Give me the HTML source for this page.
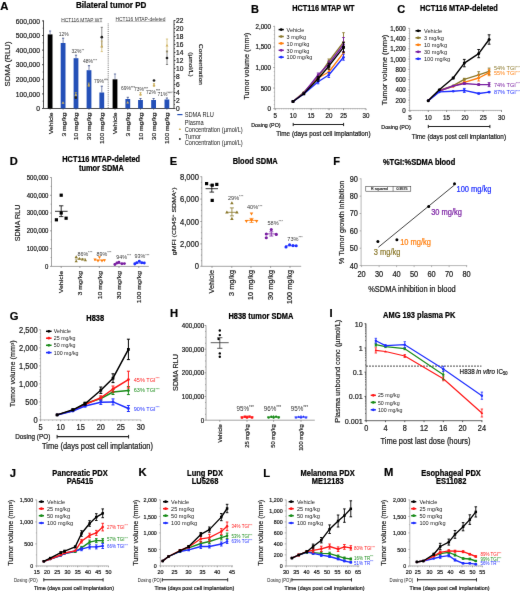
<!DOCTYPE html>
<html><head><meta charset="utf-8"><style>
html,body{margin:0;padding:0;background:#fff;width:520px;height:591px;overflow:hidden}
svg{display:block;will-change:transform}
text{font-family:"Liberation Sans", sans-serif;stroke:currentColor;stroke-width:0.2px;paint-order:stroke}
</style></head><body>
<svg width="520" height="591" viewBox="0 0 520 591">
<defs><filter id="bl" x="0" y="0" width="100%" height="100%" color-interpolation-filters="sRGB"><feConvolveMatrix order="3" kernelMatrix="0.00276 0.04704 0.00276 0.04704 0.80077 0.04704 0.00276 0.04704 0.00276" edgeMode="duplicate"/></filter></defs>
<g filter="url(#bl)">
<rect width="520" height="591" fill="#fff"/>
<text x="0.20" y="9.99" font-size="11.3" font-weight="bold" fill="#000" color="#000">A</text>
<text x="111.20" y="8.02" font-size="8.1" text-anchor="middle" font-weight="bold" fill="#000" color="#000" transform="matrix(1 0 0 1.1200 0 -0.612)">Bilateral tumor PD</text>
<line x1="43.50" y1="20.40" x2="43.50" y2="108.50" stroke="#222" stroke-width="0.8" />
<line x1="42.00" y1="108.50" x2="43.50" y2="108.50" stroke="#222" stroke-width="0.8" />
<text x="40.00" y="110.91" font-size="6.7" text-anchor="end" fill="#1a1a1a" color="#1a1a1a" transform="matrix(1 0 0 1.1200 0 -13.020)">0</text>
<line x1="42.00" y1="93.90" x2="43.50" y2="93.90" stroke="#222" stroke-width="0.8" />
<text x="40.00" y="96.31" font-size="6.7" text-anchor="end" fill="#1a1a1a" color="#1a1a1a" transform="matrix(1 0 0 1.1200 0 -11.268)">100,000</text>
<line x1="42.00" y1="79.30" x2="43.50" y2="79.30" stroke="#222" stroke-width="0.8" />
<text x="40.00" y="81.71" font-size="6.7" text-anchor="end" fill="#1a1a1a" color="#1a1a1a" transform="matrix(1 0 0 1.1200 0 -9.516)">200,000</text>
<line x1="42.00" y1="64.70" x2="43.50" y2="64.70" stroke="#222" stroke-width="0.8" />
<text x="40.00" y="67.11" font-size="6.7" text-anchor="end" fill="#1a1a1a" color="#1a1a1a" transform="matrix(1 0 0 1.1200 0 -7.764)">300,000</text>
<line x1="42.00" y1="50.10" x2="43.50" y2="50.10" stroke="#222" stroke-width="0.8" />
<text x="40.00" y="52.51" font-size="6.7" text-anchor="end" fill="#1a1a1a" color="#1a1a1a" transform="matrix(1 0 0 1.1200 0 -6.012)">400,000</text>
<line x1="42.00" y1="35.50" x2="43.50" y2="35.50" stroke="#222" stroke-width="0.8" />
<text x="40.00" y="37.91" font-size="6.7" text-anchor="end" fill="#1a1a1a" color="#1a1a1a" transform="matrix(1 0 0 1.1200 0 -4.260)">500,000</text>
<line x1="42.00" y1="20.90" x2="43.50" y2="20.90" stroke="#222" stroke-width="0.8" />
<text x="40.00" y="23.31" font-size="6.7" text-anchor="end" fill="#1a1a1a" color="#1a1a1a" transform="matrix(1 0 0 1.1200 0 -2.508)">600,000</text>
<line x1="42.60" y1="101.20" x2="43.50" y2="101.20" stroke="#222" stroke-width="0.6400000000000001" />
<line x1="42.60" y1="86.60" x2="43.50" y2="86.60" stroke="#222" stroke-width="0.6400000000000001" />
<line x1="42.60" y1="72.00" x2="43.50" y2="72.00" stroke="#222" stroke-width="0.6400000000000001" />
<line x1="42.60" y1="57.40" x2="43.50" y2="57.40" stroke="#222" stroke-width="0.6400000000000001" />
<line x1="42.60" y1="42.80" x2="43.50" y2="42.80" stroke="#222" stroke-width="0.6400000000000001" />
<line x1="42.60" y1="28.20" x2="43.50" y2="28.20" stroke="#222" stroke-width="0.6400000000000001" />
<text x="10.01" y="64.00" font-size="7.8" text-anchor="middle" fill="#1a1a1a" color="#1a1a1a" transform="matrix(0.8929 0 0 1 0.771 0) rotate(-90 10.01 64.00)">SDMA (RLU)</text>
<line x1="43.50" y1="108.50" x2="174.00" y2="108.50" stroke="#222" stroke-width="0.8" />
<line x1="174.00" y1="20.20" x2="174.00" y2="108.50" stroke="#222" stroke-width="0.8" />
<line x1="174.00" y1="108.50" x2="175.50" y2="108.50" stroke="#222" stroke-width="0.8" />
<text x="176.10" y="110.88" font-size="6.6" fill="#1a1a1a" color="#1a1a1a" transform="matrix(1 0 0 1.1200 0 -13.020)">0</text>
<line x1="174.00" y1="100.50" x2="175.50" y2="100.50" stroke="#222" stroke-width="0.8" />
<text x="176.10" y="102.88" font-size="6.6" fill="#1a1a1a" color="#1a1a1a" transform="matrix(1 0 0 1.1200 0 -12.060)">2</text>
<line x1="174.00" y1="92.50" x2="175.50" y2="92.50" stroke="#222" stroke-width="0.8" />
<text x="176.10" y="94.88" font-size="6.6" fill="#1a1a1a" color="#1a1a1a" transform="matrix(1 0 0 1.1200 0 -11.100)">4</text>
<line x1="174.00" y1="84.50" x2="175.50" y2="84.50" stroke="#222" stroke-width="0.8" />
<text x="176.10" y="86.88" font-size="6.6" fill="#1a1a1a" color="#1a1a1a" transform="matrix(1 0 0 1.1200 0 -10.140)">6</text>
<line x1="174.00" y1="76.50" x2="175.50" y2="76.50" stroke="#222" stroke-width="0.8" />
<text x="176.10" y="78.88" font-size="6.6" fill="#1a1a1a" color="#1a1a1a" transform="matrix(1 0 0 1.1200 0 -9.180)">8</text>
<line x1="174.00" y1="68.50" x2="175.50" y2="68.50" stroke="#222" stroke-width="0.8" />
<text x="176.10" y="70.88" font-size="6.6" fill="#1a1a1a" color="#1a1a1a" transform="matrix(1 0 0 1.1200 0 -8.220)">10</text>
<line x1="174.00" y1="60.50" x2="175.50" y2="60.50" stroke="#222" stroke-width="0.8" />
<text x="176.10" y="62.88" font-size="6.6" fill="#1a1a1a" color="#1a1a1a" transform="matrix(1 0 0 1.1200 0 -7.260)">12</text>
<line x1="174.00" y1="52.50" x2="175.50" y2="52.50" stroke="#222" stroke-width="0.8" />
<text x="176.10" y="54.88" font-size="6.6" fill="#1a1a1a" color="#1a1a1a" transform="matrix(1 0 0 1.1200 0 -6.300)">14</text>
<line x1="174.00" y1="44.50" x2="175.50" y2="44.50" stroke="#222" stroke-width="0.8" />
<text x="176.10" y="46.88" font-size="6.6" fill="#1a1a1a" color="#1a1a1a" transform="matrix(1 0 0 1.1200 0 -5.340)">16</text>
<line x1="174.00" y1="36.50" x2="175.50" y2="36.50" stroke="#222" stroke-width="0.8" />
<text x="176.10" y="38.88" font-size="6.6" fill="#1a1a1a" color="#1a1a1a" transform="matrix(1 0 0 1.1200 0 -4.380)">18</text>
<line x1="174.00" y1="28.50" x2="175.50" y2="28.50" stroke="#222" stroke-width="0.8" />
<text x="176.10" y="30.88" font-size="6.6" fill="#1a1a1a" color="#1a1a1a" transform="matrix(1 0 0 1.1200 0 -3.420)">20</text>
<line x1="174.00" y1="20.50" x2="175.50" y2="20.50" stroke="#222" stroke-width="0.8" />
<text x="176.10" y="22.88" font-size="6.6" fill="#1a1a1a" color="#1a1a1a" transform="matrix(1 0 0 1.1200 0 -2.460)">22</text>
<line x1="174.00" y1="104.50" x2="174.90" y2="104.50" stroke="#222" stroke-width="0.6400000000000001" />
<line x1="174.00" y1="96.50" x2="174.90" y2="96.50" stroke="#222" stroke-width="0.6400000000000001" />
<line x1="174.00" y1="88.50" x2="174.90" y2="88.50" stroke="#222" stroke-width="0.6400000000000001" />
<line x1="174.00" y1="80.50" x2="174.90" y2="80.50" stroke="#222" stroke-width="0.6400000000000001" />
<line x1="174.00" y1="72.50" x2="174.90" y2="72.50" stroke="#222" stroke-width="0.6400000000000001" />
<line x1="174.00" y1="64.50" x2="174.90" y2="64.50" stroke="#222" stroke-width="0.6400000000000001" />
<line x1="174.00" y1="56.50" x2="174.90" y2="56.50" stroke="#222" stroke-width="0.6400000000000001" />
<line x1="174.00" y1="48.50" x2="174.90" y2="48.50" stroke="#222" stroke-width="0.6400000000000001" />
<line x1="174.00" y1="40.50" x2="174.90" y2="40.50" stroke="#222" stroke-width="0.6400000000000001" />
<line x1="174.00" y1="32.50" x2="174.90" y2="32.50" stroke="#222" stroke-width="0.6400000000000001" />
<line x1="174.00" y1="24.50" x2="174.90" y2="24.50" stroke="#222" stroke-width="0.6400000000000001" />
<text x="198.62" y="64.50" font-size="6.6" text-anchor="middle" fill="#1a1a1a" color="#1a1a1a" transform="matrix(0.8929 0 0 1 21.536 0) rotate(90 198.62 64.50)">Concentration</text>
<text x="188.62" y="64.50" font-size="6.6" text-anchor="middle" fill="#1a1a1a" color="#1a1a1a" transform="matrix(0.8929 0 0 1 20.464 0) rotate(90 188.62 64.50)">(µmol/L)</text>
<line x1="108.20" y1="23.50" x2="108.20" y2="108.50" stroke="#333" stroke-width="0.7" stroke-dasharray="0.9,1.0"/>
<text x="81.80" y="21.56" font-size="4.9" text-anchor="middle" fill="#333" color="#333" transform="matrix(1 0 0 1.1200 0 -2.376)" style="stroke:none">HCT116 MTAP WT</text>
<line x1="61.40" y1="21.80" x2="102.20" y2="21.80" stroke="#555" stroke-width="0.35" />
<text x="140.50" y="21.26" font-size="4.9" text-anchor="middle" fill="#333" color="#333" transform="matrix(1 0 0 1.1200 0 -2.340)" style="stroke:none">HCT116 MTAP-deleted</text>
<line x1="115.50" y1="21.50" x2="165.50" y2="21.50" stroke="#555" stroke-width="0.35" />
<rect x="47.70" y="34.40" width="4.80" height="74.10" fill="#000" />
<line x1="50.10" y1="108.50" x2="50.10" y2="109.70" stroke="#333" stroke-width="0.6" />
<line x1="50.10" y1="31.00" x2="50.10" y2="34.40" stroke="#6070a0" stroke-width="0.7" />
<line x1="49.00" y1="31.00" x2="51.20" y2="31.00" stroke="#6070a0" stroke-width="0.9" />
<rect x="60.70" y="43.00" width="4.80" height="65.50" fill="#2450b8" />
<line x1="63.10" y1="108.50" x2="63.10" y2="109.70" stroke="#333" stroke-width="0.6" />
<line x1="63.10" y1="38.20" x2="63.10" y2="43.00" stroke="#4a5a90" stroke-width="0.7" />
<line x1="62.00" y1="38.20" x2="64.20" y2="38.20" stroke="#4a5a90" stroke-width="0.9" />
<rect x="73.60" y="58.20" width="4.80" height="50.30" fill="#2450b8" />
<line x1="76.00" y1="108.50" x2="76.00" y2="109.70" stroke="#333" stroke-width="0.6" />
<line x1="76.00" y1="55.20" x2="76.00" y2="58.20" stroke="#4a5a90" stroke-width="0.7" />
<line x1="74.90" y1="55.20" x2="77.10" y2="55.20" stroke="#4a5a90" stroke-width="0.9" />
<rect x="86.60" y="70.20" width="4.80" height="38.30" fill="#2450b8" />
<line x1="89.00" y1="108.50" x2="89.00" y2="109.70" stroke="#333" stroke-width="0.6" />
<line x1="89.00" y1="65.70" x2="89.00" y2="70.20" stroke="#4a5a90" stroke-width="0.7" />
<line x1="87.90" y1="65.70" x2="90.10" y2="65.70" stroke="#4a5a90" stroke-width="0.9" />
<rect x="99.40" y="92.50" width="4.80" height="16.00" fill="#2450b8" />
<line x1="101.80" y1="108.50" x2="101.80" y2="109.70" stroke="#333" stroke-width="0.6" />
<line x1="101.80" y1="86.20" x2="101.80" y2="92.50" stroke="#4a5a90" stroke-width="0.7" />
<line x1="100.70" y1="86.20" x2="102.90" y2="86.20" stroke="#4a5a90" stroke-width="0.9" />
<rect x="112.60" y="79.30" width="4.80" height="29.20" fill="#000" />
<line x1="115.00" y1="108.50" x2="115.00" y2="109.70" stroke="#333" stroke-width="0.6" />
<line x1="115.00" y1="74.00" x2="115.00" y2="79.30" stroke="#6070a0" stroke-width="0.7" />
<line x1="113.90" y1="74.00" x2="116.10" y2="74.00" stroke="#6070a0" stroke-width="0.9" />
<rect x="125.40" y="99.00" width="4.80" height="9.50" fill="#2450b8" />
<line x1="127.80" y1="108.50" x2="127.80" y2="109.70" stroke="#333" stroke-width="0.6" />
<line x1="127.80" y1="97.30" x2="127.80" y2="99.00" stroke="#4a5a90" stroke-width="0.7" />
<line x1="126.70" y1="97.30" x2="128.90" y2="97.30" stroke="#4a5a90" stroke-width="0.9" />
<rect x="138.10" y="100.00" width="4.80" height="8.50" fill="#2450b8" />
<line x1="140.50" y1="108.50" x2="140.50" y2="109.70" stroke="#333" stroke-width="0.6" />
<line x1="140.50" y1="98.50" x2="140.50" y2="100.00" stroke="#4a5a90" stroke-width="0.7" />
<line x1="139.40" y1="98.50" x2="141.60" y2="98.50" stroke="#4a5a90" stroke-width="0.9" />
<rect x="151.20" y="100.00" width="4.80" height="8.50" fill="#2450b8" />
<line x1="153.60" y1="108.50" x2="153.60" y2="109.70" stroke="#333" stroke-width="0.6" />
<line x1="153.60" y1="98.50" x2="153.60" y2="100.00" stroke="#4a5a90" stroke-width="0.7" />
<line x1="152.50" y1="98.50" x2="154.70" y2="98.50" stroke="#4a5a90" stroke-width="0.9" />
<rect x="164.50" y="99.50" width="4.80" height="9.00" fill="#2450b8" />
<line x1="166.90" y1="108.50" x2="166.90" y2="109.70" stroke="#333" stroke-width="0.6" />
<line x1="166.90" y1="98.00" x2="166.90" y2="99.50" stroke="#4a5a90" stroke-width="0.7" />
<line x1="165.80" y1="98.00" x2="168.00" y2="98.00" stroke="#4a5a90" stroke-width="0.9" />
<text x="52.85" y="112.40" font-size="6.8" text-anchor="end" fill="#1a1a1a" color="#1a1a1a" transform="matrix(0.8929 0 0 1 5.400 0) rotate(-90 52.85 112.40)">Vehicle</text>
<text x="65.85" y="112.40" font-size="6.8" text-anchor="end" fill="#1a1a1a" color="#1a1a1a" transform="matrix(0.8929 0 0 1 6.793 0) rotate(-90 65.85 112.40)">3 mg/kg</text>
<text x="78.75" y="112.40" font-size="6.8" text-anchor="end" fill="#1a1a1a" color="#1a1a1a" transform="matrix(0.8929 0 0 1 8.175 0) rotate(-90 78.75 112.40)">10 mg/kg</text>
<text x="91.75" y="112.40" font-size="6.8" text-anchor="end" fill="#1a1a1a" color="#1a1a1a" transform="matrix(0.8929 0 0 1 9.568 0) rotate(-90 91.75 112.40)">30 mg/kg</text>
<text x="104.55" y="112.40" font-size="6.8" text-anchor="end" fill="#1a1a1a" color="#1a1a1a" transform="matrix(0.8929 0 0 1 10.939 0) rotate(-90 104.55 112.40)">100 mg/kg</text>
<text x="117.75" y="112.40" font-size="6.8" text-anchor="end" fill="#1a1a1a" color="#1a1a1a" transform="matrix(0.8929 0 0 1 12.354 0) rotate(-90 117.75 112.40)">Vehicle</text>
<text x="130.55" y="112.40" font-size="6.8" text-anchor="end" fill="#1a1a1a" color="#1a1a1a" transform="matrix(0.8929 0 0 1 13.725 0) rotate(-90 130.55 112.40)">3 mg/kg</text>
<text x="143.25" y="112.40" font-size="6.8" text-anchor="end" fill="#1a1a1a" color="#1a1a1a" transform="matrix(0.8929 0 0 1 15.086 0) rotate(-90 143.25 112.40)">10 mg/kg</text>
<text x="156.35" y="112.40" font-size="6.8" text-anchor="end" fill="#1a1a1a" color="#1a1a1a" transform="matrix(0.8929 0 0 1 16.489 0) rotate(-90 156.35 112.40)">30 mg/kg</text>
<text x="169.65" y="112.40" font-size="6.8" text-anchor="end" fill="#1a1a1a" color="#1a1a1a" transform="matrix(0.8929 0 0 1 17.914 0) rotate(-90 169.65 112.40)">100 mg/kg</text>
<text x="58.80" y="36.20" font-size="5.0" fill="#3a3a3a" color="#3a3a3a" transform="matrix(1 0 0 1.1200 0 -4.128)" style="stroke:none">12%</text>
<text x="71.50" y="52.80" font-size="5.0" fill="#3a3a3a" color="#3a3a3a" transform="matrix(1 0 0 1.1200 0 -6.120)" style="stroke:none">32%</text>
<text x="81.41" y="51.40" font-size="3.6" fill="#3a3a3a" color="#3a3a3a" transform="matrix(1 0 0 1.1200 0 -6.012)" style="stroke:none">**</text>
<text x="83.00" y="62.80" font-size="5.0" fill="#3a3a3a" color="#3a3a3a" transform="matrix(1 0 0 1.1200 0 -7.320)" style="stroke:none">48%</text>
<text x="92.91" y="61.40" font-size="3.6" fill="#3a3a3a" color="#3a3a3a" transform="matrix(1 0 0 1.1200 0 -7.212)" style="stroke:none">***</text>
<text x="94.00" y="82.80" font-size="5.0" fill="#3a3a3a" color="#3a3a3a" transform="matrix(1 0 0 1.1200 0 -9.720)" style="stroke:none">79%</text>
<text x="103.91" y="81.40" font-size="3.6" fill="#3a3a3a" color="#3a3a3a" transform="matrix(1 0 0 1.1200 0 -9.612)" style="stroke:none">***</text>
<line x1="104.50" y1="79.00" x2="107.50" y2="79.00" stroke="#555" stroke-width="0.4" />
<text x="121.00" y="90.00" font-size="5.0" fill="#3a3a3a" color="#3a3a3a" transform="matrix(1 0 0 1.1200 0 -10.584)" style="stroke:none">69%</text>
<text x="130.91" y="88.60" font-size="3.6" fill="#3a3a3a" color="#3a3a3a" transform="matrix(1 0 0 1.1200 0 -10.476)" style="stroke:none">***</text>
<text x="134.00" y="91.00" font-size="5.0" fill="#3a3a3a" color="#3a3a3a" transform="matrix(1 0 0 1.1200 0 -10.704)" style="stroke:none">73%</text>
<text x="143.91" y="89.60" font-size="3.6" fill="#3a3a3a" color="#3a3a3a" transform="matrix(1 0 0 1.1200 0 -10.596)" style="stroke:none">***</text>
<text x="146.00" y="93.40" font-size="5.0" fill="#3a3a3a" color="#3a3a3a" transform="matrix(1 0 0 1.1200 0 -10.992)" style="stroke:none">72%</text>
<text x="155.91" y="92.00" font-size="3.6" fill="#3a3a3a" color="#3a3a3a" transform="matrix(1 0 0 1.1200 0 -10.884)" style="stroke:none">***</text>
<text x="157.50" y="95.80" font-size="5.0" fill="#3a3a3a" color="#3a3a3a" transform="matrix(1 0 0 1.1200 0 -11.280)" style="stroke:none">71%</text>
<text x="167.41" y="94.40" font-size="3.6" fill="#3a3a3a" color="#3a3a3a" transform="matrix(1 0 0 1.1200 0 -11.172)" style="stroke:none">***</text>
<line x1="130.50" y1="87.00" x2="133.50" y2="87.00" stroke="#666" stroke-width="0.4" />
<line x1="143.50" y1="88.00" x2="147.50" y2="88.00" stroke="#666" stroke-width="0.4" />
<line x1="156.00" y1="90.00" x2="160.00" y2="90.00" stroke="#666" stroke-width="0.4" />
<line x1="166.50" y1="92.00" x2="174.00" y2="92.00" stroke="#666" stroke-width="0.4" />
<line x1="101.80" y1="27.30" x2="101.80" y2="47.00" stroke="#444" stroke-width="0.6" />
<line x1="100.70" y1="27.30" x2="102.90" y2="27.30" stroke="#444" stroke-width="0.6" />
<line x1="100.70" y1="47.00" x2="102.90" y2="47.00" stroke="#444" stroke-width="0.6" />
<circle cx="101.80" cy="37.20" r="1.35" fill="#222" />
<line x1="101.80" y1="41.00" x2="101.80" y2="51.60" stroke="#c8a848" stroke-width="0.6" />
<line x1="100.70" y1="41.00" x2="102.90" y2="41.00" stroke="#c8a848" stroke-width="0.6" />
<line x1="100.70" y1="51.60" x2="102.90" y2="51.60" stroke="#c8a848" stroke-width="0.6" />
<polygon points="101.80,44.87 100.37,47.34 103.23,47.34" fill="#cdb060"/>
<line x1="167.00" y1="39.00" x2="167.00" y2="52.00" stroke="#c8a848" stroke-width="0.6" />
<line x1="165.90" y1="39.00" x2="168.10" y2="39.00" stroke="#c8a848" stroke-width="0.6" />
<line x1="165.90" y1="52.00" x2="168.10" y2="52.00" stroke="#c8a848" stroke-width="0.6" />
<polygon points="167.00,44.07 165.57,46.54 168.43,46.54" fill="#cdb060"/>
<line x1="167.00" y1="51.00" x2="167.00" y2="64.50" stroke="#444" stroke-width="0.6" />
<line x1="165.90" y1="51.00" x2="168.10" y2="51.00" stroke="#444" stroke-width="0.6" />
<line x1="165.90" y1="64.50" x2="168.10" y2="64.50" stroke="#444" stroke-width="0.6" />
<circle cx="167.00" cy="58.00" r="1.35" fill="#222" />
<circle cx="154.00" cy="80.50" r="1.35" fill="#222" />
<line x1="154.00" y1="83.50" x2="154.00" y2="86.50" stroke="#c8a848" stroke-width="0.6" />
<line x1="152.90" y1="83.50" x2="155.10" y2="83.50" stroke="#c8a848" stroke-width="0.6" />
<line x1="152.90" y1="86.50" x2="155.10" y2="86.50" stroke="#c8a848" stroke-width="0.6" />
<polygon points="154.00,83.57 152.57,86.04 155.43,86.04" fill="#cdb060"/>
<line x1="140.50" y1="92.50" x2="140.50" y2="95.50" stroke="#c8a848" stroke-width="0.6" />
<line x1="139.40" y1="92.50" x2="141.60" y2="92.50" stroke="#c8a848" stroke-width="0.6" />
<line x1="139.40" y1="95.50" x2="141.60" y2="95.50" stroke="#c8a848" stroke-width="0.6" />
<polygon points="140.50,92.57 139.07,95.04 141.93,95.04" fill="#cdb060"/>
<polygon points="127.70,101.07 126.27,103.54 129.13,103.54" fill="#cdb060"/>
<polygon points="63.00,101.37 61.57,103.84 64.43,103.84" fill="#cdb060"/>
<line x1="75.80" y1="92.50" x2="75.80" y2="97.50" stroke="#c8a848" stroke-width="0.6" />
<line x1="74.70" y1="92.50" x2="76.90" y2="92.50" stroke="#c8a848" stroke-width="0.6" />
<line x1="74.70" y1="97.50" x2="76.90" y2="97.50" stroke="#c8a848" stroke-width="0.6" />
<polygon points="75.80,93.37 74.37,95.84 77.23,95.84" fill="#cdb060"/>
<circle cx="75.80" cy="97.70" r="1.35" fill="#222" />
<line x1="88.80" y1="83.00" x2="88.80" y2="86.50" stroke="#c8a848" stroke-width="0.6" />
<line x1="87.70" y1="83.00" x2="89.90" y2="83.00" stroke="#c8a848" stroke-width="0.6" />
<line x1="87.70" y1="86.50" x2="89.90" y2="86.50" stroke="#c8a848" stroke-width="0.6" />
<polygon points="88.80,83.37 87.37,85.84 90.23,85.84" fill="#cdb060"/>
<line x1="177.30" y1="114.60" x2="182.50" y2="114.60" stroke="#2450b8" stroke-width="1.2" />
<text x="184.70" y="116.65" font-size="5.7" fill="#222" color="#222" transform="matrix(1 0 0 1.1200 0 -13.752)" style="stroke:none">SDMA RLU</text>
<polygon points="179.90,127.79 178.69,129.88 181.11,129.88" fill="#cdb060"/>
<text x="184.70" y="124.65" font-size="5.7" fill="#222" color="#222" transform="matrix(1 0 0 1.1200 0 -14.712)" style="stroke:none">Plasma</text>
<text x="184.70" y="131.45" font-size="5.7" fill="#222" color="#222" transform="matrix(1 0 0 1.1200 0 -15.528)" style="stroke:none">Concentration (µmol/L)</text>
<circle cx="179.90" cy="139.00" r="1.0" fill="#333" />
<text x="184.70" y="138.45" font-size="5.7" fill="#222" color="#222" transform="matrix(1 0 0 1.1200 0 -16.368)" style="stroke:none">Tumor</text>
<text x="184.70" y="145.25" font-size="5.7" fill="#222" color="#222" transform="matrix(1 0 0 1.1200 0 -17.184)" style="stroke:none">Concentration (µmol/L)</text>
<text x="251.00" y="12.68" font-size="11.0" font-weight="bold" fill="#000" color="#000">B</text>
<text x="323.40" y="10.23" font-size="7.3" text-anchor="middle" font-weight="bold" fill="#000" color="#000" transform="matrix(1 0 0 1.1200 0 -0.912)">HCT116 MTAP WT</text>
<line x1="274.60" y1="25.80" x2="274.60" y2="108.60" stroke="#888" stroke-width="0.6" />
<line x1="273.10" y1="108.60" x2="274.60" y2="108.60" stroke="#888" stroke-width="0.6" />
<text x="271.00" y="110.83" font-size="6.2" text-anchor="end" fill="#1a1a1a" color="#1a1a1a" transform="matrix(1 0 0 1.1200 0 -13.032)">0</text>
<line x1="273.10" y1="88.05" x2="274.60" y2="88.05" stroke="#888" stroke-width="0.6" />
<text x="271.00" y="90.28" font-size="6.2" text-anchor="end" fill="#1a1a1a" color="#1a1a1a" transform="matrix(1 0 0 1.1200 0 -10.566)">500</text>
<line x1="273.10" y1="67.50" x2="274.60" y2="67.50" stroke="#888" stroke-width="0.6" />
<text x="271.00" y="69.73" font-size="6.2" text-anchor="end" fill="#1a1a1a" color="#1a1a1a" transform="matrix(1 0 0 1.1200 0 -8.100)">1,000</text>
<line x1="273.10" y1="46.95" x2="274.60" y2="46.95" stroke="#888" stroke-width="0.6" />
<text x="271.00" y="49.18" font-size="6.2" text-anchor="end" fill="#1a1a1a" color="#1a1a1a" transform="matrix(1 0 0 1.1200 0 -5.634)">1,500</text>
<line x1="273.10" y1="26.40" x2="274.60" y2="26.40" stroke="#888" stroke-width="0.6" />
<text x="271.00" y="28.63" font-size="6.2" text-anchor="end" fill="#1a1a1a" color="#1a1a1a" transform="matrix(1 0 0 1.1200 0 -3.168)">2,000</text>
<line x1="273.70" y1="104.49" x2="274.60" y2="104.49" stroke="#888" stroke-width="0.48" />
<line x1="273.70" y1="100.38" x2="274.60" y2="100.38" stroke="#888" stroke-width="0.48" />
<line x1="273.70" y1="96.27" x2="274.60" y2="96.27" stroke="#888" stroke-width="0.48" />
<line x1="273.70" y1="92.16" x2="274.60" y2="92.16" stroke="#888" stroke-width="0.48" />
<line x1="273.70" y1="88.05" x2="274.60" y2="88.05" stroke="#888" stroke-width="0.48" />
<line x1="273.70" y1="83.94" x2="274.60" y2="83.94" stroke="#888" stroke-width="0.48" />
<line x1="273.70" y1="79.83" x2="274.60" y2="79.83" stroke="#888" stroke-width="0.48" />
<line x1="273.70" y1="75.72" x2="274.60" y2="75.72" stroke="#888" stroke-width="0.48" />
<line x1="273.70" y1="71.61" x2="274.60" y2="71.61" stroke="#888" stroke-width="0.48" />
<line x1="273.70" y1="67.50" x2="274.60" y2="67.50" stroke="#888" stroke-width="0.48" />
<line x1="273.70" y1="63.39" x2="274.60" y2="63.39" stroke="#888" stroke-width="0.48" />
<line x1="273.70" y1="59.28" x2="274.60" y2="59.28" stroke="#888" stroke-width="0.48" />
<line x1="273.70" y1="55.17" x2="274.60" y2="55.17" stroke="#888" stroke-width="0.48" />
<line x1="273.70" y1="51.06" x2="274.60" y2="51.06" stroke="#888" stroke-width="0.48" />
<line x1="273.70" y1="46.95" x2="274.60" y2="46.95" stroke="#888" stroke-width="0.48" />
<line x1="273.70" y1="42.84" x2="274.60" y2="42.84" stroke="#888" stroke-width="0.48" />
<line x1="273.70" y1="38.73" x2="274.60" y2="38.73" stroke="#888" stroke-width="0.48" />
<line x1="273.70" y1="34.62" x2="274.60" y2="34.62" stroke="#888" stroke-width="0.48" />
<line x1="273.70" y1="30.51" x2="274.60" y2="30.51" stroke="#888" stroke-width="0.48" />
<line x1="274.60" y1="108.60" x2="366.00" y2="108.60" stroke="#888" stroke-width="0.6" />
<line x1="275.20" y1="108.60" x2="275.20" y2="110.20" stroke="#444" stroke-width="0.6" />
<text x="275.20" y="117.63" font-size="6.2" text-anchor="middle" fill="#1a1a1a" color="#1a1a1a" transform="matrix(1 0 0 1.1200 0 -13.848)">5</text>
<line x1="293.20" y1="108.60" x2="293.20" y2="110.20" stroke="#444" stroke-width="0.6" />
<text x="293.20" y="117.63" font-size="6.2" text-anchor="middle" fill="#1a1a1a" color="#1a1a1a" transform="matrix(1 0 0 1.1200 0 -13.848)">10</text>
<line x1="311.10" y1="108.60" x2="311.10" y2="110.20" stroke="#444" stroke-width="0.6" />
<text x="311.10" y="117.63" font-size="6.2" text-anchor="middle" fill="#1a1a1a" color="#1a1a1a" transform="matrix(1 0 0 1.1200 0 -13.848)">15</text>
<line x1="329.00" y1="108.60" x2="329.00" y2="110.20" stroke="#444" stroke-width="0.6" />
<text x="329.00" y="117.63" font-size="6.2" text-anchor="middle" fill="#1a1a1a" color="#1a1a1a" transform="matrix(1 0 0 1.1200 0 -13.848)">20</text>
<line x1="343.60" y1="108.60" x2="343.60" y2="110.20" stroke="#444" stroke-width="0.6" />
<text x="343.60" y="117.63" font-size="6.2" text-anchor="middle" fill="#1a1a1a" color="#1a1a1a" transform="matrix(1 0 0 1.1200 0 -13.848)">25</text>
<line x1="366.00" y1="108.60" x2="366.00" y2="110.20" stroke="#444" stroke-width="0.6" />
<text x="366.00" y="117.63" font-size="6.2" text-anchor="middle" fill="#1a1a1a" color="#1a1a1a" transform="matrix(1 0 0 1.1200 0 -13.848)">30</text>
<line x1="274.60" y1="108.60" x2="274.60" y2="109.40" stroke="#888" stroke-width="0.4" />
<line x1="276.90" y1="108.60" x2="276.90" y2="109.40" stroke="#888" stroke-width="0.4" />
<line x1="279.20" y1="108.60" x2="279.20" y2="109.40" stroke="#888" stroke-width="0.4" />
<line x1="281.50" y1="108.60" x2="281.50" y2="109.40" stroke="#888" stroke-width="0.4" />
<line x1="283.80" y1="108.60" x2="283.80" y2="109.40" stroke="#888" stroke-width="0.4" />
<line x1="286.10" y1="108.60" x2="286.10" y2="109.40" stroke="#888" stroke-width="0.4" />
<line x1="288.40" y1="108.60" x2="288.40" y2="109.40" stroke="#888" stroke-width="0.4" />
<line x1="290.70" y1="108.60" x2="290.70" y2="109.40" stroke="#888" stroke-width="0.4" />
<line x1="293.00" y1="108.60" x2="293.00" y2="109.40" stroke="#888" stroke-width="0.4" />
<line x1="295.30" y1="108.60" x2="295.30" y2="109.40" stroke="#888" stroke-width="0.4" />
<line x1="297.60" y1="108.60" x2="297.60" y2="109.40" stroke="#888" stroke-width="0.4" />
<line x1="299.90" y1="108.60" x2="299.90" y2="109.40" stroke="#888" stroke-width="0.4" />
<line x1="302.20" y1="108.60" x2="302.20" y2="109.40" stroke="#888" stroke-width="0.4" />
<line x1="304.50" y1="108.60" x2="304.50" y2="109.40" stroke="#888" stroke-width="0.4" />
<line x1="306.80" y1="108.60" x2="306.80" y2="109.40" stroke="#888" stroke-width="0.4" />
<line x1="309.10" y1="108.60" x2="309.10" y2="109.40" stroke="#888" stroke-width="0.4" />
<line x1="311.40" y1="108.60" x2="311.40" y2="109.40" stroke="#888" stroke-width="0.4" />
<line x1="313.70" y1="108.60" x2="313.70" y2="109.40" stroke="#888" stroke-width="0.4" />
<line x1="316.00" y1="108.60" x2="316.00" y2="109.40" stroke="#888" stroke-width="0.4" />
<line x1="318.30" y1="108.60" x2="318.30" y2="109.40" stroke="#888" stroke-width="0.4" />
<line x1="320.60" y1="108.60" x2="320.60" y2="109.40" stroke="#888" stroke-width="0.4" />
<line x1="322.90" y1="108.60" x2="322.90" y2="109.40" stroke="#888" stroke-width="0.4" />
<line x1="325.20" y1="108.60" x2="325.20" y2="109.40" stroke="#888" stroke-width="0.4" />
<line x1="327.50" y1="108.60" x2="327.50" y2="109.40" stroke="#888" stroke-width="0.4" />
<line x1="329.80" y1="108.60" x2="329.80" y2="109.40" stroke="#888" stroke-width="0.4" />
<line x1="332.10" y1="108.60" x2="332.10" y2="109.40" stroke="#888" stroke-width="0.4" />
<line x1="334.40" y1="108.60" x2="334.40" y2="109.40" stroke="#888" stroke-width="0.4" />
<line x1="336.70" y1="108.60" x2="336.70" y2="109.40" stroke="#888" stroke-width="0.4" />
<line x1="339.00" y1="108.60" x2="339.00" y2="109.40" stroke="#888" stroke-width="0.4" />
<line x1="341.30" y1="108.60" x2="341.30" y2="109.40" stroke="#888" stroke-width="0.4" />
<line x1="343.60" y1="108.60" x2="343.60" y2="109.40" stroke="#888" stroke-width="0.4" />
<line x1="345.90" y1="108.60" x2="345.90" y2="109.40" stroke="#888" stroke-width="0.4" />
<line x1="348.20" y1="108.60" x2="348.20" y2="109.40" stroke="#888" stroke-width="0.4" />
<line x1="350.50" y1="108.60" x2="350.50" y2="109.40" stroke="#888" stroke-width="0.4" />
<line x1="352.80" y1="108.60" x2="352.80" y2="109.40" stroke="#888" stroke-width="0.4" />
<line x1="355.10" y1="108.60" x2="355.10" y2="109.40" stroke="#888" stroke-width="0.4" />
<line x1="357.40" y1="108.60" x2="357.40" y2="109.40" stroke="#888" stroke-width="0.4" />
<line x1="359.70" y1="108.60" x2="359.70" y2="109.40" stroke="#888" stroke-width="0.4" />
<line x1="362.00" y1="108.60" x2="362.00" y2="109.40" stroke="#888" stroke-width="0.4" />
<line x1="364.30" y1="108.60" x2="364.30" y2="109.40" stroke="#888" stroke-width="0.4" />
<text x="249.59" y="66.20" font-size="7.2" text-anchor="middle" fill="#1a1a1a" color="#1a1a1a" transform="matrix(0.8929 0 0 1 26.464 0) rotate(-90 249.59 66.20)">Tumor volume (mm³)</text>
<text x="251.20" y="126.53" font-size="5.35" fill="#1a1a1a" color="#1a1a1a" transform="matrix(1 0 0 1.1200 0 -14.952)">Dosing (PO)</text>
<line x1="293.20" y1="124.50" x2="343.60" y2="124.50" stroke="#222" stroke-width="1.2" />
<line x1="293.20" y1="122.90" x2="293.20" y2="126.10" stroke="#222" stroke-width="1.0" />
<line x1="343.60" y1="122.90" x2="343.60" y2="126.10" stroke="#222" stroke-width="1.0" />
<text x="323.40" y="136.09" font-size="6.35" text-anchor="middle" fill="#1a1a1a" color="#1a1a1a" transform="matrix(1 0 0 1.1200 0 -16.056)">Time (days post cell implantation)</text>
<line x1="278.60" y1="29.60" x2="283.80" y2="29.60" stroke="#000000" stroke-width="1.5" />
<circle cx="281.20" cy="29.60" r="1.35" fill="#000000" />
<text x="286.60" y="31.58" font-size="5.5" fill="#1a1a1a" color="#1a1a1a" transform="matrix(1 0 0 1.1200 0 -3.552)" style="stroke:none">Vehicle</text>
<line x1="278.60" y1="36.50" x2="283.80" y2="36.50" stroke="#8c7a2e" stroke-width="1.5" />
<circle cx="281.20" cy="36.50" r="1.35" fill="#8c7a2e" />
<text x="286.60" y="38.48" font-size="5.5" fill="#1a1a1a" color="#1a1a1a" transform="matrix(1 0 0 1.1200 0 -4.380)" style="stroke:none">3 mg/kg</text>
<line x1="278.60" y1="43.40" x2="283.80" y2="43.40" stroke="#ff7f0e" stroke-width="1.5" />
<circle cx="281.20" cy="43.40" r="1.35" fill="#ff7f0e" />
<text x="286.60" y="45.38" font-size="5.5" fill="#1a1a1a" color="#1a1a1a" transform="matrix(1 0 0 1.1200 0 -5.208)" style="stroke:none">10 mg/kg</text>
<line x1="278.60" y1="50.30" x2="283.80" y2="50.30" stroke="#7a1fa2" stroke-width="1.5" />
<circle cx="281.20" cy="50.30" r="1.35" fill="#7a1fa2" />
<text x="286.60" y="52.28" font-size="5.5" fill="#1a1a1a" color="#1a1a1a" transform="matrix(1 0 0 1.1200 0 -6.036)" style="stroke:none">30 mg/kg</text>
<line x1="278.60" y1="57.20" x2="283.80" y2="57.20" stroke="#1f2fff" stroke-width="1.5" />
<circle cx="281.20" cy="57.20" r="1.35" fill="#1f2fff" />
<text x="286.60" y="59.18" font-size="5.5" fill="#1a1a1a" color="#1a1a1a" transform="matrix(1 0 0 1.1200 0 -6.864)" style="stroke:none">100 mg/kg</text>
<polyline points="293.00,101.50 303.80,92.30 318.10,77.20 328.80,61.50 343.50,42.20" fill="none" stroke="#8c7a2e" stroke-width="1.35" stroke-linejoin="round" />
<circle cx="293.00" cy="101.50" r="1.3" fill="#8c7a2e" />
<circle cx="303.80" cy="92.30" r="1.3" fill="#8c7a2e" />
<circle cx="318.10" cy="77.20" r="1.3" fill="#8c7a2e" />
<line x1="328.80" y1="59.00" x2="328.80" y2="64.00" stroke="#8c7a2e" stroke-width="0.9" />
<line x1="327.50" y1="59.00" x2="330.10" y2="59.00" stroke="#8c7a2e" stroke-width="0.9" />
<line x1="327.50" y1="64.00" x2="330.10" y2="64.00" stroke="#8c7a2e" stroke-width="0.9" />
<circle cx="328.80" cy="61.50" r="1.3" fill="#8c7a2e" />
<line x1="343.50" y1="32.70" x2="343.50" y2="51.70" stroke="#8c7a2e" stroke-width="0.9" />
<line x1="342.20" y1="32.70" x2="344.80" y2="32.70" stroke="#8c7a2e" stroke-width="0.9" />
<line x1="342.20" y1="51.70" x2="344.80" y2="51.70" stroke="#8c7a2e" stroke-width="0.9" />
<circle cx="343.50" cy="42.20" r="1.3" fill="#8c7a2e" />
<polyline points="293.00,101.50 303.80,93.40 318.10,78.00 328.80,72.00 343.50,52.80" fill="none" stroke="#ff7f0e" stroke-width="1.35" stroke-linejoin="round" />
<circle cx="293.00" cy="101.50" r="1.3" fill="#ff7f0e" />
<circle cx="303.80" cy="93.40" r="1.3" fill="#ff7f0e" />
<line x1="318.10" y1="76.00" x2="318.10" y2="80.00" stroke="#ff7f0e" stroke-width="0.9" />
<line x1="316.80" y1="76.00" x2="319.40" y2="76.00" stroke="#ff7f0e" stroke-width="0.9" />
<line x1="316.80" y1="80.00" x2="319.40" y2="80.00" stroke="#ff7f0e" stroke-width="0.9" />
<circle cx="318.10" cy="78.00" r="1.3" fill="#ff7f0e" />
<line x1="328.80" y1="69.00" x2="328.80" y2="75.00" stroke="#ff7f0e" stroke-width="0.9" />
<line x1="327.50" y1="69.00" x2="330.10" y2="69.00" stroke="#ff7f0e" stroke-width="0.9" />
<line x1="327.50" y1="75.00" x2="330.10" y2="75.00" stroke="#ff7f0e" stroke-width="0.9" />
<circle cx="328.80" cy="72.00" r="1.3" fill="#ff7f0e" />
<line x1="343.50" y1="47.80" x2="343.50" y2="57.80" stroke="#ff7f0e" stroke-width="0.9" />
<line x1="342.20" y1="47.80" x2="344.80" y2="47.80" stroke="#ff7f0e" stroke-width="0.9" />
<line x1="342.20" y1="57.80" x2="344.80" y2="57.80" stroke="#ff7f0e" stroke-width="0.9" />
<circle cx="343.50" cy="52.80" r="1.3" fill="#ff7f0e" />
<polyline points="293.00,101.50 303.80,93.00 318.10,75.00 328.80,64.00 343.50,44.50" fill="none" stroke="#7a1fa2" stroke-width="1.35" stroke-linejoin="round" />
<circle cx="293.00" cy="101.50" r="1.3" fill="#7a1fa2" />
<circle cx="303.80" cy="93.00" r="1.3" fill="#7a1fa2" />
<line x1="318.10" y1="73.00" x2="318.10" y2="77.00" stroke="#7a1fa2" stroke-width="0.9" />
<line x1="316.80" y1="73.00" x2="319.40" y2="73.00" stroke="#7a1fa2" stroke-width="0.9" />
<line x1="316.80" y1="77.00" x2="319.40" y2="77.00" stroke="#7a1fa2" stroke-width="0.9" />
<circle cx="318.10" cy="75.00" r="1.3" fill="#7a1fa2" />
<line x1="328.80" y1="61.00" x2="328.80" y2="67.00" stroke="#7a1fa2" stroke-width="0.9" />
<line x1="327.50" y1="61.00" x2="330.10" y2="61.00" stroke="#7a1fa2" stroke-width="0.9" />
<line x1="327.50" y1="67.00" x2="330.10" y2="67.00" stroke="#7a1fa2" stroke-width="0.9" />
<circle cx="328.80" cy="64.00" r="1.3" fill="#7a1fa2" />
<line x1="343.50" y1="37.50" x2="343.50" y2="51.50" stroke="#7a1fa2" stroke-width="0.9" />
<line x1="342.20" y1="37.50" x2="344.80" y2="37.50" stroke="#7a1fa2" stroke-width="0.9" />
<line x1="342.20" y1="51.50" x2="344.80" y2="51.50" stroke="#7a1fa2" stroke-width="0.9" />
<circle cx="343.50" cy="44.50" r="1.3" fill="#7a1fa2" />
<polyline points="293.00,101.50 303.80,94.00 318.10,81.80 328.80,75.00 343.50,57.20" fill="none" stroke="#1f2fff" stroke-width="1.35" stroke-linejoin="round" />
<circle cx="293.00" cy="101.50" r="1.3" fill="#1f2fff" />
<circle cx="303.80" cy="94.00" r="1.3" fill="#1f2fff" />
<line x1="318.10" y1="79.80" x2="318.10" y2="83.80" stroke="#1f2fff" stroke-width="0.9" />
<line x1="316.80" y1="79.80" x2="319.40" y2="79.80" stroke="#1f2fff" stroke-width="0.9" />
<line x1="316.80" y1="83.80" x2="319.40" y2="83.80" stroke="#1f2fff" stroke-width="0.9" />
<circle cx="318.10" cy="81.80" r="1.3" fill="#1f2fff" />
<line x1="328.80" y1="72.50" x2="328.80" y2="77.50" stroke="#1f2fff" stroke-width="0.9" />
<line x1="327.50" y1="72.50" x2="330.10" y2="72.50" stroke="#1f2fff" stroke-width="0.9" />
<line x1="327.50" y1="77.50" x2="330.10" y2="77.50" stroke="#1f2fff" stroke-width="0.9" />
<circle cx="328.80" cy="75.00" r="1.3" fill="#1f2fff" />
<line x1="343.50" y1="54.20" x2="343.50" y2="60.20" stroke="#1f2fff" stroke-width="0.9" />
<line x1="342.20" y1="54.20" x2="344.80" y2="54.20" stroke="#1f2fff" stroke-width="0.9" />
<line x1="342.20" y1="60.20" x2="344.80" y2="60.20" stroke="#1f2fff" stroke-width="0.9" />
<circle cx="343.50" cy="57.20" r="1.3" fill="#1f2fff" />
<polyline points="293.00,101.50 303.80,93.80 318.10,78.80 328.80,66.20 343.50,47.30" fill="none" stroke="#000000" stroke-width="1.35" stroke-linejoin="round" />
<rect x="291.55" y="100.05" width="2.90" height="2.90" fill="#000000" />
<rect x="302.35" y="92.35" width="2.90" height="2.90" fill="#000000" />
<line x1="318.10" y1="76.30" x2="318.10" y2="81.30" stroke="#000000" stroke-width="0.9" />
<line x1="316.80" y1="76.30" x2="319.40" y2="76.30" stroke="#000000" stroke-width="0.9" />
<line x1="316.80" y1="81.30" x2="319.40" y2="81.30" stroke="#000000" stroke-width="0.9" />
<rect x="316.65" y="77.35" width="2.90" height="2.90" fill="#000000" />
<line x1="328.80" y1="63.20" x2="328.80" y2="69.20" stroke="#000000" stroke-width="0.9" />
<line x1="327.50" y1="63.20" x2="330.10" y2="63.20" stroke="#000000" stroke-width="0.9" />
<line x1="327.50" y1="69.20" x2="330.10" y2="69.20" stroke="#000000" stroke-width="0.9" />
<rect x="327.35" y="64.75" width="2.90" height="2.90" fill="#000000" />
<line x1="343.50" y1="42.30" x2="343.50" y2="52.30" stroke="#000000" stroke-width="0.9" />
<line x1="342.20" y1="42.30" x2="344.80" y2="42.30" stroke="#000000" stroke-width="0.9" />
<line x1="342.20" y1="52.30" x2="344.80" y2="52.30" stroke="#000000" stroke-width="0.9" />
<rect x="342.05" y="45.85" width="2.90" height="2.90" fill="#000000" />
<text x="397.20" y="13.08" font-size="11.0" font-weight="bold" fill="#000" color="#000">C</text>
<text x="458.90" y="10.76" font-size="7.4" text-anchor="middle" font-weight="bold" fill="#000" color="#000" transform="matrix(1 0 0 1.1200 0 -0.972)">HCT116 MTAP-deleted</text>
<line x1="409.60" y1="28.10" x2="409.60" y2="110.40" stroke="#888" stroke-width="0.6" />
<line x1="408.10" y1="110.40" x2="409.60" y2="110.40" stroke="#888" stroke-width="0.6" />
<text x="405.80" y="112.63" font-size="6.2" text-anchor="end" fill="#1a1a1a" color="#1a1a1a" transform="matrix(1 0 0 1.1200 0 -13.248)">0</text>
<line x1="408.10" y1="100.14" x2="409.60" y2="100.14" stroke="#888" stroke-width="0.6" />
<text x="405.80" y="102.37" font-size="6.2" text-anchor="end" fill="#1a1a1a" color="#1a1a1a" transform="matrix(1 0 0 1.1200 0 -12.017)">200</text>
<line x1="408.10" y1="89.88" x2="409.60" y2="89.88" stroke="#888" stroke-width="0.6" />
<text x="405.80" y="92.11" font-size="6.2" text-anchor="end" fill="#1a1a1a" color="#1a1a1a" transform="matrix(1 0 0 1.1200 0 -10.786)">400</text>
<line x1="408.10" y1="79.62" x2="409.60" y2="79.62" stroke="#888" stroke-width="0.6" />
<text x="405.80" y="81.85" font-size="6.2" text-anchor="end" fill="#1a1a1a" color="#1a1a1a" transform="matrix(1 0 0 1.1200 0 -9.554)">600</text>
<line x1="408.10" y1="69.36" x2="409.60" y2="69.36" stroke="#888" stroke-width="0.6" />
<text x="405.80" y="71.59" font-size="6.2" text-anchor="end" fill="#1a1a1a" color="#1a1a1a" transform="matrix(1 0 0 1.1200 0 -8.323)">800</text>
<line x1="408.10" y1="59.10" x2="409.60" y2="59.10" stroke="#888" stroke-width="0.6" />
<text x="405.80" y="61.33" font-size="6.2" text-anchor="end" fill="#1a1a1a" color="#1a1a1a" transform="matrix(1 0 0 1.1200 0 -7.092)">1,000</text>
<line x1="408.10" y1="48.84" x2="409.60" y2="48.84" stroke="#888" stroke-width="0.6" />
<text x="405.80" y="51.07" font-size="6.2" text-anchor="end" fill="#1a1a1a" color="#1a1a1a" transform="matrix(1 0 0 1.1200 0 -5.861)">1,200</text>
<line x1="408.10" y1="38.58" x2="409.60" y2="38.58" stroke="#888" stroke-width="0.6" />
<text x="405.80" y="40.81" font-size="6.2" text-anchor="end" fill="#1a1a1a" color="#1a1a1a" transform="matrix(1 0 0 1.1200 0 -4.630)">1,400</text>
<line x1="408.10" y1="28.32" x2="409.60" y2="28.32" stroke="#888" stroke-width="0.6" />
<text x="405.80" y="30.55" font-size="6.2" text-anchor="end" fill="#1a1a1a" color="#1a1a1a" transform="matrix(1 0 0 1.1200 0 -3.398)">1,600</text>
<line x1="408.70" y1="107.84" x2="409.60" y2="107.84" stroke="#888" stroke-width="0.48" />
<line x1="408.70" y1="105.27" x2="409.60" y2="105.27" stroke="#888" stroke-width="0.48" />
<line x1="408.70" y1="102.71" x2="409.60" y2="102.71" stroke="#888" stroke-width="0.48" />
<line x1="408.70" y1="100.14" x2="409.60" y2="100.14" stroke="#888" stroke-width="0.48" />
<line x1="408.70" y1="97.58" x2="409.60" y2="97.58" stroke="#888" stroke-width="0.48" />
<line x1="408.70" y1="95.01" x2="409.60" y2="95.01" stroke="#888" stroke-width="0.48" />
<line x1="408.70" y1="92.45" x2="409.60" y2="92.45" stroke="#888" stroke-width="0.48" />
<line x1="408.70" y1="89.88" x2="409.60" y2="89.88" stroke="#888" stroke-width="0.48" />
<line x1="408.70" y1="87.31" x2="409.60" y2="87.31" stroke="#888" stroke-width="0.48" />
<line x1="408.70" y1="84.75" x2="409.60" y2="84.75" stroke="#888" stroke-width="0.48" />
<line x1="408.70" y1="82.19" x2="409.60" y2="82.19" stroke="#888" stroke-width="0.48" />
<line x1="408.70" y1="79.62" x2="409.60" y2="79.62" stroke="#888" stroke-width="0.48" />
<line x1="408.70" y1="77.06" x2="409.60" y2="77.06" stroke="#888" stroke-width="0.48" />
<line x1="408.70" y1="74.49" x2="409.60" y2="74.49" stroke="#888" stroke-width="0.48" />
<line x1="408.70" y1="71.93" x2="409.60" y2="71.93" stroke="#888" stroke-width="0.48" />
<line x1="408.70" y1="69.36" x2="409.60" y2="69.36" stroke="#888" stroke-width="0.48" />
<line x1="408.70" y1="66.80" x2="409.60" y2="66.80" stroke="#888" stroke-width="0.48" />
<line x1="408.70" y1="64.23" x2="409.60" y2="64.23" stroke="#888" stroke-width="0.48" />
<line x1="408.70" y1="61.67" x2="409.60" y2="61.67" stroke="#888" stroke-width="0.48" />
<line x1="408.70" y1="59.10" x2="409.60" y2="59.10" stroke="#888" stroke-width="0.48" />
<line x1="408.70" y1="56.54" x2="409.60" y2="56.54" stroke="#888" stroke-width="0.48" />
<line x1="408.70" y1="53.97" x2="409.60" y2="53.97" stroke="#888" stroke-width="0.48" />
<line x1="408.70" y1="51.41" x2="409.60" y2="51.41" stroke="#888" stroke-width="0.48" />
<line x1="408.70" y1="48.84" x2="409.60" y2="48.84" stroke="#888" stroke-width="0.48" />
<line x1="408.70" y1="46.28" x2="409.60" y2="46.28" stroke="#888" stroke-width="0.48" />
<line x1="408.70" y1="43.71" x2="409.60" y2="43.71" stroke="#888" stroke-width="0.48" />
<line x1="408.70" y1="41.15" x2="409.60" y2="41.15" stroke="#888" stroke-width="0.48" />
<line x1="408.70" y1="38.58" x2="409.60" y2="38.58" stroke="#888" stroke-width="0.48" />
<line x1="408.70" y1="36.02" x2="409.60" y2="36.02" stroke="#888" stroke-width="0.48" />
<line x1="408.70" y1="33.45" x2="409.60" y2="33.45" stroke="#888" stroke-width="0.48" />
<line x1="408.70" y1="30.89" x2="409.60" y2="30.89" stroke="#888" stroke-width="0.48" />
<line x1="409.60" y1="110.40" x2="502.00" y2="110.40" stroke="#888" stroke-width="0.6" />
<line x1="410.00" y1="110.40" x2="410.00" y2="112.00" stroke="#444" stroke-width="0.6" />
<text x="410.00" y="119.37" font-size="6.3" text-anchor="middle" fill="#1a1a1a" color="#1a1a1a" transform="matrix(1 0 0 1.1200 0 -14.052)">5</text>
<line x1="428.30" y1="110.40" x2="428.30" y2="112.00" stroke="#444" stroke-width="0.6" />
<text x="428.30" y="119.37" font-size="6.3" text-anchor="middle" fill="#1a1a1a" color="#1a1a1a" transform="matrix(1 0 0 1.1200 0 -14.052)">10</text>
<line x1="446.60" y1="110.40" x2="446.60" y2="112.00" stroke="#444" stroke-width="0.6" />
<text x="446.60" y="119.37" font-size="6.3" text-anchor="middle" fill="#1a1a1a" color="#1a1a1a" transform="matrix(1 0 0 1.1200 0 -14.052)">15</text>
<line x1="464.90" y1="110.40" x2="464.90" y2="112.00" stroke="#444" stroke-width="0.6" />
<text x="464.90" y="119.37" font-size="6.3" text-anchor="middle" fill="#1a1a1a" color="#1a1a1a" transform="matrix(1 0 0 1.1200 0 -14.052)">20</text>
<line x1="483.20" y1="110.40" x2="483.20" y2="112.00" stroke="#444" stroke-width="0.6" />
<text x="483.20" y="119.37" font-size="6.3" text-anchor="middle" fill="#1a1a1a" color="#1a1a1a" transform="matrix(1 0 0 1.1200 0 -14.052)">25</text>
<line x1="501.50" y1="110.40" x2="501.50" y2="112.00" stroke="#444" stroke-width="0.6" />
<text x="501.50" y="119.37" font-size="6.3" text-anchor="middle" fill="#1a1a1a" color="#1a1a1a" transform="matrix(1 0 0 1.1200 0 -14.052)">30</text>
<line x1="409.60" y1="110.40" x2="409.60" y2="111.20" stroke="#888" stroke-width="0.4" />
<line x1="411.43" y1="110.40" x2="411.43" y2="111.20" stroke="#888" stroke-width="0.4" />
<line x1="413.26" y1="110.40" x2="413.26" y2="111.20" stroke="#888" stroke-width="0.4" />
<line x1="415.09" y1="110.40" x2="415.09" y2="111.20" stroke="#888" stroke-width="0.4" />
<line x1="416.92" y1="110.40" x2="416.92" y2="111.20" stroke="#888" stroke-width="0.4" />
<line x1="418.75" y1="110.40" x2="418.75" y2="111.20" stroke="#888" stroke-width="0.4" />
<line x1="420.58" y1="110.40" x2="420.58" y2="111.20" stroke="#888" stroke-width="0.4" />
<line x1="422.41" y1="110.40" x2="422.41" y2="111.20" stroke="#888" stroke-width="0.4" />
<line x1="424.24" y1="110.40" x2="424.24" y2="111.20" stroke="#888" stroke-width="0.4" />
<line x1="426.07" y1="110.40" x2="426.07" y2="111.20" stroke="#888" stroke-width="0.4" />
<line x1="427.90" y1="110.40" x2="427.90" y2="111.20" stroke="#888" stroke-width="0.4" />
<line x1="429.73" y1="110.40" x2="429.73" y2="111.20" stroke="#888" stroke-width="0.4" />
<line x1="431.56" y1="110.40" x2="431.56" y2="111.20" stroke="#888" stroke-width="0.4" />
<line x1="433.39" y1="110.40" x2="433.39" y2="111.20" stroke="#888" stroke-width="0.4" />
<line x1="435.22" y1="110.40" x2="435.22" y2="111.20" stroke="#888" stroke-width="0.4" />
<line x1="437.05" y1="110.40" x2="437.05" y2="111.20" stroke="#888" stroke-width="0.4" />
<line x1="438.88" y1="110.40" x2="438.88" y2="111.20" stroke="#888" stroke-width="0.4" />
<line x1="440.71" y1="110.40" x2="440.71" y2="111.20" stroke="#888" stroke-width="0.4" />
<line x1="442.54" y1="110.40" x2="442.54" y2="111.20" stroke="#888" stroke-width="0.4" />
<line x1="444.37" y1="110.40" x2="444.37" y2="111.20" stroke="#888" stroke-width="0.4" />
<line x1="446.20" y1="110.40" x2="446.20" y2="111.20" stroke="#888" stroke-width="0.4" />
<line x1="448.03" y1="110.40" x2="448.03" y2="111.20" stroke="#888" stroke-width="0.4" />
<line x1="449.86" y1="110.40" x2="449.86" y2="111.20" stroke="#888" stroke-width="0.4" />
<line x1="451.69" y1="110.40" x2="451.69" y2="111.20" stroke="#888" stroke-width="0.4" />
<line x1="453.52" y1="110.40" x2="453.52" y2="111.20" stroke="#888" stroke-width="0.4" />
<line x1="455.35" y1="110.40" x2="455.35" y2="111.20" stroke="#888" stroke-width="0.4" />
<line x1="457.18" y1="110.40" x2="457.18" y2="111.20" stroke="#888" stroke-width="0.4" />
<line x1="459.01" y1="110.40" x2="459.01" y2="111.20" stroke="#888" stroke-width="0.4" />
<line x1="460.84" y1="110.40" x2="460.84" y2="111.20" stroke="#888" stroke-width="0.4" />
<line x1="462.67" y1="110.40" x2="462.67" y2="111.20" stroke="#888" stroke-width="0.4" />
<line x1="464.50" y1="110.40" x2="464.50" y2="111.20" stroke="#888" stroke-width="0.4" />
<line x1="466.33" y1="110.40" x2="466.33" y2="111.20" stroke="#888" stroke-width="0.4" />
<line x1="468.16" y1="110.40" x2="468.16" y2="111.20" stroke="#888" stroke-width="0.4" />
<line x1="469.99" y1="110.40" x2="469.99" y2="111.20" stroke="#888" stroke-width="0.4" />
<line x1="471.82" y1="110.40" x2="471.82" y2="111.20" stroke="#888" stroke-width="0.4" />
<line x1="473.65" y1="110.40" x2="473.65" y2="111.20" stroke="#888" stroke-width="0.4" />
<line x1="475.48" y1="110.40" x2="475.48" y2="111.20" stroke="#888" stroke-width="0.4" />
<line x1="477.31" y1="110.40" x2="477.31" y2="111.20" stroke="#888" stroke-width="0.4" />
<line x1="479.14" y1="110.40" x2="479.14" y2="111.20" stroke="#888" stroke-width="0.4" />
<line x1="480.97" y1="110.40" x2="480.97" y2="111.20" stroke="#888" stroke-width="0.4" />
<line x1="482.80" y1="110.40" x2="482.80" y2="111.20" stroke="#888" stroke-width="0.4" />
<line x1="484.63" y1="110.40" x2="484.63" y2="111.20" stroke="#888" stroke-width="0.4" />
<line x1="486.46" y1="110.40" x2="486.46" y2="111.20" stroke="#888" stroke-width="0.4" />
<line x1="488.29" y1="110.40" x2="488.29" y2="111.20" stroke="#888" stroke-width="0.4" />
<line x1="490.12" y1="110.40" x2="490.12" y2="111.20" stroke="#888" stroke-width="0.4" />
<line x1="491.95" y1="110.40" x2="491.95" y2="111.20" stroke="#888" stroke-width="0.4" />
<line x1="493.78" y1="110.40" x2="493.78" y2="111.20" stroke="#888" stroke-width="0.4" />
<line x1="495.61" y1="110.40" x2="495.61" y2="111.20" stroke="#888" stroke-width="0.4" />
<line x1="497.44" y1="110.40" x2="497.44" y2="111.20" stroke="#888" stroke-width="0.4" />
<line x1="499.27" y1="110.40" x2="499.27" y2="111.20" stroke="#888" stroke-width="0.4" />
<line x1="501.10" y1="110.40" x2="501.10" y2="111.20" stroke="#888" stroke-width="0.4" />
<text x="387.14" y="70.00" font-size="7.6" text-anchor="middle" fill="#1a1a1a" color="#1a1a1a" transform="matrix(0.8929 0 0 1 41.186 0) rotate(-90 387.14 70.00)">Tumor volume (mm³)</text>
<text x="381.30" y="128.43" font-size="5.35" fill="#1a1a1a" color="#1a1a1a" transform="matrix(1 0 0 1.1200 0 -15.180)">Dosing (PO)</text>
<line x1="428.30" y1="126.50" x2="489.90" y2="126.50" stroke="#222" stroke-width="1.2" />
<line x1="428.30" y1="124.90" x2="428.30" y2="128.10" stroke="#222" stroke-width="1.0" />
<line x1="489.90" y1="124.90" x2="489.90" y2="128.10" stroke="#222" stroke-width="1.0" />
<text x="458.90" y="138.29" font-size="6.35" text-anchor="middle" fill="#1a1a1a" color="#1a1a1a" transform="matrix(1 0 0 1.1200 0 -16.320)">Time (days post cell implantation)</text>
<line x1="415.50" y1="30.80" x2="420.90" y2="30.80" stroke="#000000" stroke-width="1.5" />
<circle cx="418.20" cy="30.80" r="1.4" fill="#000000" />
<text x="424.00" y="32.82" font-size="5.6" fill="#1a1a1a" color="#1a1a1a" transform="matrix(1 0 0 1.1200 0 -3.696)" style="stroke:none">Vehicle</text>
<line x1="415.50" y1="37.80" x2="420.90" y2="37.80" stroke="#8c7a2e" stroke-width="1.5" />
<circle cx="418.20" cy="37.80" r="1.4" fill="#8c7a2e" />
<text x="424.00" y="39.82" font-size="5.6" fill="#1a1a1a" color="#1a1a1a" transform="matrix(1 0 0 1.1200 0 -4.536)" style="stroke:none">3 mg/kg</text>
<line x1="415.50" y1="44.80" x2="420.90" y2="44.80" stroke="#ff7f0e" stroke-width="1.5" />
<circle cx="418.20" cy="44.80" r="1.4" fill="#ff7f0e" />
<text x="424.00" y="46.82" font-size="5.6" fill="#1a1a1a" color="#1a1a1a" transform="matrix(1 0 0 1.1200 0 -5.376)" style="stroke:none">10 mg/kg</text>
<line x1="415.50" y1="51.80" x2="420.90" y2="51.80" stroke="#7a1fa2" stroke-width="1.5" />
<circle cx="418.20" cy="51.80" r="1.4" fill="#7a1fa2" />
<text x="424.00" y="53.82" font-size="5.6" fill="#1a1a1a" color="#1a1a1a" transform="matrix(1 0 0 1.1200 0 -6.216)" style="stroke:none">30 mg/kg</text>
<line x1="415.50" y1="58.80" x2="420.90" y2="58.80" stroke="#1f2fff" stroke-width="1.5" />
<circle cx="418.20" cy="58.80" r="1.4" fill="#1f2fff" />
<text x="424.00" y="60.82" font-size="5.6" fill="#1a1a1a" color="#1a1a1a" transform="matrix(1 0 0 1.1200 0 -7.056)" style="stroke:none">100 mg/kg</text>
<polyline points="428.20,100.80 439.30,90.40 453.20,85.70 464.30,79.30 478.70,74.90 489.10,71.30" fill="none" stroke="#8c7a2e" stroke-width="1.4" stroke-linejoin="round" />
<circle cx="428.20" cy="100.80" r="1.3" fill="#8c7a2e" />
<circle cx="439.30" cy="90.40" r="1.3" fill="#8c7a2e" />
<circle cx="453.20" cy="85.70" r="1.3" fill="#8c7a2e" />
<line x1="464.30" y1="78.30" x2="464.30" y2="80.30" stroke="#8c7a2e" stroke-width="0.9" />
<line x1="462.90" y1="78.30" x2="465.70" y2="78.30" stroke="#8c7a2e" stroke-width="0.9" />
<line x1="462.90" y1="80.30" x2="465.70" y2="80.30" stroke="#8c7a2e" stroke-width="0.9" />
<circle cx="464.30" cy="79.30" r="1.3" fill="#8c7a2e" />
<line x1="478.70" y1="71.70" x2="478.70" y2="78.10" stroke="#8c7a2e" stroke-width="0.9" />
<line x1="477.30" y1="71.70" x2="480.10" y2="71.70" stroke="#8c7a2e" stroke-width="0.9" />
<line x1="477.30" y1="78.10" x2="480.10" y2="78.10" stroke="#8c7a2e" stroke-width="0.9" />
<circle cx="478.70" cy="74.90" r="1.3" fill="#8c7a2e" />
<line x1="489.10" y1="68.10" x2="489.10" y2="74.50" stroke="#8c7a2e" stroke-width="0.9" />
<line x1="487.70" y1="68.10" x2="490.50" y2="68.10" stroke="#8c7a2e" stroke-width="0.9" />
<line x1="487.70" y1="74.50" x2="490.50" y2="74.50" stroke="#8c7a2e" stroke-width="0.9" />
<circle cx="489.10" cy="71.30" r="1.3" fill="#8c7a2e" />
<polyline points="428.20,100.80 439.30,90.80 453.20,86.40 464.30,82.40 478.70,78.00 489.10,72.70" fill="none" stroke="#ff7f0e" stroke-width="1.4" stroke-linejoin="round" />
<circle cx="428.20" cy="100.80" r="1.3" fill="#ff7f0e" />
<circle cx="439.30" cy="90.80" r="1.3" fill="#ff7f0e" />
<circle cx="453.20" cy="86.40" r="1.3" fill="#ff7f0e" />
<line x1="464.30" y1="81.40" x2="464.30" y2="83.40" stroke="#ff7f0e" stroke-width="0.9" />
<line x1="462.90" y1="81.40" x2="465.70" y2="81.40" stroke="#ff7f0e" stroke-width="0.9" />
<line x1="462.90" y1="83.40" x2="465.70" y2="83.40" stroke="#ff7f0e" stroke-width="0.9" />
<circle cx="464.30" cy="82.40" r="1.3" fill="#ff7f0e" />
<line x1="478.70" y1="75.00" x2="478.70" y2="81.00" stroke="#ff7f0e" stroke-width="0.9" />
<line x1="477.30" y1="75.00" x2="480.10" y2="75.00" stroke="#ff7f0e" stroke-width="0.9" />
<line x1="477.30" y1="81.00" x2="480.10" y2="81.00" stroke="#ff7f0e" stroke-width="0.9" />
<circle cx="478.70" cy="78.00" r="1.3" fill="#ff7f0e" />
<line x1="489.10" y1="69.70" x2="489.10" y2="75.70" stroke="#ff7f0e" stroke-width="0.9" />
<line x1="487.70" y1="69.70" x2="490.50" y2="69.70" stroke="#ff7f0e" stroke-width="0.9" />
<line x1="487.70" y1="75.70" x2="490.50" y2="75.70" stroke="#ff7f0e" stroke-width="0.9" />
<circle cx="489.10" cy="72.70" r="1.3" fill="#ff7f0e" />
<polyline points="428.20,100.80 439.30,91.00 453.20,86.00 464.30,83.50 478.70,84.60 489.10,84.60" fill="none" stroke="#7a1fa2" stroke-width="1.4" stroke-linejoin="round" />
<circle cx="428.20" cy="100.80" r="1.3" fill="#7a1fa2" />
<circle cx="439.30" cy="91.00" r="1.3" fill="#7a1fa2" />
<circle cx="453.20" cy="86.00" r="1.3" fill="#7a1fa2" />
<line x1="464.30" y1="82.50" x2="464.30" y2="84.50" stroke="#7a1fa2" stroke-width="0.9" />
<line x1="462.90" y1="82.50" x2="465.70" y2="82.50" stroke="#7a1fa2" stroke-width="0.9" />
<line x1="462.90" y1="84.50" x2="465.70" y2="84.50" stroke="#7a1fa2" stroke-width="0.9" />
<circle cx="464.30" cy="83.50" r="1.3" fill="#7a1fa2" />
<line x1="478.70" y1="83.80" x2="478.70" y2="85.40" stroke="#7a1fa2" stroke-width="0.9" />
<line x1="477.30" y1="83.80" x2="480.10" y2="83.80" stroke="#7a1fa2" stroke-width="0.9" />
<line x1="477.30" y1="85.40" x2="480.10" y2="85.40" stroke="#7a1fa2" stroke-width="0.9" />
<circle cx="478.70" cy="84.60" r="1.3" fill="#7a1fa2" />
<line x1="489.10" y1="82.60" x2="489.10" y2="86.60" stroke="#7a1fa2" stroke-width="0.9" />
<line x1="487.70" y1="82.60" x2="490.50" y2="82.60" stroke="#7a1fa2" stroke-width="0.9" />
<line x1="487.70" y1="86.60" x2="490.50" y2="86.60" stroke="#7a1fa2" stroke-width="0.9" />
<circle cx="489.10" cy="84.60" r="1.3" fill="#7a1fa2" />
<polyline points="428.20,100.80 439.30,91.90 453.20,91.20 464.30,90.40 478.70,93.50 489.10,92.10" fill="none" stroke="#1f2fff" stroke-width="1.4" stroke-linejoin="round" />
<circle cx="428.20" cy="100.80" r="1.3" fill="#1f2fff" />
<circle cx="439.30" cy="91.90" r="1.3" fill="#1f2fff" />
<circle cx="453.20" cy="91.20" r="1.3" fill="#1f2fff" />
<line x1="464.30" y1="88.40" x2="464.30" y2="92.40" stroke="#1f2fff" stroke-width="0.9" />
<line x1="462.90" y1="88.40" x2="465.70" y2="88.40" stroke="#1f2fff" stroke-width="0.9" />
<line x1="462.90" y1="92.40" x2="465.70" y2="92.40" stroke="#1f2fff" stroke-width="0.9" />
<circle cx="464.30" cy="90.40" r="1.3" fill="#1f2fff" />
<line x1="478.70" y1="93.00" x2="478.70" y2="94.00" stroke="#1f2fff" stroke-width="0.9" />
<line x1="477.30" y1="93.00" x2="480.10" y2="93.00" stroke="#1f2fff" stroke-width="0.9" />
<line x1="477.30" y1="94.00" x2="480.10" y2="94.00" stroke="#1f2fff" stroke-width="0.9" />
<circle cx="478.70" cy="93.50" r="1.3" fill="#1f2fff" />
<line x1="489.10" y1="91.60" x2="489.10" y2="92.60" stroke="#1f2fff" stroke-width="0.9" />
<line x1="487.70" y1="91.60" x2="490.50" y2="91.60" stroke="#1f2fff" stroke-width="0.9" />
<line x1="487.70" y1="92.60" x2="490.50" y2="92.60" stroke="#1f2fff" stroke-width="0.9" />
<circle cx="489.10" cy="92.10" r="1.3" fill="#1f2fff" />
<polyline points="428.20,100.80 439.30,89.70 453.20,78.00 464.30,63.10 478.70,53.60 489.10,39.50" fill="none" stroke="#000000" stroke-width="1.4" stroke-linejoin="round" />
<circle cx="428.20" cy="100.80" r="1.5" fill="#000000" />
<circle cx="439.30" cy="89.70" r="1.5" fill="#000000" />
<line x1="453.20" y1="77.20" x2="453.20" y2="78.80" stroke="#000000" stroke-width="0.9" />
<line x1="451.80" y1="77.20" x2="454.60" y2="77.20" stroke="#000000" stroke-width="0.9" />
<line x1="451.80" y1="78.80" x2="454.60" y2="78.80" stroke="#000000" stroke-width="0.9" />
<circle cx="453.20" cy="78.00" r="1.5" fill="#000000" />
<line x1="464.30" y1="59.40" x2="464.30" y2="66.80" stroke="#000000" stroke-width="0.9" />
<line x1="462.90" y1="59.40" x2="465.70" y2="59.40" stroke="#000000" stroke-width="0.9" />
<line x1="462.90" y1="66.80" x2="465.70" y2="66.80" stroke="#000000" stroke-width="0.9" />
<circle cx="464.30" cy="63.10" r="1.5" fill="#000000" />
<line x1="478.70" y1="49.50" x2="478.70" y2="57.70" stroke="#000000" stroke-width="0.9" />
<line x1="477.30" y1="49.50" x2="480.10" y2="49.50" stroke="#000000" stroke-width="0.9" />
<line x1="477.30" y1="57.70" x2="480.10" y2="57.70" stroke="#000000" stroke-width="0.9" />
<circle cx="478.70" cy="53.60" r="1.5" fill="#000000" />
<line x1="489.10" y1="34.80" x2="489.10" y2="44.20" stroke="#000000" stroke-width="0.9" />
<line x1="487.70" y1="34.80" x2="490.50" y2="34.80" stroke="#000000" stroke-width="0.9" />
<line x1="487.70" y1="44.20" x2="490.50" y2="44.20" stroke="#000000" stroke-width="0.9" />
<circle cx="489.10" cy="39.50" r="1.5" fill="#000000" />
<text x="493.90" y="70.22" font-size="5.6" fill="#8c7a2e" color="#8c7a2e" transform="matrix(1 0 0 1.1200 0 -8.184)" style="stroke:none">54% TGI</text>
<text x="515.79" y="68.65" font-size="3.472" fill="#8c7a2e" color="#8c7a2e" transform="matrix(1 0 0 1.1200 0 -8.088)" style="stroke:none">***</text>
<text x="493.90" y="75.12" font-size="5.6" fill="#ff7f0e" color="#ff7f0e" transform="matrix(1 0 0 1.1200 0 -8.772)" style="stroke:none">55% TGI</text>
<text x="515.79" y="73.55" font-size="3.472" fill="#ff7f0e" color="#ff7f0e" transform="matrix(1 0 0 1.1200 0 -8.676)" style="stroke:none">***</text>
<text x="493.90" y="86.42" font-size="5.6" fill="#7a1fa2" color="#7a1fa2" transform="matrix(1 0 0 1.1200 0 -10.128)" style="stroke:none">74% TGI</text>
<text x="515.79" y="84.85" font-size="3.472" fill="#7a1fa2" color="#7a1fa2" transform="matrix(1 0 0 1.1200 0 -10.032)" style="stroke:none">***</text>
<text x="493.90" y="94.02" font-size="5.6" fill="#1f2fff" color="#1f2fff" transform="matrix(1 0 0 1.1200 0 -11.040)" style="stroke:none">87% TGI</text>
<text x="515.79" y="92.45" font-size="3.472" fill="#1f2fff" color="#1f2fff" transform="matrix(1 0 0 1.1200 0 -10.944)" style="stroke:none">***</text>
<text x="9.80" y="164.75" font-size="11.1" font-weight="bold" fill="#000" color="#000">D</text>
<text x="101.20" y="161.26" font-size="7.4" text-anchor="middle" font-weight="bold" fill="#000" color="#000" transform="matrix(1 0 0 1.1200 0 -19.032)">HCT116 MTAP-deleted</text>
<text x="101.40" y="170.56" font-size="7.4" text-anchor="middle" font-weight="bold" fill="#000" color="#000" transform="matrix(1 0 0 1.1200 0 -20.148)">tumor SDMA</text>
<line x1="51.50" y1="177.40" x2="51.50" y2="266.40" stroke="#666" stroke-width="0.6" />
<line x1="50.00" y1="266.40" x2="51.50" y2="266.40" stroke="#666" stroke-width="0.6" />
<text x="48.40" y="268.56" font-size="6.0" text-anchor="end" fill="#1a1a1a" color="#1a1a1a" transform="matrix(1 0 0 1.1200 0 -31.968)">0</text>
<line x1="50.00" y1="248.62" x2="51.50" y2="248.62" stroke="#666" stroke-width="0.6" />
<text x="48.40" y="250.78" font-size="6.0" text-anchor="end" fill="#1a1a1a" color="#1a1a1a" transform="matrix(1 0 0 1.1200 0 -29.834)">100,000</text>
<line x1="50.00" y1="230.84" x2="51.50" y2="230.84" stroke="#666" stroke-width="0.6" />
<text x="48.40" y="233.00" font-size="6.0" text-anchor="end" fill="#1a1a1a" color="#1a1a1a" transform="matrix(1 0 0 1.1200 0 -27.701)">200,000</text>
<line x1="50.00" y1="213.06" x2="51.50" y2="213.06" stroke="#666" stroke-width="0.6" />
<text x="48.40" y="215.22" font-size="6.0" text-anchor="end" fill="#1a1a1a" color="#1a1a1a" transform="matrix(1 0 0 1.1200 0 -25.567)">300,000</text>
<line x1="50.00" y1="195.28" x2="51.50" y2="195.28" stroke="#666" stroke-width="0.6" />
<text x="48.40" y="197.44" font-size="6.0" text-anchor="end" fill="#1a1a1a" color="#1a1a1a" transform="matrix(1 0 0 1.1200 0 -23.434)">400,000</text>
<line x1="50.00" y1="177.50" x2="51.50" y2="177.50" stroke="#666" stroke-width="0.6" />
<text x="48.40" y="179.66" font-size="6.0" text-anchor="end" fill="#1a1a1a" color="#1a1a1a" transform="matrix(1 0 0 1.1200 0 -21.300)">500,000</text>
<line x1="50.60" y1="257.51" x2="51.50" y2="257.51" stroke="#666" stroke-width="0.48" />
<line x1="50.60" y1="239.73" x2="51.50" y2="239.73" stroke="#666" stroke-width="0.48" />
<line x1="50.60" y1="221.95" x2="51.50" y2="221.95" stroke="#666" stroke-width="0.48" />
<line x1="50.60" y1="204.17" x2="51.50" y2="204.17" stroke="#666" stroke-width="0.48" />
<line x1="50.60" y1="186.39" x2="51.50" y2="186.39" stroke="#666" stroke-width="0.48" />
<text x="19.89" y="223.00" font-size="7.2" text-anchor="middle" fill="#1a1a1a" color="#1a1a1a" transform="matrix(0.8929 0 0 1 1.854 0) rotate(-90 19.89 223.00)">SDMA RLU</text>
<line x1="51.50" y1="266.40" x2="148.80" y2="266.40" stroke="#666" stroke-width="0.6" />
<line x1="61.20" y1="266.40" x2="61.20" y2="268.00" stroke="#666" stroke-width="0.6" />
<text x="63.68" y="271.00" font-size="6.9" text-anchor="end" fill="#1a1a1a" color="#1a1a1a" transform="matrix(0.8929 0 0 1 6.557 0) rotate(-90 63.68 271.00)">Vehicle</text>
<line x1="79.90" y1="266.40" x2="79.90" y2="268.00" stroke="#666" stroke-width="0.6" />
<text x="82.38" y="271.00" font-size="6.9" text-anchor="end" fill="#1a1a1a" color="#1a1a1a" transform="matrix(0.8929 0 0 1 8.561 0) rotate(-90 82.38 271.00)">3 mg/kg</text>
<line x1="99.30" y1="266.40" x2="99.30" y2="268.00" stroke="#666" stroke-width="0.6" />
<text x="101.78" y="271.00" font-size="6.9" text-anchor="end" fill="#1a1a1a" color="#1a1a1a" transform="matrix(0.8929 0 0 1 10.639 0) rotate(-90 101.78 271.00)">10 mg/kg</text>
<line x1="119.00" y1="266.40" x2="119.00" y2="268.00" stroke="#666" stroke-width="0.6" />
<text x="121.48" y="271.00" font-size="6.9" text-anchor="end" fill="#1a1a1a" color="#1a1a1a" transform="matrix(0.8929 0 0 1 12.750 0) rotate(-90 121.48 271.00)">30 mg/kg</text>
<line x1="138.80" y1="266.40" x2="138.80" y2="268.00" stroke="#666" stroke-width="0.6" />
<text x="141.28" y="271.00" font-size="6.9" text-anchor="end" fill="#1a1a1a" color="#1a1a1a" transform="matrix(0.8929 0 0 1 14.871 0) rotate(-90 141.28 271.00)">100 mg/kg</text>
<rect x="59.60" y="193.60" width="3.20" height="3.20" fill="#000" />
<rect x="54.80" y="218.20" width="3.20" height="3.20" fill="#000" />
<rect x="64.50" y="216.60" width="3.20" height="3.20" fill="#000" />
<rect x="59.60" y="211.40" width="3.20" height="3.20" fill="#000" />
<line x1="55.00" y1="211.30" x2="67.60" y2="211.30" stroke="#000" stroke-width="0.8" />
<line x1="61.20" y1="205.80" x2="61.20" y2="216.60" stroke="#000" stroke-width="0.8" />
<line x1="59.00" y1="205.80" x2="63.40" y2="205.80" stroke="#000" stroke-width="0.8" />
<line x1="59.00" y1="216.60" x2="63.40" y2="216.60" stroke="#000" stroke-width="0.8" />
<line x1="74.90" y1="259.00" x2="85.90" y2="259.00" stroke="#8c7a2e" stroke-width="0.8" />
<polygon points="76.20,255.21 74.61,257.96 77.80,257.96" fill="#8c7a2e"/>
<polygon points="76.20,259.60 74.61,262.36 77.80,262.36" fill="#8c7a2e"/>
<polygon points="79.40,257.00 77.81,259.76 81.00,259.76" fill="#8c7a2e"/>
<polygon points="82.40,257.80 80.81,260.56 84.00,260.56" fill="#8c7a2e"/>
<polygon points="85.40,258.60 83.81,261.36 87.00,261.36" fill="#8c7a2e"/>
<line x1="94.00" y1="260.00" x2="105.00" y2="260.00" stroke="#ff7f0e" stroke-width="0.8" />
<polygon points="95.00,261.20 93.41,258.44 96.59,258.44" fill="#ff7f0e"/>
<polygon points="98.00,262.40 96.41,259.64 99.59,259.64" fill="#ff7f0e"/>
<polygon points="99.50,259.10 97.91,256.34 101.09,256.34" fill="#ff7f0e"/>
<polygon points="102.00,262.60 100.41,259.84 103.59,259.84" fill="#ff7f0e"/>
<polygon points="104.50,261.90 102.91,259.14 106.09,259.14" fill="#ff7f0e"/>
<line x1="113.90" y1="263.60" x2="124.90" y2="263.60" stroke="#7a1fa2" stroke-width="0.8" />
<circle cx="114.90" cy="264.50" r="1.45" fill="#7a1fa2" />
<circle cx="116.90" cy="263.00" r="1.45" fill="#7a1fa2" />
<circle cx="118.90" cy="262.30" r="1.45" fill="#7a1fa2" />
<circle cx="121.90" cy="263.80" r="1.45" fill="#7a1fa2" />
<circle cx="124.40" cy="263.60" r="1.45" fill="#7a1fa2" />
<line x1="133.80" y1="263.00" x2="144.80" y2="263.00" stroke="#1f2fff" stroke-width="0.8" />
<circle cx="134.80" cy="264.00" r="1.45" fill="#1f2fff" />
<circle cx="136.80" cy="262.80" r="1.45" fill="#1f2fff" />
<circle cx="139.30" cy="261.30" r="1.45" fill="#1f2fff" />
<circle cx="141.80" cy="262.80" r="1.45" fill="#1f2fff" />
<circle cx="144.30" cy="263.00" r="1.45" fill="#1f2fff" />
<text x="77.40" y="255.34" font-size="5.4" fill="#3a3a3a" color="#3a3a3a" transform="matrix(1 0 0 1.1200 0 -30.408)" style="stroke:none">86%</text>
<text x="88.11" y="253.80" font-size="3.6" fill="#3a3a3a" color="#3a3a3a" transform="matrix(1 0 0 1.1200 0 -30.300)" style="stroke:none">***</text>
<text x="96.50" y="255.34" font-size="5.4" fill="#3a3a3a" color="#3a3a3a" transform="matrix(1 0 0 1.1200 0 -30.408)" style="stroke:none">89%</text>
<text x="107.21" y="253.80" font-size="3.6" fill="#3a3a3a" color="#3a3a3a" transform="matrix(1 0 0 1.1200 0 -30.300)" style="stroke:none">***</text>
<text x="116.20" y="258.74" font-size="5.4" fill="#3a3a3a" color="#3a3a3a" transform="matrix(1 0 0 1.1200 0 -30.816)" style="stroke:none">94%</text>
<text x="126.91" y="257.20" font-size="3.6" fill="#3a3a3a" color="#3a3a3a" transform="matrix(1 0 0 1.1200 0 -30.708)" style="stroke:none">***</text>
<text x="134.60" y="258.14" font-size="5.4" fill="#3a3a3a" color="#3a3a3a" transform="matrix(1 0 0 1.1200 0 -30.744)" style="stroke:none">93%</text>
<text x="145.31" y="256.60" font-size="3.6" fill="#3a3a3a" color="#3a3a3a" transform="matrix(1 0 0 1.1200 0 -30.636)" style="stroke:none">***</text>
<text x="169.80" y="164.75" font-size="11.1" font-weight="bold" fill="#000" color="#000">E</text>
<text x="255.20" y="163.78" font-size="7.45" text-anchor="middle" font-weight="bold" fill="#000" color="#000" transform="matrix(1 0 0 1.1200 0 -19.332)">Blood SDMA</text>
<line x1="201.80" y1="176.50" x2="201.80" y2="266.30" stroke="#666" stroke-width="0.6" />
<line x1="200.30" y1="266.30" x2="201.80" y2="266.30" stroke="#666" stroke-width="0.6" />
<text x="199.00" y="269.04" font-size="7.6" text-anchor="end" fill="#1a1a1a" color="#1a1a1a" transform="matrix(1 0 0 1.1200 0 -31.956)">0</text>
<line x1="200.30" y1="243.90" x2="201.80" y2="243.90" stroke="#666" stroke-width="0.6" />
<text x="199.00" y="246.64" font-size="7.6" text-anchor="end" fill="#1a1a1a" color="#1a1a1a" transform="matrix(1 0 0 1.1200 0 -29.268)">2,000</text>
<line x1="200.30" y1="221.50" x2="201.80" y2="221.50" stroke="#666" stroke-width="0.6" />
<text x="199.00" y="224.24" font-size="7.6" text-anchor="end" fill="#1a1a1a" color="#1a1a1a" transform="matrix(1 0 0 1.1200 0 -26.580)">4,000</text>
<line x1="200.30" y1="199.10" x2="201.80" y2="199.10" stroke="#666" stroke-width="0.6" />
<text x="199.00" y="201.84" font-size="7.6" text-anchor="end" fill="#1a1a1a" color="#1a1a1a" transform="matrix(1 0 0 1.1200 0 -23.892)">6,000</text>
<line x1="200.30" y1="176.70" x2="201.80" y2="176.70" stroke="#666" stroke-width="0.6" />
<text x="199.00" y="179.44" font-size="7.6" text-anchor="end" fill="#1a1a1a" color="#1a1a1a" transform="matrix(1 0 0 1.1200 0 -21.204)">8,000</text>
<line x1="200.90" y1="260.70" x2="201.80" y2="260.70" stroke="#666" stroke-width="0.48" />
<line x1="200.90" y1="255.10" x2="201.80" y2="255.10" stroke="#666" stroke-width="0.48" />
<line x1="200.90" y1="249.50" x2="201.80" y2="249.50" stroke="#666" stroke-width="0.48" />
<line x1="200.90" y1="238.30" x2="201.80" y2="238.30" stroke="#666" stroke-width="0.48" />
<line x1="200.90" y1="232.70" x2="201.80" y2="232.70" stroke="#666" stroke-width="0.48" />
<line x1="200.90" y1="227.10" x2="201.80" y2="227.10" stroke="#666" stroke-width="0.48" />
<line x1="200.90" y1="215.90" x2="201.80" y2="215.90" stroke="#666" stroke-width="0.48" />
<line x1="200.90" y1="210.30" x2="201.80" y2="210.30" stroke="#666" stroke-width="0.48" />
<line x1="200.90" y1="204.70" x2="201.80" y2="204.70" stroke="#666" stroke-width="0.48" />
<line x1="200.90" y1="193.50" x2="201.80" y2="193.50" stroke="#666" stroke-width="0.48" />
<line x1="200.90" y1="187.90" x2="201.80" y2="187.90" stroke="#666" stroke-width="0.48" />
<line x1="200.90" y1="182.30" x2="201.80" y2="182.30" stroke="#666" stroke-width="0.48" />
<text x="176.12" y="221.3" font-size="7.0" text-anchor="middle" fill="#1a1a1a" color="#1a1a1a" transform="matrix(0.8929 0 0 1 18.600 0) rotate(-90 176.12 221.3)">gMFI (CD45<tspan font-size="4.6" dy="-2.6">+</tspan><tspan dy="2.6"> SDMA</tspan><tspan font-size="4.6" dy="-2.6">+</tspan><tspan dy="2.6">)</tspan></text>
<line x1="201.80" y1="266.30" x2="301.20" y2="266.30" stroke="#666" stroke-width="0.6" />
<line x1="212.00" y1="266.30" x2="212.00" y2="267.90" stroke="#666" stroke-width="0.6" />
<text x="214.63" y="270.00" font-size="7.3" text-anchor="end" fill="#1a1a1a" color="#1a1a1a" transform="matrix(0.8929 0 0 1 22.714 0) rotate(-90 214.63 270.00)">Vehicle</text>
<line x1="231.80" y1="266.30" x2="231.80" y2="267.90" stroke="#666" stroke-width="0.6" />
<text x="234.43" y="270.00" font-size="7.3" text-anchor="end" fill="#1a1a1a" color="#1a1a1a" transform="matrix(0.8929 0 0 1 24.836 0) rotate(-90 234.43 270.00)">3 mg/kg</text>
<line x1="251.00" y1="266.30" x2="251.00" y2="267.90" stroke="#666" stroke-width="0.6" />
<text x="253.63" y="270.00" font-size="7.3" text-anchor="end" fill="#1a1a1a" color="#1a1a1a" transform="matrix(0.8929 0 0 1 26.893 0) rotate(-90 253.63 270.00)">10 mg/kg</text>
<line x1="270.60" y1="266.30" x2="270.60" y2="267.90" stroke="#666" stroke-width="0.6" />
<text x="273.23" y="270.00" font-size="7.3" text-anchor="end" fill="#1a1a1a" color="#1a1a1a" transform="matrix(0.8929 0 0 1 28.993 0) rotate(-90 273.23 270.00)">30 mg/kg</text>
<line x1="290.00" y1="266.30" x2="290.00" y2="267.90" stroke="#666" stroke-width="0.6" />
<text x="292.63" y="270.00" font-size="7.3" text-anchor="end" fill="#1a1a1a" color="#1a1a1a" transform="matrix(0.8929 0 0 1 31.071 0) rotate(-90 292.63 270.00)">100 mg/kg</text>
<rect x="205.00" y="182.00" width="3.20" height="3.20" fill="#000" />
<rect x="210.60" y="183.60" width="3.20" height="3.20" fill="#000" />
<rect x="215.20" y="182.80" width="3.20" height="3.20" fill="#000" />
<rect x="210.60" y="198.80" width="3.20" height="3.20" fill="#000" />
<line x1="205.60" y1="188.70" x2="218.00" y2="188.70" stroke="#000" stroke-width="0.8" />
<line x1="211.80" y1="185.10" x2="211.80" y2="192.10" stroke="#000" stroke-width="0.8" />
<line x1="209.50" y1="185.10" x2="214.10" y2="185.10" stroke="#000" stroke-width="0.8" />
<line x1="209.50" y1="192.10" x2="214.10" y2="192.10" stroke="#000" stroke-width="0.8" />
<polygon points="231.90,201.24 230.14,204.28 233.66,204.28" fill="#8c7a2e"/>
<polygon points="226.90,210.54 225.14,213.58 228.66,213.58" fill="#8c7a2e"/>
<polygon points="236.90,210.54 235.14,213.58 238.66,213.58" fill="#8c7a2e"/>
<polygon points="231.90,216.84 230.14,219.88 233.66,219.88" fill="#8c7a2e"/>
<line x1="226.00" y1="212.30" x2="237.80" y2="212.30" stroke="#8c7a2e" stroke-width="0.8" />
<line x1="231.90" y1="207.90" x2="231.90" y2="215.90" stroke="#8c7a2e" stroke-width="0.8" />
<line x1="229.90" y1="207.90" x2="233.90" y2="207.90" stroke="#8c7a2e" stroke-width="0.8" />
<line x1="229.90" y1="215.90" x2="233.90" y2="215.90" stroke="#8c7a2e" stroke-width="0.8" />
<polygon points="251.50,215.56 249.74,212.52 253.26,212.52" fill="#ff7f0e"/>
<polygon points="246.40,223.06 244.64,220.02 248.16,220.02" fill="#ff7f0e"/>
<polygon points="256.60,223.06 254.84,220.02 258.36,220.02" fill="#ff7f0e"/>
<polygon points="251.50,221.96 249.74,218.92 253.26,218.92" fill="#ff7f0e"/>
<line x1="245.60" y1="220.40" x2="257.40" y2="220.40" stroke="#ff7f0e" stroke-width="0.8" />
<line x1="251.50" y1="218.40" x2="251.50" y2="222.40" stroke="#ff7f0e" stroke-width="0.8" />
<line x1="249.50" y1="218.40" x2="253.50" y2="218.40" stroke="#ff7f0e" stroke-width="0.8" />
<line x1="249.50" y1="222.40" x2="253.50" y2="222.40" stroke="#ff7f0e" stroke-width="0.8" />
<circle cx="271.30" cy="229.60" r="1.55" fill="#7a1fa2" />
<circle cx="266.30" cy="237.70" r="1.55" fill="#7a1fa2" />
<circle cx="276.30" cy="234.40" r="1.55" fill="#7a1fa2" />
<circle cx="266.30" cy="234.00" r="1.55" fill="#7a1fa2" />
<line x1="265.40" y1="233.90" x2="277.20" y2="233.90" stroke="#7a1fa2" stroke-width="0.8" />
<line x1="271.30" y1="231.80" x2="271.30" y2="236.00" stroke="#7a1fa2" stroke-width="0.8" />
<line x1="269.30" y1="231.80" x2="273.30" y2="231.80" stroke="#7a1fa2" stroke-width="0.8" />
<line x1="269.30" y1="236.00" x2="273.30" y2="236.00" stroke="#7a1fa2" stroke-width="0.8" />
<circle cx="286.00" cy="247.00" r="1.55" fill="#1f2fff" />
<circle cx="289.60" cy="244.80" r="1.55" fill="#1f2fff" />
<circle cx="293.00" cy="245.60" r="1.55" fill="#1f2fff" />
<circle cx="296.20" cy="245.80" r="1.55" fill="#1f2fff" />
<line x1="285.20" y1="245.80" x2="297.00" y2="245.80" stroke="#1f2fff" stroke-width="0.8" />
<text x="228.00" y="199.62" font-size="5.6" fill="#3a3a3a" color="#3a3a3a" transform="matrix(1 0 0 1.1200 0 -23.712)" style="stroke:none">29%</text>
<text x="239.11" y="198.00" font-size="3.6" fill="#3a3a3a" color="#3a3a3a" transform="matrix(1 0 0 1.1200 0 -23.604)" style="stroke:none">***</text>
<text x="247.00" y="209.22" font-size="5.6" fill="#3a3a3a" color="#3a3a3a" transform="matrix(1 0 0 1.1200 0 -24.864)" style="stroke:none">40%</text>
<text x="258.11" y="207.60" font-size="3.6" fill="#3a3a3a" color="#3a3a3a" transform="matrix(1 0 0 1.1200 0 -24.756)" style="stroke:none">***</text>
<text x="267.50" y="224.52" font-size="5.6" fill="#3a3a3a" color="#3a3a3a" transform="matrix(1 0 0 1.1200 0 -26.700)" style="stroke:none">58%</text>
<text x="278.61" y="222.90" font-size="3.6" fill="#3a3a3a" color="#3a3a3a" transform="matrix(1 0 0 1.1200 0 -26.592)" style="stroke:none">***</text>
<text x="287.30" y="240.42" font-size="5.6" fill="#3a3a3a" color="#3a3a3a" transform="matrix(1 0 0 1.1200 0 -28.608)" style="stroke:none">73%</text>
<text x="298.41" y="238.80" font-size="3.6" fill="#3a3a3a" color="#3a3a3a" transform="matrix(1 0 0 1.1200 0 -28.500)" style="stroke:none">***</text>
<text x="333.20" y="164.75" font-size="11.1" font-weight="bold" fill="#000" color="#000">F</text>
<text x="419.10" y="164.29" font-size="7.47" text-anchor="middle" font-weight="bold" fill="#000" color="#000" transform="matrix(1 0 0 1.1200 0 -19.392)">%TGI:%SDMA blood</text>
<line x1="361.10" y1="178.40" x2="361.10" y2="265.60" stroke="#888" stroke-width="0.6" />
<line x1="359.60" y1="265.60" x2="361.10" y2="265.60" stroke="#888" stroke-width="0.6" />
<text x="358.00" y="268.26" font-size="7.4" text-anchor="end" fill="#1a1a1a" color="#1a1a1a" transform="matrix(1 0 0 1.1200 0 -31.872)">40</text>
<line x1="359.60" y1="248.24" x2="361.10" y2="248.24" stroke="#888" stroke-width="0.6" />
<text x="358.00" y="250.90" font-size="7.4" text-anchor="end" fill="#1a1a1a" color="#1a1a1a" transform="matrix(1 0 0 1.1200 0 -29.789)">50</text>
<line x1="359.60" y1="230.88" x2="361.10" y2="230.88" stroke="#888" stroke-width="0.6" />
<text x="358.00" y="233.54" font-size="7.4" text-anchor="end" fill="#1a1a1a" color="#1a1a1a" transform="matrix(1 0 0 1.1200 0 -27.706)">60</text>
<line x1="359.60" y1="213.52" x2="361.10" y2="213.52" stroke="#888" stroke-width="0.6" />
<text x="358.00" y="216.18" font-size="7.4" text-anchor="end" fill="#1a1a1a" color="#1a1a1a" transform="matrix(1 0 0 1.1200 0 -25.622)">70</text>
<line x1="359.60" y1="196.16" x2="361.10" y2="196.16" stroke="#888" stroke-width="0.6" />
<text x="358.00" y="198.82" font-size="7.4" text-anchor="end" fill="#1a1a1a" color="#1a1a1a" transform="matrix(1 0 0 1.1200 0 -23.539)">80</text>
<line x1="359.60" y1="178.80" x2="361.10" y2="178.80" stroke="#888" stroke-width="0.6" />
<text x="358.00" y="181.46" font-size="7.4" text-anchor="end" fill="#1a1a1a" color="#1a1a1a" transform="matrix(1 0 0 1.1200 0 -21.456)">90</text>
<text x="344.72" y="222.40" font-size="7.28" text-anchor="middle" fill="#1a1a1a" color="#1a1a1a" transform="matrix(0.8929 0 0 1 36.654 0) rotate(-90 344.72 222.40)">% Tumor growth inhibition</text>
<line x1="361.10" y1="265.60" x2="467.20" y2="265.60" stroke="#888" stroke-width="0.6" />
<line x1="361.60" y1="265.60" x2="361.60" y2="267.10" stroke="#888" stroke-width="0.6" />
<text x="361.60" y="277.16" font-size="7.4" text-anchor="middle" fill="#1a1a1a" color="#1a1a1a" transform="matrix(1 0 0 1.1200 0 -32.940)">20</text>
<line x1="379.10" y1="265.60" x2="379.10" y2="267.10" stroke="#888" stroke-width="0.6" />
<text x="379.10" y="277.16" font-size="7.4" text-anchor="middle" fill="#1a1a1a" color="#1a1a1a" transform="matrix(1 0 0 1.1200 0 -32.940)">30</text>
<line x1="396.60" y1="265.60" x2="396.60" y2="267.10" stroke="#888" stroke-width="0.6" />
<text x="396.60" y="277.16" font-size="7.4" text-anchor="middle" fill="#1a1a1a" color="#1a1a1a" transform="matrix(1 0 0 1.1200 0 -32.940)">40</text>
<line x1="414.10" y1="265.60" x2="414.10" y2="267.10" stroke="#888" stroke-width="0.6" />
<text x="414.10" y="277.16" font-size="7.4" text-anchor="middle" fill="#1a1a1a" color="#1a1a1a" transform="matrix(1 0 0 1.1200 0 -32.940)">50</text>
<line x1="431.60" y1="265.60" x2="431.60" y2="267.10" stroke="#888" stroke-width="0.6" />
<text x="431.60" y="277.16" font-size="7.4" text-anchor="middle" fill="#1a1a1a" color="#1a1a1a" transform="matrix(1 0 0 1.1200 0 -32.940)">60</text>
<line x1="449.10" y1="265.60" x2="449.10" y2="267.10" stroke="#888" stroke-width="0.6" />
<text x="449.10" y="277.16" font-size="7.4" text-anchor="middle" fill="#1a1a1a" color="#1a1a1a" transform="matrix(1 0 0 1.1200 0 -32.940)">70</text>
<line x1="466.60" y1="265.60" x2="466.60" y2="267.10" stroke="#888" stroke-width="0.6" />
<text x="466.60" y="277.16" font-size="7.4" text-anchor="middle" fill="#1a1a1a" color="#1a1a1a" transform="matrix(1 0 0 1.1200 0 -32.940)">80</text>
<text x="412.00" y="291.89" font-size="7.47" text-anchor="middle" fill="#1a1a1a" color="#1a1a1a" transform="matrix(1 0 0 1.1200 0 -34.704)">%SDMA inhibition in blood</text>
<rect x="365.80" y="186.30" width="45.00" height="4.90" fill="#fff" stroke="#222" stroke-width="0.5"/>
<line x1="393.10" y1="186.30" x2="393.10" y2="191.20" stroke="#222" stroke-width="0.5" />
<text x="379.40" y="190.10" font-size="3.6" text-anchor="middle" fill="#333" color="#333" transform="matrix(1 0 0 1.1200 0 -22.656)">R squared</text>
<text x="402.00" y="190.10" font-size="3.6" text-anchor="middle" fill="#333" color="#333" transform="matrix(1 0 0 1.1200 0 -22.656)">0.9575</text>
<line x1="378.40" y1="247.20" x2="454.50" y2="185.00" stroke="#111" stroke-width="0.8" />
<circle cx="377.90" cy="241.50" r="1.5" fill="#000" />
<circle cx="396.90" cy="239.70" r="1.5" fill="#000" />
<circle cx="428.70" cy="206.40" r="1.5" fill="#000" />
<circle cx="454.50" cy="183.80" r="1.5" fill="#000" />
<text x="373.80" y="254.90" font-size="7.5" fill="#8c7a2e" color="#8c7a2e" transform="matrix(1 0 0 1.1200 0 -30.264)">3 mg/kg</text>
<text x="400.20" y="244.70" font-size="7.5" fill="#ff7f0e" color="#ff7f0e" transform="matrix(1 0 0 1.1200 0 -29.040)">10 mg/kg</text>
<text x="431.20" y="214.40" font-size="7.5" fill="#7a1fa2" color="#7a1fa2" transform="matrix(1 0 0 1.1200 0 -25.404)">30 mg/kg</text>
<text x="456.50" y="192.10" font-size="7.5" fill="#1f2fff" color="#1f2fff" transform="matrix(1 0 0 1.1200 0 -22.728)">100 mg/kg</text>
<text x="9.80" y="320.12" font-size="11.2" font-weight="bold" fill="#000" color="#000">G</text>
<text x="95.20" y="320.58" font-size="7.45" text-anchor="middle" font-weight="bold" fill="#000" color="#000" transform="matrix(1 0 0 1.1200 0 -38.148)">H838</text>
<line x1="40.60" y1="329.60" x2="40.60" y2="419.90" stroke="#888" stroke-width="0.6" />
<line x1="39.10" y1="419.90" x2="40.60" y2="419.90" stroke="#888" stroke-width="0.6" />
<text x="37.80" y="422.60" font-size="7.5" text-anchor="end" fill="#1a1a1a" color="#1a1a1a" transform="matrix(1 0 0 1.1200 0 -50.388)">0</text>
<line x1="39.10" y1="401.88" x2="40.60" y2="401.88" stroke="#888" stroke-width="0.6" />
<text x="37.80" y="404.58" font-size="7.5" text-anchor="end" fill="#1a1a1a" color="#1a1a1a" transform="matrix(1 0 0 1.1200 0 -48.226)">500</text>
<line x1="39.10" y1="383.86" x2="40.60" y2="383.86" stroke="#888" stroke-width="0.6" />
<text x="37.80" y="386.56" font-size="7.5" text-anchor="end" fill="#1a1a1a" color="#1a1a1a" transform="matrix(1 0 0 1.1200 0 -46.063)">1,000</text>
<line x1="39.10" y1="365.84" x2="40.60" y2="365.84" stroke="#888" stroke-width="0.6" />
<text x="37.80" y="368.54" font-size="7.5" text-anchor="end" fill="#1a1a1a" color="#1a1a1a" transform="matrix(1 0 0 1.1200 0 -43.901)">1,500</text>
<line x1="39.10" y1="347.82" x2="40.60" y2="347.82" stroke="#888" stroke-width="0.6" />
<text x="37.80" y="350.52" font-size="7.5" text-anchor="end" fill="#1a1a1a" color="#1a1a1a" transform="matrix(1 0 0 1.1200 0 -41.738)">2,000</text>
<line x1="39.10" y1="329.80" x2="40.60" y2="329.80" stroke="#888" stroke-width="0.6" />
<text x="37.80" y="332.50" font-size="7.5" text-anchor="end" fill="#1a1a1a" color="#1a1a1a" transform="matrix(1 0 0 1.1200 0 -39.576)">2,500</text>
<line x1="39.70" y1="416.30" x2="40.60" y2="416.30" stroke="#888" stroke-width="0.48" />
<line x1="39.70" y1="412.69" x2="40.60" y2="412.69" stroke="#888" stroke-width="0.48" />
<line x1="39.70" y1="409.09" x2="40.60" y2="409.09" stroke="#888" stroke-width="0.48" />
<line x1="39.70" y1="405.48" x2="40.60" y2="405.48" stroke="#888" stroke-width="0.48" />
<line x1="39.70" y1="398.28" x2="40.60" y2="398.28" stroke="#888" stroke-width="0.48" />
<line x1="39.70" y1="394.67" x2="40.60" y2="394.67" stroke="#888" stroke-width="0.48" />
<line x1="39.70" y1="391.07" x2="40.60" y2="391.07" stroke="#888" stroke-width="0.48" />
<line x1="39.70" y1="387.46" x2="40.60" y2="387.46" stroke="#888" stroke-width="0.48" />
<line x1="39.70" y1="380.26" x2="40.60" y2="380.26" stroke="#888" stroke-width="0.48" />
<line x1="39.70" y1="376.65" x2="40.60" y2="376.65" stroke="#888" stroke-width="0.48" />
<line x1="39.70" y1="373.05" x2="40.60" y2="373.05" stroke="#888" stroke-width="0.48" />
<line x1="39.70" y1="369.44" x2="40.60" y2="369.44" stroke="#888" stroke-width="0.48" />
<line x1="39.70" y1="362.24" x2="40.60" y2="362.24" stroke="#888" stroke-width="0.48" />
<line x1="39.70" y1="358.63" x2="40.60" y2="358.63" stroke="#888" stroke-width="0.48" />
<line x1="39.70" y1="355.03" x2="40.60" y2="355.03" stroke="#888" stroke-width="0.48" />
<line x1="39.70" y1="351.42" x2="40.60" y2="351.42" stroke="#888" stroke-width="0.48" />
<line x1="39.70" y1="344.22" x2="40.60" y2="344.22" stroke="#888" stroke-width="0.48" />
<line x1="39.70" y1="340.61" x2="40.60" y2="340.61" stroke="#888" stroke-width="0.48" />
<line x1="39.70" y1="337.01" x2="40.60" y2="337.01" stroke="#888" stroke-width="0.48" />
<line x1="39.70" y1="333.40" x2="40.60" y2="333.40" stroke="#888" stroke-width="0.48" />
<line x1="40.60" y1="419.90" x2="140.80" y2="419.90" stroke="#888" stroke-width="0.6" />
<line x1="40.60" y1="419.90" x2="40.60" y2="421.40" stroke="#888" stroke-width="0.6" />
<text x="40.60" y="429.26" font-size="7.4" text-anchor="middle" fill="#1a1a1a" color="#1a1a1a" transform="matrix(1 0 0 1.1200 0 -51.192)">5</text>
<line x1="60.65" y1="419.90" x2="60.65" y2="421.40" stroke="#888" stroke-width="0.6" />
<text x="60.65" y="429.26" font-size="7.4" text-anchor="middle" fill="#1a1a1a" color="#1a1a1a" transform="matrix(1 0 0 1.1200 0 -51.192)">10</text>
<line x1="80.70" y1="419.90" x2="80.70" y2="421.40" stroke="#888" stroke-width="0.6" />
<text x="80.70" y="429.26" font-size="7.4" text-anchor="middle" fill="#1a1a1a" color="#1a1a1a" transform="matrix(1 0 0 1.1200 0 -51.192)">15</text>
<line x1="100.75" y1="419.90" x2="100.75" y2="421.40" stroke="#888" stroke-width="0.6" />
<text x="100.75" y="429.26" font-size="7.4" text-anchor="middle" fill="#1a1a1a" color="#1a1a1a" transform="matrix(1 0 0 1.1200 0 -51.192)">20</text>
<line x1="120.80" y1="419.90" x2="120.80" y2="421.40" stroke="#888" stroke-width="0.6" />
<text x="120.80" y="429.26" font-size="7.4" text-anchor="middle" fill="#1a1a1a" color="#1a1a1a" transform="matrix(1 0 0 1.1200 0 -51.192)">25</text>
<line x1="140.85" y1="419.90" x2="140.85" y2="421.40" stroke="#888" stroke-width="0.6" />
<text x="140.85" y="429.26" font-size="7.4" text-anchor="middle" fill="#1a1a1a" color="#1a1a1a" transform="matrix(1 0 0 1.1200 0 -51.192)">30</text>
<line x1="40.60" y1="419.90" x2="40.60" y2="420.80" stroke="#888" stroke-width="0.48" />
<line x1="44.61" y1="419.90" x2="44.61" y2="420.80" stroke="#888" stroke-width="0.48" />
<line x1="48.62" y1="419.90" x2="48.62" y2="420.80" stroke="#888" stroke-width="0.48" />
<line x1="52.63" y1="419.90" x2="52.63" y2="420.80" stroke="#888" stroke-width="0.48" />
<line x1="56.64" y1="419.90" x2="56.64" y2="420.80" stroke="#888" stroke-width="0.48" />
<line x1="60.65" y1="419.90" x2="60.65" y2="420.80" stroke="#888" stroke-width="0.48" />
<line x1="64.66" y1="419.90" x2="64.66" y2="420.80" stroke="#888" stroke-width="0.48" />
<line x1="68.67" y1="419.90" x2="68.67" y2="420.80" stroke="#888" stroke-width="0.48" />
<line x1="72.68" y1="419.90" x2="72.68" y2="420.80" stroke="#888" stroke-width="0.48" />
<line x1="76.69" y1="419.90" x2="76.69" y2="420.80" stroke="#888" stroke-width="0.48" />
<line x1="80.70" y1="419.90" x2="80.70" y2="420.80" stroke="#888" stroke-width="0.48" />
<line x1="84.71" y1="419.90" x2="84.71" y2="420.80" stroke="#888" stroke-width="0.48" />
<line x1="88.72" y1="419.90" x2="88.72" y2="420.80" stroke="#888" stroke-width="0.48" />
<line x1="92.73" y1="419.90" x2="92.73" y2="420.80" stroke="#888" stroke-width="0.48" />
<line x1="96.74" y1="419.90" x2="96.74" y2="420.80" stroke="#888" stroke-width="0.48" />
<line x1="100.75" y1="419.90" x2="100.75" y2="420.80" stroke="#888" stroke-width="0.48" />
<line x1="104.76" y1="419.90" x2="104.76" y2="420.80" stroke="#888" stroke-width="0.48" />
<line x1="108.77" y1="419.90" x2="108.77" y2="420.80" stroke="#888" stroke-width="0.48" />
<line x1="112.78" y1="419.90" x2="112.78" y2="420.80" stroke="#888" stroke-width="0.48" />
<line x1="116.79" y1="419.90" x2="116.79" y2="420.80" stroke="#888" stroke-width="0.48" />
<line x1="120.80" y1="419.90" x2="120.80" y2="420.80" stroke="#888" stroke-width="0.48" />
<line x1="124.81" y1="419.90" x2="124.81" y2="420.80" stroke="#888" stroke-width="0.48" />
<line x1="128.82" y1="419.90" x2="128.82" y2="420.80" stroke="#888" stroke-width="0.48" />
<line x1="132.83" y1="419.90" x2="132.83" y2="420.80" stroke="#888" stroke-width="0.48" />
<line x1="136.84" y1="419.90" x2="136.84" y2="420.80" stroke="#888" stroke-width="0.48" />
<line x1="140.85" y1="419.90" x2="140.85" y2="420.80" stroke="#888" stroke-width="0.48" />
<text x="14.79" y="373.70" font-size="7.2" text-anchor="middle" fill="#1a1a1a" color="#1a1a1a" transform="matrix(0.8929 0 0 1 1.307 0) rotate(-90 14.79 373.70)">Tumor volume (mm³)</text>
<text x="15.20" y="439.00" font-size="6.4" fill="#1a1a1a" color="#1a1a1a" transform="matrix(1 0 0 1.1200 0 -52.404)">Dosing (PO)</text>
<line x1="57.10" y1="436.70" x2="128.60" y2="436.70" stroke="#222" stroke-width="1.2" />
<line x1="57.10" y1="434.90" x2="57.10" y2="438.50" stroke="#222" stroke-width="1.0" />
<line x1="128.60" y1="434.90" x2="128.60" y2="438.50" stroke="#222" stroke-width="1.0" />
<text x="97.50" y="448.79" font-size="7.47" text-anchor="middle" fill="#1a1a1a" color="#1a1a1a" transform="matrix(1 0 0 1.1200 0 -53.532)">Time (days post cell implantation)</text>
<line x1="46.00" y1="331.30" x2="51.60" y2="331.30" stroke="#000000" stroke-width="1.5" />
<circle cx="48.80" cy="331.30" r="1.35" fill="#000000" />
<text x="53.80" y="333.21" font-size="5.3" fill="#1a1a1a" color="#1a1a1a" transform="matrix(1 0 0 1.1200 0 -39.756)" style="stroke:none">Vehicle</text>
<line x1="46.00" y1="338.20" x2="51.60" y2="338.20" stroke="#ff1a1a" stroke-width="1.5" />
<circle cx="48.80" cy="338.20" r="1.35" fill="#ff1a1a" />
<text x="53.80" y="340.11" font-size="5.3" fill="#1a1a1a" color="#1a1a1a" transform="matrix(1 0 0 1.1200 0 -40.584)" style="stroke:none">25 mg/kg</text>
<line x1="46.00" y1="345.30" x2="51.60" y2="345.30" stroke="#1a8c1a" stroke-width="1.5" />
<circle cx="48.80" cy="345.30" r="1.35" fill="#1a8c1a" />
<text x="53.80" y="347.21" font-size="5.3" fill="#1a1a1a" color="#1a1a1a" transform="matrix(1 0 0 1.1200 0 -41.436)" style="stroke:none">50 mg/kg</text>
<line x1="46.00" y1="352.60" x2="51.60" y2="352.60" stroke="#1f2fff" stroke-width="1.5" />
<circle cx="48.80" cy="352.60" r="1.35" fill="#1f2fff" />
<text x="53.80" y="354.51" font-size="5.3" fill="#1a1a1a" color="#1a1a1a" transform="matrix(1 0 0 1.1200 0 -42.312)" style="stroke:none">100 mg/kg</text>
<polyline points="57.10,414.90 72.90,410.50 85.10,403.50 100.80,398.60 113.00,392.00 128.40,390.60" fill="none" stroke="#1a8c1a" stroke-width="1.5" stroke-linejoin="round" />
<circle cx="57.10" cy="414.90" r="1.4" fill="#1a8c1a" />
<circle cx="72.90" cy="410.50" r="1.4" fill="#1a8c1a" />
<line x1="85.10" y1="402.50" x2="85.10" y2="404.50" stroke="#1a8c1a" stroke-width="1.0" />
<line x1="83.60" y1="402.50" x2="86.60" y2="402.50" stroke="#1a8c1a" stroke-width="1.0" />
<line x1="83.60" y1="404.50" x2="86.60" y2="404.50" stroke="#1a8c1a" stroke-width="1.0" />
<circle cx="85.10" cy="403.50" r="1.4" fill="#1a8c1a" />
<line x1="100.80" y1="397.10" x2="100.80" y2="400.10" stroke="#1a8c1a" stroke-width="1.0" />
<line x1="99.30" y1="397.10" x2="102.30" y2="397.10" stroke="#1a8c1a" stroke-width="1.0" />
<line x1="99.30" y1="400.10" x2="102.30" y2="400.10" stroke="#1a8c1a" stroke-width="1.0" />
<circle cx="100.80" cy="398.60" r="1.4" fill="#1a8c1a" />
<line x1="113.00" y1="389.50" x2="113.00" y2="394.50" stroke="#1a8c1a" stroke-width="1.0" />
<line x1="111.50" y1="389.50" x2="114.50" y2="389.50" stroke="#1a8c1a" stroke-width="1.0" />
<line x1="111.50" y1="394.50" x2="114.50" y2="394.50" stroke="#1a8c1a" stroke-width="1.0" />
<circle cx="113.00" cy="392.00" r="1.4" fill="#1a8c1a" />
<line x1="128.40" y1="386.60" x2="128.40" y2="394.60" stroke="#1a8c1a" stroke-width="1.0" />
<line x1="126.90" y1="386.60" x2="129.90" y2="386.60" stroke="#1a8c1a" stroke-width="1.0" />
<line x1="126.90" y1="394.60" x2="129.90" y2="394.60" stroke="#1a8c1a" stroke-width="1.0" />
<circle cx="128.40" cy="390.60" r="1.4" fill="#1a8c1a" />
<polyline points="57.10,414.90 72.90,410.50 85.10,404.50 100.80,397.80 113.00,389.00 128.40,379.60" fill="none" stroke="#ff1a1a" stroke-width="1.5" stroke-linejoin="round" />
<circle cx="57.10" cy="414.90" r="1.4" fill="#ff1a1a" />
<circle cx="72.90" cy="410.50" r="1.4" fill="#ff1a1a" />
<line x1="85.10" y1="403.50" x2="85.10" y2="405.50" stroke="#ff1a1a" stroke-width="1.0" />
<line x1="83.60" y1="403.50" x2="86.60" y2="403.50" stroke="#ff1a1a" stroke-width="1.0" />
<line x1="83.60" y1="405.50" x2="86.60" y2="405.50" stroke="#ff1a1a" stroke-width="1.0" />
<circle cx="85.10" cy="404.50" r="1.4" fill="#ff1a1a" />
<line x1="100.80" y1="395.80" x2="100.80" y2="399.80" stroke="#ff1a1a" stroke-width="1.0" />
<line x1="99.30" y1="395.80" x2="102.30" y2="395.80" stroke="#ff1a1a" stroke-width="1.0" />
<line x1="99.30" y1="399.80" x2="102.30" y2="399.80" stroke="#ff1a1a" stroke-width="1.0" />
<circle cx="100.80" cy="397.80" r="1.4" fill="#ff1a1a" />
<line x1="113.00" y1="386.00" x2="113.00" y2="392.00" stroke="#ff1a1a" stroke-width="1.0" />
<line x1="111.50" y1="386.00" x2="114.50" y2="386.00" stroke="#ff1a1a" stroke-width="1.0" />
<line x1="111.50" y1="392.00" x2="114.50" y2="392.00" stroke="#ff1a1a" stroke-width="1.0" />
<circle cx="113.00" cy="389.00" r="1.4" fill="#ff1a1a" />
<line x1="128.40" y1="371.20" x2="128.40" y2="388.00" stroke="#ff1a1a" stroke-width="1.0" />
<line x1="126.90" y1="371.20" x2="129.90" y2="371.20" stroke="#ff1a1a" stroke-width="1.0" />
<line x1="126.90" y1="388.00" x2="129.90" y2="388.00" stroke="#ff1a1a" stroke-width="1.0" />
<circle cx="128.40" cy="379.60" r="1.4" fill="#ff1a1a" />
<polyline points="57.10,414.90 72.90,411.00 85.10,406.00 100.80,402.20 113.00,401.90 128.40,408.50" fill="none" stroke="#1f2fff" stroke-width="1.5" stroke-linejoin="round" />
<circle cx="57.10" cy="414.90" r="1.4" fill="#1f2fff" />
<circle cx="72.90" cy="411.00" r="1.4" fill="#1f2fff" />
<line x1="85.10" y1="405.00" x2="85.10" y2="407.00" stroke="#1f2fff" stroke-width="1.0" />
<line x1="83.60" y1="405.00" x2="86.60" y2="405.00" stroke="#1f2fff" stroke-width="1.0" />
<line x1="83.60" y1="407.00" x2="86.60" y2="407.00" stroke="#1f2fff" stroke-width="1.0" />
<circle cx="85.10" cy="406.00" r="1.4" fill="#1f2fff" />
<line x1="100.80" y1="400.00" x2="100.80" y2="404.40" stroke="#1f2fff" stroke-width="1.0" />
<line x1="99.30" y1="400.00" x2="102.30" y2="400.00" stroke="#1f2fff" stroke-width="1.0" />
<line x1="99.30" y1="404.40" x2="102.30" y2="404.40" stroke="#1f2fff" stroke-width="1.0" />
<circle cx="100.80" cy="402.20" r="1.4" fill="#1f2fff" />
<line x1="113.00" y1="398.90" x2="113.00" y2="404.90" stroke="#1f2fff" stroke-width="1.0" />
<line x1="111.50" y1="398.90" x2="114.50" y2="398.90" stroke="#1f2fff" stroke-width="1.0" />
<line x1="111.50" y1="404.90" x2="114.50" y2="404.90" stroke="#1f2fff" stroke-width="1.0" />
<circle cx="113.00" cy="401.90" r="1.4" fill="#1f2fff" />
<line x1="128.40" y1="405.50" x2="128.40" y2="411.50" stroke="#1f2fff" stroke-width="1.0" />
<line x1="126.90" y1="405.50" x2="129.90" y2="405.50" stroke="#1f2fff" stroke-width="1.0" />
<line x1="126.90" y1="411.50" x2="129.90" y2="411.50" stroke="#1f2fff" stroke-width="1.0" />
<circle cx="128.40" cy="408.50" r="1.4" fill="#1f2fff" />
<polyline points="57.10,414.90 72.90,409.80 85.10,403.70 100.80,390.20 113.00,378.20 128.40,349.40" fill="none" stroke="#000000" stroke-width="1.5" stroke-linejoin="round" />
<rect x="55.70" y="413.50" width="2.80" height="2.80" fill="#000000" />
<line x1="72.90" y1="408.80" x2="72.90" y2="410.80" stroke="#000000" stroke-width="1.0" />
<line x1="71.40" y1="408.80" x2="74.40" y2="408.80" stroke="#000000" stroke-width="1.0" />
<line x1="71.40" y1="410.80" x2="74.40" y2="410.80" stroke="#000000" stroke-width="1.0" />
<rect x="71.50" y="408.40" width="2.80" height="2.80" fill="#000000" />
<line x1="85.10" y1="402.20" x2="85.10" y2="405.20" stroke="#000000" stroke-width="1.0" />
<line x1="83.60" y1="402.20" x2="86.60" y2="402.20" stroke="#000000" stroke-width="1.0" />
<line x1="83.60" y1="405.20" x2="86.60" y2="405.20" stroke="#000000" stroke-width="1.0" />
<rect x="83.70" y="402.30" width="2.80" height="2.80" fill="#000000" />
<line x1="100.80" y1="387.00" x2="100.80" y2="393.40" stroke="#000000" stroke-width="1.0" />
<line x1="99.30" y1="387.00" x2="102.30" y2="387.00" stroke="#000000" stroke-width="1.0" />
<line x1="99.30" y1="393.40" x2="102.30" y2="393.40" stroke="#000000" stroke-width="1.0" />
<rect x="99.40" y="388.80" width="2.80" height="2.80" fill="#000000" />
<line x1="113.00" y1="373.80" x2="113.00" y2="382.60" stroke="#000000" stroke-width="1.0" />
<line x1="111.50" y1="373.80" x2="114.50" y2="373.80" stroke="#000000" stroke-width="1.0" />
<line x1="111.50" y1="382.60" x2="114.50" y2="382.60" stroke="#000000" stroke-width="1.0" />
<rect x="111.60" y="376.80" width="2.80" height="2.80" fill="#000000" />
<line x1="128.40" y1="339.20" x2="128.40" y2="359.60" stroke="#000000" stroke-width="1.0" />
<line x1="126.90" y1="339.20" x2="129.90" y2="339.20" stroke="#000000" stroke-width="1.0" />
<line x1="126.90" y1="359.60" x2="129.90" y2="359.60" stroke="#000000" stroke-width="1.0" />
<rect x="127.00" y="348.00" width="2.80" height="2.80" fill="#000000" />
<text x="133.70" y="381.62" font-size="5.6" fill="#ff1a1a" color="#ff1a1a" transform="matrix(1 0 0 1.1200 0 -45.552)" style="stroke:none">45% TGI</text>
<text x="155.59" y="380.05" font-size="3.472" fill="#ff1a1a" color="#ff1a1a" transform="matrix(1 0 0 1.1200 0 -45.456)" style="stroke:none">***</text>
<text x="133.70" y="392.22" font-size="5.6" fill="#1a8c1a" color="#1a8c1a" transform="matrix(1 0 0 1.1200 0 -46.824)" style="stroke:none">63% TGI</text>
<text x="155.59" y="390.65" font-size="3.472" fill="#1a8c1a" color="#1a8c1a" transform="matrix(1 0 0 1.1200 0 -46.728)" style="stroke:none">***</text>
<text x="133.70" y="410.52" font-size="5.6" fill="#1f2fff" color="#1f2fff" transform="matrix(1 0 0 1.1200 0 -49.020)" style="stroke:none">90% TGI</text>
<text x="155.59" y="408.95" font-size="3.472" fill="#1f2fff" color="#1f2fff" transform="matrix(1 0 0 1.1200 0 -48.924)" style="stroke:none">***</text>
<text x="170.10" y="317.32" font-size="11.2" font-weight="bold" fill="#000" color="#000">H</text>
<text x="260.90" y="318.78" font-size="7.45" text-anchor="middle" font-weight="bold" fill="#000" color="#000" transform="matrix(1 0 0 1.1200 0 -37.932)">H838 tumor SDMA</text>
<line x1="206.00" y1="325.30" x2="206.00" y2="420.20" stroke="#666" stroke-width="0.6" />
<line x1="204.50" y1="420.20" x2="206.00" y2="420.20" stroke="#666" stroke-width="0.6" />
<text x="204.20" y="422.43" font-size="6.2" text-anchor="end" fill="#1a1a1a" color="#1a1a1a" transform="matrix(1 0 0 1.1200 0 -50.424)">0</text>
<line x1="204.50" y1="396.52" x2="206.00" y2="396.52" stroke="#666" stroke-width="0.6" />
<text x="204.20" y="398.75" font-size="6.2" text-anchor="end" fill="#1a1a1a" color="#1a1a1a" transform="matrix(1 0 0 1.1200 0 -47.582)">100,000</text>
<line x1="204.50" y1="372.84" x2="206.00" y2="372.84" stroke="#666" stroke-width="0.6" />
<text x="204.20" y="375.07" font-size="6.2" text-anchor="end" fill="#1a1a1a" color="#1a1a1a" transform="matrix(1 0 0 1.1200 0 -44.741)">200,000</text>
<line x1="204.50" y1="349.16" x2="206.00" y2="349.16" stroke="#666" stroke-width="0.6" />
<text x="204.20" y="351.39" font-size="6.2" text-anchor="end" fill="#1a1a1a" color="#1a1a1a" transform="matrix(1 0 0 1.1200 0 -41.899)">300,000</text>
<line x1="204.50" y1="325.48" x2="206.00" y2="325.48" stroke="#666" stroke-width="0.6" />
<text x="204.20" y="327.71" font-size="6.2" text-anchor="end" fill="#1a1a1a" color="#1a1a1a" transform="matrix(1 0 0 1.1200 0 -39.058)">400,000</text>
<line x1="205.10" y1="414.28" x2="206.00" y2="414.28" stroke="#666" stroke-width="0.48" />
<line x1="205.10" y1="408.36" x2="206.00" y2="408.36" stroke="#666" stroke-width="0.48" />
<line x1="205.10" y1="402.44" x2="206.00" y2="402.44" stroke="#666" stroke-width="0.48" />
<line x1="205.10" y1="390.60" x2="206.00" y2="390.60" stroke="#666" stroke-width="0.48" />
<line x1="205.10" y1="384.68" x2="206.00" y2="384.68" stroke="#666" stroke-width="0.48" />
<line x1="205.10" y1="378.76" x2="206.00" y2="378.76" stroke="#666" stroke-width="0.48" />
<line x1="205.10" y1="366.92" x2="206.00" y2="366.92" stroke="#666" stroke-width="0.48" />
<line x1="205.10" y1="361.00" x2="206.00" y2="361.00" stroke="#666" stroke-width="0.48" />
<line x1="205.10" y1="355.08" x2="206.00" y2="355.08" stroke="#666" stroke-width="0.48" />
<line x1="205.10" y1="343.24" x2="206.00" y2="343.24" stroke="#666" stroke-width="0.48" />
<line x1="205.10" y1="337.32" x2="206.00" y2="337.32" stroke="#666" stroke-width="0.48" />
<line x1="205.10" y1="331.40" x2="206.00" y2="331.40" stroke="#666" stroke-width="0.48" />
<text x="178.39" y="372.50" font-size="7.2" text-anchor="middle" fill="#1a1a1a" color="#1a1a1a" transform="matrix(0.8929 0 0 1 18.836 0) rotate(-90 178.39 372.50)">SDMA RLU</text>
<line x1="206.00" y1="420.20" x2="314.80" y2="420.20" stroke="#666" stroke-width="0.6" />
<line x1="219.80" y1="420.20" x2="219.80" y2="421.80" stroke="#666" stroke-width="0.6" />
<text x="221.85" y="424.30" font-size="5.7" text-anchor="end" fill="#1a1a1a" color="#1a1a1a" transform="matrix(0.8929 0 0 1 23.550 0) rotate(-90 221.85 424.30)">Vehicle</text>
<line x1="247.00" y1="420.20" x2="247.00" y2="421.80" stroke="#666" stroke-width="0.6" />
<text x="249.05" y="424.30" font-size="5.7" text-anchor="end" fill="#1a1a1a" color="#1a1a1a" transform="matrix(0.8929 0 0 1 26.464 0) rotate(-90 249.05 424.30)">25 mg/kg</text>
<line x1="273.60" y1="420.20" x2="273.60" y2="421.80" stroke="#666" stroke-width="0.6" />
<text x="275.65" y="424.30" font-size="5.7" text-anchor="end" fill="#1a1a1a" color="#1a1a1a" transform="matrix(0.8929 0 0 1 29.314 0) rotate(-90 275.65 424.30)">50 mg/kg</text>
<line x1="301.00" y1="420.20" x2="301.00" y2="421.80" stroke="#666" stroke-width="0.6" />
<text x="303.05" y="424.30" font-size="5.7" text-anchor="end" fill="#1a1a1a" color="#1a1a1a" transform="matrix(0.8929 0 0 1 32.250 0) rotate(-90 303.05 424.30)">100 mg/kg</text>
<circle cx="219.80" cy="330.50" r="1.2" fill="#000" />
<circle cx="219.80" cy="335.10" r="1.2" fill="#000" />
<circle cx="219.80" cy="353.40" r="1.2" fill="#000" />
<circle cx="219.80" cy="356.70" r="1.2" fill="#000" />
<circle cx="218.60" cy="339.00" r="1.2" fill="#000" />
<line x1="210.70" y1="342.70" x2="228.70" y2="342.70" stroke="#333" stroke-width="0.8" />
<line x1="219.80" y1="337.70" x2="219.80" y2="348.30" stroke="#333" stroke-width="0.8" />
<line x1="217.20" y1="337.70" x2="222.40" y2="337.70" stroke="#333" stroke-width="0.8" />
<line x1="217.20" y1="348.30" x2="222.40" y2="348.30" stroke="#333" stroke-width="0.8" />
<line x1="240.50" y1="417.00" x2="253.50" y2="417.00" stroke="#ff1a1a" stroke-width="1.0" />
<rect x="240.80" y="416.40" width="2.40" height="2.40" fill="#ff1a1a" />
<rect x="243.60" y="415.50" width="2.40" height="2.40" fill="#ff1a1a" />
<rect x="245.80" y="416.20" width="2.40" height="2.40" fill="#ff1a1a" />
<rect x="248.30" y="415.40" width="2.40" height="2.40" fill="#ff1a1a" />
<rect x="250.80" y="416.30" width="2.40" height="2.40" fill="#ff1a1a" />
<line x1="247.00" y1="415.20" x2="247.00" y2="418.80" stroke="#ff1a1a" stroke-width="0.8" />
<line x1="267.10" y1="417.00" x2="280.10" y2="417.00" stroke="#1a8c1a" stroke-width="1.0" />
<circle cx="268.60" cy="417.60" r="1.2" fill="#1a8c1a" />
<circle cx="271.40" cy="416.70" r="1.2" fill="#1a8c1a" />
<circle cx="273.60" cy="417.40" r="1.2" fill="#1a8c1a" />
<circle cx="276.10" cy="416.60" r="1.2" fill="#1a8c1a" />
<circle cx="278.60" cy="417.50" r="1.2" fill="#1a8c1a" />
<line x1="273.60" y1="415.20" x2="273.60" y2="418.80" stroke="#1a8c1a" stroke-width="0.8" />
<line x1="294.50" y1="417.00" x2="307.50" y2="417.00" stroke="#1f2fff" stroke-width="1.0" />
<polygon points="296.00,416.28 294.68,418.56 297.32,418.56" fill="#1f2fff"/>
<polygon points="298.80,415.38 297.48,417.66 300.12,417.66" fill="#1f2fff"/>
<polygon points="301.00,416.08 299.68,418.36 302.32,418.36" fill="#1f2fff"/>
<polygon points="303.50,415.28 302.18,417.56 304.82,417.56" fill="#1f2fff"/>
<polygon points="306.00,416.18 304.68,418.46 307.32,418.46" fill="#1f2fff"/>
<line x1="301.00" y1="415.20" x2="301.00" y2="418.80" stroke="#1f2fff" stroke-width="0.8" />
<text x="236.60" y="410.57" font-size="6.3" fill="#333" color="#333" transform="matrix(1 0 0 1.1200 0 -48.996)" style="stroke:none">95%</text>
<text x="249.11" y="408.70" font-size="4.2" fill="#333" color="#333" transform="matrix(1 0 0 1.1200 0 -48.863)" style="stroke:none">***</text>
<text x="263.80" y="410.57" font-size="6.3" fill="#333" color="#333" transform="matrix(1 0 0 1.1200 0 -48.996)" style="stroke:none">96%</text>
<text x="276.31" y="408.70" font-size="4.2" fill="#333" color="#333" transform="matrix(1 0 0 1.1200 0 -48.863)" style="stroke:none">***</text>
<text x="290.70" y="410.57" font-size="6.3" fill="#333" color="#333" transform="matrix(1 0 0 1.1200 0 -48.996)" style="stroke:none">95%</text>
<text x="303.21" y="408.70" font-size="4.2" fill="#333" color="#333" transform="matrix(1 0 0 1.1200 0 -48.863)" style="stroke:none">***</text>
<text x="329.40" y="317.32" font-size="11.2" font-weight="bold" fill="#000" color="#000">I</text>
<text x="419.20" y="317.49" font-size="7.48" text-anchor="middle" font-weight="bold" fill="#000" color="#000" transform="matrix(1 0 0 1.1200 0 -37.776)">AMG 193 plasma PK</text>
<line x1="366.00" y1="323.50" x2="366.00" y2="420.70" stroke="#222" stroke-width="0.7" />
<line x1="364.50" y1="420.70" x2="366.00" y2="420.70" stroke="#222" stroke-width="0.7" />
<text x="362.70" y="423.29" font-size="7.2" text-anchor="end" fill="#1a1a1a" color="#1a1a1a" transform="matrix(1 0 0 1.1200 0 -50.484)">0.001</text>
<line x1="364.50" y1="396.45" x2="366.00" y2="396.45" stroke="#222" stroke-width="0.7" />
<text x="362.70" y="399.04" font-size="7.2" text-anchor="end" fill="#1a1a1a" color="#1a1a1a" transform="matrix(1 0 0 1.1200 0 -47.574)">0.01</text>
<line x1="364.50" y1="372.20" x2="366.00" y2="372.20" stroke="#222" stroke-width="0.7" />
<text x="362.70" y="374.79" font-size="7.2" text-anchor="end" fill="#1a1a1a" color="#1a1a1a" transform="matrix(1 0 0 1.1200 0 -44.664)">0.1</text>
<line x1="364.50" y1="347.95" x2="366.00" y2="347.95" stroke="#222" stroke-width="0.7" />
<text x="362.70" y="350.54" font-size="7.2" text-anchor="end" fill="#1a1a1a" color="#1a1a1a" transform="matrix(1 0 0 1.1200 0 -41.754)">1</text>
<line x1="364.50" y1="323.70" x2="366.00" y2="323.70" stroke="#222" stroke-width="0.7" />
<text x="362.70" y="326.29" font-size="7.2" text-anchor="end" fill="#1a1a1a" color="#1a1a1a" transform="matrix(1 0 0 1.1200 0 -38.844)">10</text>
<line x1="365.10" y1="413.40" x2="366.00" y2="413.40" stroke="#222" stroke-width="0.5599999999999999" />
<line x1="365.10" y1="409.13" x2="366.00" y2="409.13" stroke="#222" stroke-width="0.5599999999999999" />
<line x1="365.10" y1="406.10" x2="366.00" y2="406.10" stroke="#222" stroke-width="0.5599999999999999" />
<line x1="365.10" y1="403.75" x2="366.00" y2="403.75" stroke="#222" stroke-width="0.5599999999999999" />
<line x1="365.10" y1="401.83" x2="366.00" y2="401.83" stroke="#222" stroke-width="0.5599999999999999" />
<line x1="365.10" y1="400.21" x2="366.00" y2="400.21" stroke="#222" stroke-width="0.5599999999999999" />
<line x1="365.10" y1="398.80" x2="366.00" y2="398.80" stroke="#222" stroke-width="0.5599999999999999" />
<line x1="365.10" y1="397.56" x2="366.00" y2="397.56" stroke="#222" stroke-width="0.5599999999999999" />
<line x1="365.10" y1="389.15" x2="366.00" y2="389.15" stroke="#222" stroke-width="0.5599999999999999" />
<line x1="365.10" y1="384.88" x2="366.00" y2="384.88" stroke="#222" stroke-width="0.5599999999999999" />
<line x1="365.10" y1="381.85" x2="366.00" y2="381.85" stroke="#222" stroke-width="0.5599999999999999" />
<line x1="365.10" y1="379.50" x2="366.00" y2="379.50" stroke="#222" stroke-width="0.5599999999999999" />
<line x1="365.10" y1="377.58" x2="366.00" y2="377.58" stroke="#222" stroke-width="0.5599999999999999" />
<line x1="365.10" y1="375.96" x2="366.00" y2="375.96" stroke="#222" stroke-width="0.5599999999999999" />
<line x1="365.10" y1="374.55" x2="366.00" y2="374.55" stroke="#222" stroke-width="0.5599999999999999" />
<line x1="365.10" y1="373.31" x2="366.00" y2="373.31" stroke="#222" stroke-width="0.5599999999999999" />
<line x1="365.10" y1="364.90" x2="366.00" y2="364.90" stroke="#222" stroke-width="0.5599999999999999" />
<line x1="365.10" y1="360.63" x2="366.00" y2="360.63" stroke="#222" stroke-width="0.5599999999999999" />
<line x1="365.10" y1="357.60" x2="366.00" y2="357.60" stroke="#222" stroke-width="0.5599999999999999" />
<line x1="365.10" y1="355.25" x2="366.00" y2="355.25" stroke="#222" stroke-width="0.5599999999999999" />
<line x1="365.10" y1="353.33" x2="366.00" y2="353.33" stroke="#222" stroke-width="0.5599999999999999" />
<line x1="365.10" y1="351.71" x2="366.00" y2="351.71" stroke="#222" stroke-width="0.5599999999999999" />
<line x1="365.10" y1="350.30" x2="366.00" y2="350.30" stroke="#222" stroke-width="0.5599999999999999" />
<line x1="365.10" y1="349.06" x2="366.00" y2="349.06" stroke="#222" stroke-width="0.5599999999999999" />
<line x1="365.10" y1="340.65" x2="366.00" y2="340.65" stroke="#222" stroke-width="0.5599999999999999" />
<line x1="365.10" y1="336.38" x2="366.00" y2="336.38" stroke="#222" stroke-width="0.5599999999999999" />
<line x1="365.10" y1="333.35" x2="366.00" y2="333.35" stroke="#222" stroke-width="0.5599999999999999" />
<line x1="365.10" y1="331.00" x2="366.00" y2="331.00" stroke="#222" stroke-width="0.5599999999999999" />
<line x1="365.10" y1="329.08" x2="366.00" y2="329.08" stroke="#222" stroke-width="0.5599999999999999" />
<line x1="365.10" y1="327.46" x2="366.00" y2="327.46" stroke="#222" stroke-width="0.5599999999999999" />
<line x1="365.10" y1="326.05" x2="366.00" y2="326.05" stroke="#222" stroke-width="0.5599999999999999" />
<line x1="365.10" y1="324.81" x2="366.00" y2="324.81" stroke="#222" stroke-width="0.5599999999999999" />
<line x1="366.00" y1="420.70" x2="482.40" y2="420.70" stroke="#222" stroke-width="0.7" />
<line x1="366.20" y1="420.70" x2="366.20" y2="422.20" stroke="#222" stroke-width="0.7" />
<text x="366.20" y="430.93" font-size="7.3" text-anchor="middle" fill="#1a1a1a" color="#1a1a1a" transform="matrix(1 0 0 1.1200 0 -51.396)">0</text>
<line x1="385.48" y1="420.70" x2="385.48" y2="422.20" stroke="#222" stroke-width="0.7" />
<text x="385.48" y="430.93" font-size="7.3" text-anchor="middle" fill="#1a1a1a" color="#1a1a1a" transform="matrix(1 0 0 1.1200 0 -51.396)">4</text>
<line x1="404.76" y1="420.70" x2="404.76" y2="422.20" stroke="#222" stroke-width="0.7" />
<text x="404.76" y="430.93" font-size="7.3" text-anchor="middle" fill="#1a1a1a" color="#1a1a1a" transform="matrix(1 0 0 1.1200 0 -51.396)">8</text>
<line x1="424.04" y1="420.70" x2="424.04" y2="422.20" stroke="#222" stroke-width="0.7" />
<text x="424.04" y="430.93" font-size="7.3" text-anchor="middle" fill="#1a1a1a" color="#1a1a1a" transform="matrix(1 0 0 1.1200 0 -51.396)">12</text>
<line x1="443.32" y1="420.70" x2="443.32" y2="422.20" stroke="#222" stroke-width="0.7" />
<text x="443.32" y="430.93" font-size="7.3" text-anchor="middle" fill="#1a1a1a" color="#1a1a1a" transform="matrix(1 0 0 1.1200 0 -51.396)">16</text>
<line x1="462.60" y1="420.70" x2="462.60" y2="422.20" stroke="#222" stroke-width="0.7" />
<text x="462.60" y="430.93" font-size="7.3" text-anchor="middle" fill="#1a1a1a" color="#1a1a1a" transform="matrix(1 0 0 1.1200 0 -51.396)">20</text>
<line x1="481.88" y1="420.70" x2="481.88" y2="422.20" stroke="#222" stroke-width="0.7" />
<text x="481.88" y="430.93" font-size="7.3" text-anchor="middle" fill="#1a1a1a" color="#1a1a1a" transform="matrix(1 0 0 1.1200 0 -51.396)">24</text>
<text x="340.48" y="371.20" font-size="7.45" text-anchor="middle" fill="#1a1a1a" color="#1a1a1a" transform="matrix(0.8929 0 0 1 36.193 0) rotate(-90 340.48 371.20)">Plasma unbound conc (µmol/L)</text>
<text x="425.50" y="443.19" font-size="7.46" text-anchor="middle" fill="#1a1a1a" color="#1a1a1a" transform="matrix(1 0 0 1.1200 0 -52.860)">Time post last dose (hours)</text>
<line x1="366.20" y1="366.10" x2="481.40" y2="366.10" stroke="#222" stroke-width="1.0" stroke-dasharray="1.6,1.4"/>
<text x="459.6" y="373.26" font-size="6.3" fill="#222" color="#222" transform="matrix(1 0 0 1.12 0 -44.532)">H838 <tspan font-style="italic">in vitro</tspan> IC<tspan font-size="4.0" dy="1.5">50</tspan></text>
<line x1="370.70" y1="395.30" x2="375.90" y2="395.30" stroke="#ff1a1a" stroke-width="1.5" />
<circle cx="373.30" cy="395.30" r="1.35" fill="#ff1a1a" />
<text x="377.90" y="397.21" font-size="5.3" fill="#1a1a1a" color="#1a1a1a" transform="matrix(1 0 0 1.1200 0 -47.436)" style="stroke:none">25 mg/kg</text>
<line x1="370.70" y1="402.40" x2="375.90" y2="402.40" stroke="#1a8c1a" stroke-width="1.5" />
<circle cx="373.30" cy="402.40" r="1.35" fill="#1a8c1a" />
<text x="377.90" y="404.31" font-size="5.3" fill="#1a1a1a" color="#1a1a1a" transform="matrix(1 0 0 1.1200 0 -48.288)" style="stroke:none">50 mg/kg</text>
<line x1="370.70" y1="409.80" x2="375.90" y2="409.80" stroke="#1f2fff" stroke-width="1.5" />
<circle cx="373.30" cy="409.80" r="1.35" fill="#1f2fff" />
<text x="377.90" y="411.71" font-size="5.3" fill="#1a1a1a" color="#1a1a1a" transform="matrix(1 0 0 1.1200 0 -49.176)" style="stroke:none">100 mg/kg</text>
<polyline points="375.84,350.40 385.48,351.50 404.76,356.00 443.32,378.80 481.88,413.00" fill="none" stroke="#ff1a1a" stroke-width="1.2" stroke-linejoin="round" />
<line x1="375.84" y1="347.80" x2="375.84" y2="353.00" stroke="#ff1a1a" stroke-width="0.8" />
<line x1="374.64" y1="347.80" x2="377.04" y2="347.80" stroke="#ff1a1a" stroke-width="0.8" />
<line x1="374.64" y1="353.00" x2="377.04" y2="353.00" stroke="#ff1a1a" stroke-width="0.8" />
<polygon points="375.84,349.08 374.52,351.36 377.16,351.36" fill="#ff1a1a"/>
<polygon points="385.48,350.18 384.16,352.46 386.80,352.46" fill="#ff1a1a"/>
<line x1="404.76" y1="354.50" x2="404.76" y2="357.50" stroke="#ff1a1a" stroke-width="0.8" />
<line x1="403.56" y1="354.50" x2="405.96" y2="354.50" stroke="#ff1a1a" stroke-width="0.8" />
<line x1="403.56" y1="357.50" x2="405.96" y2="357.50" stroke="#ff1a1a" stroke-width="0.8" />
<polygon points="404.76,354.68 403.44,356.96 406.08,356.96" fill="#ff1a1a"/>
<line x1="443.32" y1="376.80" x2="443.32" y2="380.80" stroke="#ff1a1a" stroke-width="0.8" />
<line x1="442.12" y1="376.80" x2="444.52" y2="376.80" stroke="#ff1a1a" stroke-width="0.8" />
<line x1="442.12" y1="380.80" x2="444.52" y2="380.80" stroke="#ff1a1a" stroke-width="0.8" />
<polygon points="443.32,377.48 442.00,379.76 444.64,379.76" fill="#ff1a1a"/>
<line x1="481.88" y1="409.00" x2="481.88" y2="417.00" stroke="#ff1a1a" stroke-width="0.8" />
<line x1="480.68" y1="409.00" x2="483.08" y2="409.00" stroke="#ff1a1a" stroke-width="0.8" />
<line x1="480.68" y1="417.00" x2="483.08" y2="417.00" stroke="#ff1a1a" stroke-width="0.8" />
<polygon points="481.88,411.68 480.56,413.96 483.20,413.96" fill="#ff1a1a"/>
<polyline points="375.84,344.70 385.48,346.60 404.76,348.70 443.32,374.70" fill="none" stroke="#1a8c1a" stroke-width="1.2" stroke-linejoin="round" />
<line x1="375.84" y1="343.20" x2="375.84" y2="346.20" stroke="#1a8c1a" stroke-width="0.8" />
<line x1="374.64" y1="343.20" x2="377.04" y2="343.20" stroke="#1a8c1a" stroke-width="0.8" />
<line x1="374.64" y1="346.20" x2="377.04" y2="346.20" stroke="#1a8c1a" stroke-width="0.8" />
<circle cx="375.84" cy="344.70" r="1.2" fill="#1a8c1a" />
<line x1="385.48" y1="345.60" x2="385.48" y2="347.60" stroke="#1a8c1a" stroke-width="0.8" />
<line x1="384.28" y1="345.60" x2="386.68" y2="345.60" stroke="#1a8c1a" stroke-width="0.8" />
<line x1="384.28" y1="347.60" x2="386.68" y2="347.60" stroke="#1a8c1a" stroke-width="0.8" />
<circle cx="385.48" cy="346.60" r="1.2" fill="#1a8c1a" />
<line x1="404.76" y1="347.70" x2="404.76" y2="349.70" stroke="#1a8c1a" stroke-width="0.8" />
<line x1="403.56" y1="347.70" x2="405.96" y2="347.70" stroke="#1a8c1a" stroke-width="0.8" />
<line x1="403.56" y1="349.70" x2="405.96" y2="349.70" stroke="#1a8c1a" stroke-width="0.8" />
<circle cx="404.76" cy="348.70" r="1.2" fill="#1a8c1a" />
<line x1="443.32" y1="369.70" x2="443.32" y2="379.70" stroke="#1a8c1a" stroke-width="0.8" />
<line x1="442.12" y1="369.70" x2="444.52" y2="369.70" stroke="#1a8c1a" stroke-width="0.8" />
<line x1="442.12" y1="379.70" x2="444.52" y2="379.70" stroke="#1a8c1a" stroke-width="0.8" />
<circle cx="443.32" cy="374.70" r="1.2" fill="#1a8c1a" />
<polyline points="375.84,340.70 385.48,345.60 404.76,344.70 443.32,368.90 481.88,395.70" fill="none" stroke="#1f2fff" stroke-width="1.2" stroke-linejoin="round" />
<line x1="375.84" y1="338.30" x2="375.84" y2="343.10" stroke="#1f2fff" stroke-width="0.8" />
<line x1="374.64" y1="338.30" x2="377.04" y2="338.30" stroke="#1f2fff" stroke-width="0.8" />
<line x1="374.64" y1="343.10" x2="377.04" y2="343.10" stroke="#1f2fff" stroke-width="0.8" />
<circle cx="375.84" cy="340.70" r="1.2" fill="#1f2fff" />
<line x1="385.48" y1="344.60" x2="385.48" y2="346.60" stroke="#1f2fff" stroke-width="0.8" />
<line x1="384.28" y1="344.60" x2="386.68" y2="344.60" stroke="#1f2fff" stroke-width="0.8" />
<line x1="384.28" y1="346.60" x2="386.68" y2="346.60" stroke="#1f2fff" stroke-width="0.8" />
<circle cx="385.48" cy="345.60" r="1.2" fill="#1f2fff" />
<line x1="404.76" y1="341.70" x2="404.76" y2="347.70" stroke="#1f2fff" stroke-width="0.8" />
<line x1="403.56" y1="341.70" x2="405.96" y2="341.70" stroke="#1f2fff" stroke-width="0.8" />
<line x1="403.56" y1="347.70" x2="405.96" y2="347.70" stroke="#1f2fff" stroke-width="0.8" />
<circle cx="404.76" cy="344.70" r="1.2" fill="#1f2fff" />
<line x1="443.32" y1="366.30" x2="443.32" y2="371.50" stroke="#1f2fff" stroke-width="0.8" />
<line x1="442.12" y1="366.30" x2="444.52" y2="366.30" stroke="#1f2fff" stroke-width="0.8" />
<line x1="442.12" y1="371.50" x2="444.52" y2="371.50" stroke="#1f2fff" stroke-width="0.8" />
<circle cx="443.32" cy="368.90" r="1.2" fill="#1f2fff" />
<line x1="481.88" y1="392.10" x2="481.88" y2="399.30" stroke="#1f2fff" stroke-width="0.8" />
<line x1="480.68" y1="392.10" x2="483.08" y2="392.10" stroke="#1f2fff" stroke-width="0.8" />
<line x1="480.68" y1="399.30" x2="483.08" y2="399.30" stroke="#1f2fff" stroke-width="0.8" />
<circle cx="481.88" cy="395.70" r="1.2" fill="#1f2fff" />
<text x="9.80" y="477.22" font-size="11.2" font-weight="bold" fill="#000" color="#000">J</text>
<text x="80.00" y="475.30" font-size="7.5" text-anchor="middle" font-weight="bold" fill="#000" color="#000" transform="matrix(1 0 0 1.1200 0 -56.712)">Pancreatic PDX</text>
<text x="80.00" y="484.00" font-size="7.5" text-anchor="middle" font-weight="bold" fill="#000" color="#000" transform="matrix(1 0 0 1.1200 0 -57.756)">PA5415</text>
<line x1="36.70" y1="499.70" x2="36.70" y2="565.90" stroke="#888" stroke-width="0.6" />
<line x1="35.20" y1="565.90" x2="36.70" y2="565.90" stroke="#888" stroke-width="0.6" />
<text x="33.10" y="567.81" font-size="5.3" text-anchor="end" fill="#1a1a1a" color="#1a1a1a" transform="matrix(1 0 0 1.1200 0 -67.908)">0</text>
<line x1="35.20" y1="543.90" x2="36.70" y2="543.90" stroke="#888" stroke-width="0.6" />
<text x="33.10" y="545.81" font-size="5.3" text-anchor="end" fill="#1a1a1a" color="#1a1a1a" transform="matrix(1 0 0 1.1200 0 -65.268)">500</text>
<line x1="35.20" y1="521.90" x2="36.70" y2="521.90" stroke="#888" stroke-width="0.6" />
<text x="33.10" y="523.81" font-size="5.3" text-anchor="end" fill="#1a1a1a" color="#1a1a1a" transform="matrix(1 0 0 1.1200 0 -62.628)">1,000</text>
<line x1="35.20" y1="499.90" x2="36.70" y2="499.90" stroke="#888" stroke-width="0.6" />
<text x="33.10" y="501.81" font-size="5.3" text-anchor="end" fill="#1a1a1a" color="#1a1a1a" transform="matrix(1 0 0 1.1200 0 -59.988)">1,500</text>
<line x1="35.80" y1="554.90" x2="36.70" y2="554.90" stroke="#888" stroke-width="0.48" />
<line x1="35.80" y1="532.90" x2="36.70" y2="532.90" stroke="#888" stroke-width="0.48" />
<line x1="35.80" y1="510.90" x2="36.70" y2="510.90" stroke="#888" stroke-width="0.48" />
<line x1="36.70" y1="565.90" x2="108.50" y2="565.90" stroke="#888" stroke-width="0.6" />
<line x1="36.70" y1="565.90" x2="36.70" y2="567.40" stroke="#888" stroke-width="0.6" />
<text x="36.70" y="573.84" font-size="5.4" text-anchor="middle" fill="#1a1a1a" color="#1a1a1a" transform="matrix(1 0 0 1.1200 0 -68.628)">15</text>
<line x1="46.95" y1="565.90" x2="46.95" y2="567.40" stroke="#888" stroke-width="0.6" />
<text x="46.95" y="573.84" font-size="5.4" text-anchor="middle" fill="#1a1a1a" color="#1a1a1a" transform="matrix(1 0 0 1.1200 0 -68.628)">20</text>
<line x1="57.20" y1="565.90" x2="57.20" y2="567.40" stroke="#888" stroke-width="0.6" />
<text x="57.20" y="573.84" font-size="5.4" text-anchor="middle" fill="#1a1a1a" color="#1a1a1a" transform="matrix(1 0 0 1.1200 0 -68.628)">25</text>
<line x1="67.45" y1="565.90" x2="67.45" y2="567.40" stroke="#888" stroke-width="0.6" />
<text x="67.45" y="573.84" font-size="5.4" text-anchor="middle" fill="#1a1a1a" color="#1a1a1a" transform="matrix(1 0 0 1.1200 0 -68.628)">30</text>
<line x1="77.70" y1="565.90" x2="77.70" y2="567.40" stroke="#888" stroke-width="0.6" />
<text x="77.70" y="573.84" font-size="5.4" text-anchor="middle" fill="#1a1a1a" color="#1a1a1a" transform="matrix(1 0 0 1.1200 0 -68.628)">35</text>
<line x1="87.95" y1="565.90" x2="87.95" y2="567.40" stroke="#888" stroke-width="0.6" />
<text x="87.95" y="573.84" font-size="5.4" text-anchor="middle" fill="#1a1a1a" color="#1a1a1a" transform="matrix(1 0 0 1.1200 0 -68.628)">40</text>
<line x1="98.20" y1="565.90" x2="98.20" y2="567.40" stroke="#888" stroke-width="0.6" />
<text x="98.20" y="573.84" font-size="5.4" text-anchor="middle" fill="#1a1a1a" color="#1a1a1a" transform="matrix(1 0 0 1.1200 0 -68.628)">45</text>
<line x1="108.45" y1="565.90" x2="108.45" y2="567.40" stroke="#888" stroke-width="0.6" />
<text x="108.45" y="573.84" font-size="5.4" text-anchor="middle" fill="#1a1a1a" color="#1a1a1a" transform="matrix(1 0 0 1.1200 0 -68.628)">50</text>
<line x1="36.70" y1="565.90" x2="36.70" y2="566.80" stroke="#888" stroke-width="0.48" />
<line x1="38.75" y1="565.90" x2="38.75" y2="566.80" stroke="#888" stroke-width="0.48" />
<line x1="40.80" y1="565.90" x2="40.80" y2="566.80" stroke="#888" stroke-width="0.48" />
<line x1="42.85" y1="565.90" x2="42.85" y2="566.80" stroke="#888" stroke-width="0.48" />
<line x1="44.90" y1="565.90" x2="44.90" y2="566.80" stroke="#888" stroke-width="0.48" />
<line x1="46.95" y1="565.90" x2="46.95" y2="566.80" stroke="#888" stroke-width="0.48" />
<line x1="49.00" y1="565.90" x2="49.00" y2="566.80" stroke="#888" stroke-width="0.48" />
<line x1="51.05" y1="565.90" x2="51.05" y2="566.80" stroke="#888" stroke-width="0.48" />
<line x1="53.10" y1="565.90" x2="53.10" y2="566.80" stroke="#888" stroke-width="0.48" />
<line x1="55.15" y1="565.90" x2="55.15" y2="566.80" stroke="#888" stroke-width="0.48" />
<line x1="57.20" y1="565.90" x2="57.20" y2="566.80" stroke="#888" stroke-width="0.48" />
<line x1="59.25" y1="565.90" x2="59.25" y2="566.80" stroke="#888" stroke-width="0.48" />
<line x1="61.30" y1="565.90" x2="61.30" y2="566.80" stroke="#888" stroke-width="0.48" />
<line x1="63.35" y1="565.90" x2="63.35" y2="566.80" stroke="#888" stroke-width="0.48" />
<line x1="65.40" y1="565.90" x2="65.40" y2="566.80" stroke="#888" stroke-width="0.48" />
<line x1="67.45" y1="565.90" x2="67.45" y2="566.80" stroke="#888" stroke-width="0.48" />
<line x1="69.50" y1="565.90" x2="69.50" y2="566.80" stroke="#888" stroke-width="0.48" />
<line x1="71.55" y1="565.90" x2="71.55" y2="566.80" stroke="#888" stroke-width="0.48" />
<line x1="73.60" y1="565.90" x2="73.60" y2="566.80" stroke="#888" stroke-width="0.48" />
<line x1="75.65" y1="565.90" x2="75.65" y2="566.80" stroke="#888" stroke-width="0.48" />
<line x1="77.70" y1="565.90" x2="77.70" y2="566.80" stroke="#888" stroke-width="0.48" />
<line x1="79.75" y1="565.90" x2="79.75" y2="566.80" stroke="#888" stroke-width="0.48" />
<line x1="81.80" y1="565.90" x2="81.80" y2="566.80" stroke="#888" stroke-width="0.48" />
<line x1="83.85" y1="565.90" x2="83.85" y2="566.80" stroke="#888" stroke-width="0.48" />
<line x1="85.90" y1="565.90" x2="85.90" y2="566.80" stroke="#888" stroke-width="0.48" />
<line x1="87.95" y1="565.90" x2="87.95" y2="566.80" stroke="#888" stroke-width="0.48" />
<line x1="90.00" y1="565.90" x2="90.00" y2="566.80" stroke="#888" stroke-width="0.48" />
<line x1="92.05" y1="565.90" x2="92.05" y2="566.80" stroke="#888" stroke-width="0.48" />
<line x1="94.10" y1="565.90" x2="94.10" y2="566.80" stroke="#888" stroke-width="0.48" />
<line x1="96.15" y1="565.90" x2="96.15" y2="566.80" stroke="#888" stroke-width="0.48" />
<line x1="98.20" y1="565.90" x2="98.20" y2="566.80" stroke="#888" stroke-width="0.48" />
<line x1="100.25" y1="565.90" x2="100.25" y2="566.80" stroke="#888" stroke-width="0.48" />
<line x1="102.30" y1="565.90" x2="102.30" y2="566.80" stroke="#888" stroke-width="0.48" />
<line x1="104.35" y1="565.90" x2="104.35" y2="566.80" stroke="#888" stroke-width="0.48" />
<line x1="106.40" y1="565.90" x2="106.40" y2="566.80" stroke="#888" stroke-width="0.48" />
<line x1="108.45" y1="565.90" x2="108.45" y2="566.80" stroke="#888" stroke-width="0.48" />
<text x="13.26" y="532.80" font-size="7.1" text-anchor="middle" fill="#1a1a1a" color="#1a1a1a" transform="matrix(0.8929 0 0 1 1.146 0) rotate(-90 13.26 532.80)">Tumor volume (mm³)</text>
<text x="14.00" y="581.55" font-size="4.3" fill="#1a1a1a" color="#1a1a1a" transform="matrix(1 0 0 1.1200 0 -69.600)" style="stroke:none">Dosing (PO)</text>
<line x1="43.80" y1="579.80" x2="103.10" y2="579.80" stroke="#222" stroke-width="1.1" />
<line x1="43.80" y1="578.10" x2="43.80" y2="581.50" stroke="#222" stroke-width="0.9" />
<line x1="103.10" y1="578.10" x2="103.10" y2="581.50" stroke="#222" stroke-width="0.9" />
<text x="74.00" y="589.44" font-size="5.4" text-anchor="middle" fill="#1a1a1a" color="#1a1a1a" transform="matrix(1 0 0 1.1200 0 -70.500)">Time (days post cell implantation)</text>
<line x1="38.80" y1="501.70" x2="44.00" y2="501.70" stroke="#000000" stroke-width="1.5" />
<circle cx="41.40" cy="501.70" r="1.35" fill="#000000" />
<text x="47.00" y="503.72" font-size="5.6" fill="#1a1a1a" color="#1a1a1a" transform="matrix(1 0 0 1.1200 0 -60.204)" style="stroke:none">Vehicle</text>
<line x1="38.80" y1="508.70" x2="44.00" y2="508.70" stroke="#ff1a1a" stroke-width="1.5" />
<circle cx="41.40" cy="508.70" r="1.35" fill="#ff1a1a" />
<text x="47.00" y="510.72" font-size="5.6" fill="#1a1a1a" color="#1a1a1a" transform="matrix(1 0 0 1.1200 0 -61.044)" style="stroke:none">25 mg/kg</text>
<line x1="38.80" y1="515.70" x2="44.00" y2="515.70" stroke="#1a8c1a" stroke-width="1.5" />
<circle cx="41.40" cy="515.70" r="1.35" fill="#1a8c1a" />
<text x="47.00" y="517.72" font-size="5.6" fill="#1a1a1a" color="#1a1a1a" transform="matrix(1 0 0 1.1200 0 -61.884)" style="stroke:none">50 mg/kg</text>
<line x1="38.80" y1="523.00" x2="44.00" y2="523.00" stroke="#1f2fff" stroke-width="1.5" />
<circle cx="41.40" cy="523.00" r="1.35" fill="#1f2fff" />
<text x="47.00" y="525.02" font-size="5.6" fill="#1a1a1a" color="#1a1a1a" transform="matrix(1 0 0 1.1200 0 -62.760)" style="stroke:none">100 mg/kg</text>
<polyline points="43.80,561.30 50.20,559.00 60.80,555.50 64.60,553.50 75.20,551.70 81.50,547.90 89.60,542.10 96.30,540.60 102.70,540.60" fill="none" stroke="#1a8c1a" stroke-width="1.35" stroke-linejoin="round" />
<circle cx="43.80" cy="561.30" r="1.25" fill="#1a8c1a" />
<circle cx="50.20" cy="559.00" r="1.25" fill="#1a8c1a" />
<circle cx="60.80" cy="555.50" r="1.25" fill="#1a8c1a" />
<circle cx="64.60" cy="553.50" r="1.25" fill="#1a8c1a" />
<line x1="75.20" y1="550.90" x2="75.20" y2="552.50" stroke="#1a8c1a" stroke-width="0.9" />
<line x1="73.90" y1="550.90" x2="76.50" y2="550.90" stroke="#1a8c1a" stroke-width="0.9" />
<line x1="73.90" y1="552.50" x2="76.50" y2="552.50" stroke="#1a8c1a" stroke-width="0.9" />
<circle cx="75.20" cy="551.70" r="1.25" fill="#1a8c1a" />
<line x1="81.50" y1="546.40" x2="81.50" y2="549.40" stroke="#1a8c1a" stroke-width="0.9" />
<line x1="80.20" y1="546.40" x2="82.80" y2="546.40" stroke="#1a8c1a" stroke-width="0.9" />
<line x1="80.20" y1="549.40" x2="82.80" y2="549.40" stroke="#1a8c1a" stroke-width="0.9" />
<circle cx="81.50" cy="547.90" r="1.25" fill="#1a8c1a" />
<line x1="89.60" y1="540.10" x2="89.60" y2="544.10" stroke="#1a8c1a" stroke-width="0.9" />
<line x1="88.30" y1="540.10" x2="90.90" y2="540.10" stroke="#1a8c1a" stroke-width="0.9" />
<line x1="88.30" y1="544.10" x2="90.90" y2="544.10" stroke="#1a8c1a" stroke-width="0.9" />
<circle cx="89.60" cy="542.10" r="1.25" fill="#1a8c1a" />
<line x1="96.30" y1="538.60" x2="96.30" y2="542.60" stroke="#1a8c1a" stroke-width="0.9" />
<line x1="95.00" y1="538.60" x2="97.60" y2="538.60" stroke="#1a8c1a" stroke-width="0.9" />
<line x1="95.00" y1="542.60" x2="97.60" y2="542.60" stroke="#1a8c1a" stroke-width="0.9" />
<circle cx="96.30" cy="540.60" r="1.25" fill="#1a8c1a" />
<line x1="102.70" y1="538.60" x2="102.70" y2="542.60" stroke="#1a8c1a" stroke-width="0.9" />
<line x1="101.40" y1="538.60" x2="104.00" y2="538.60" stroke="#1a8c1a" stroke-width="0.9" />
<line x1="101.40" y1="542.60" x2="104.00" y2="542.60" stroke="#1a8c1a" stroke-width="0.9" />
<circle cx="102.70" cy="540.60" r="1.25" fill="#1a8c1a" />
<polyline points="43.80,561.30 50.20,559.00 60.80,555.50 64.60,553.50 75.20,551.00 81.50,549.20 89.60,546.90 96.30,546.90 102.70,546.00" fill="none" stroke="#1f2fff" stroke-width="1.35" stroke-linejoin="round" />
<circle cx="43.80" cy="561.30" r="1.25" fill="#1f2fff" />
<circle cx="50.20" cy="559.00" r="1.25" fill="#1f2fff" />
<circle cx="60.80" cy="555.50" r="1.25" fill="#1f2fff" />
<circle cx="64.60" cy="553.50" r="1.25" fill="#1f2fff" />
<circle cx="75.20" cy="551.00" r="1.25" fill="#1f2fff" />
<line x1="81.50" y1="547.70" x2="81.50" y2="550.70" stroke="#1f2fff" stroke-width="0.9" />
<line x1="80.20" y1="547.70" x2="82.80" y2="547.70" stroke="#1f2fff" stroke-width="0.9" />
<line x1="80.20" y1="550.70" x2="82.80" y2="550.70" stroke="#1f2fff" stroke-width="0.9" />
<circle cx="81.50" cy="549.20" r="1.25" fill="#1f2fff" />
<line x1="89.60" y1="544.90" x2="89.60" y2="548.90" stroke="#1f2fff" stroke-width="0.9" />
<line x1="88.30" y1="544.90" x2="90.90" y2="544.90" stroke="#1f2fff" stroke-width="0.9" />
<line x1="88.30" y1="548.90" x2="90.90" y2="548.90" stroke="#1f2fff" stroke-width="0.9" />
<circle cx="89.60" cy="546.90" r="1.25" fill="#1f2fff" />
<line x1="96.30" y1="544.90" x2="96.30" y2="548.90" stroke="#1f2fff" stroke-width="0.9" />
<line x1="95.00" y1="544.90" x2="97.60" y2="544.90" stroke="#1f2fff" stroke-width="0.9" />
<line x1="95.00" y1="548.90" x2="97.60" y2="548.90" stroke="#1f2fff" stroke-width="0.9" />
<circle cx="96.30" cy="546.90" r="1.25" fill="#1f2fff" />
<line x1="102.70" y1="543.50" x2="102.70" y2="548.50" stroke="#1f2fff" stroke-width="0.9" />
<line x1="101.40" y1="543.50" x2="104.00" y2="543.50" stroke="#1f2fff" stroke-width="0.9" />
<line x1="101.40" y1="548.50" x2="104.00" y2="548.50" stroke="#1f2fff" stroke-width="0.9" />
<circle cx="102.70" cy="546.00" r="1.25" fill="#1f2fff" />
<polyline points="43.80,561.30 50.20,559.00 60.80,555.00 64.60,553.00 75.20,550.80 81.50,541.20 89.60,535.40 96.30,532.90 102.70,527.10" fill="none" stroke="#ff1a1a" stroke-width="1.35" stroke-linejoin="round" />
<circle cx="43.80" cy="561.30" r="1.25" fill="#ff1a1a" />
<circle cx="50.20" cy="559.00" r="1.25" fill="#ff1a1a" />
<circle cx="60.80" cy="555.00" r="1.25" fill="#ff1a1a" />
<circle cx="64.60" cy="553.00" r="1.25" fill="#ff1a1a" />
<circle cx="75.20" cy="550.80" r="1.25" fill="#ff1a1a" />
<line x1="81.50" y1="539.40" x2="81.50" y2="543.00" stroke="#ff1a1a" stroke-width="0.9" />
<line x1="80.20" y1="539.40" x2="82.80" y2="539.40" stroke="#ff1a1a" stroke-width="0.9" />
<line x1="80.20" y1="543.00" x2="82.80" y2="543.00" stroke="#ff1a1a" stroke-width="0.9" />
<circle cx="81.50" cy="541.20" r="1.25" fill="#ff1a1a" />
<line x1="89.60" y1="533.20" x2="89.60" y2="537.60" stroke="#ff1a1a" stroke-width="0.9" />
<line x1="88.30" y1="533.20" x2="90.90" y2="533.20" stroke="#ff1a1a" stroke-width="0.9" />
<line x1="88.30" y1="537.60" x2="90.90" y2="537.60" stroke="#ff1a1a" stroke-width="0.9" />
<circle cx="89.60" cy="535.40" r="1.25" fill="#ff1a1a" />
<line x1="96.30" y1="530.40" x2="96.30" y2="535.40" stroke="#ff1a1a" stroke-width="0.9" />
<line x1="95.00" y1="530.40" x2="97.60" y2="530.40" stroke="#ff1a1a" stroke-width="0.9" />
<line x1="95.00" y1="535.40" x2="97.60" y2="535.40" stroke="#ff1a1a" stroke-width="0.9" />
<circle cx="96.30" cy="532.90" r="1.25" fill="#ff1a1a" />
<line x1="102.70" y1="523.30" x2="102.70" y2="530.90" stroke="#ff1a1a" stroke-width="0.9" />
<line x1="101.40" y1="523.30" x2="104.00" y2="523.30" stroke="#ff1a1a" stroke-width="0.9" />
<line x1="101.40" y1="530.90" x2="104.00" y2="530.90" stroke="#ff1a1a" stroke-width="0.9" />
<circle cx="102.70" cy="527.10" r="1.25" fill="#ff1a1a" />
<polyline points="43.80,561.30 50.20,558.10 60.80,552.70 64.60,551.20 75.20,546.90 81.50,533.50 89.60,523.50 96.30,517.10 102.70,513.30" fill="none" stroke="#000000" stroke-width="1.35" stroke-linejoin="round" />
<rect x="42.55" y="560.05" width="2.50" height="2.50" fill="#000000" />
<rect x="48.95" y="556.85" width="2.50" height="2.50" fill="#000000" />
<line x1="60.80" y1="551.70" x2="60.80" y2="553.70" stroke="#000000" stroke-width="0.9" />
<line x1="59.50" y1="551.70" x2="62.10" y2="551.70" stroke="#000000" stroke-width="0.9" />
<line x1="59.50" y1="553.70" x2="62.10" y2="553.70" stroke="#000000" stroke-width="0.9" />
<rect x="59.55" y="551.45" width="2.50" height="2.50" fill="#000000" />
<line x1="64.60" y1="550.20" x2="64.60" y2="552.20" stroke="#000000" stroke-width="0.9" />
<line x1="63.30" y1="550.20" x2="65.90" y2="550.20" stroke="#000000" stroke-width="0.9" />
<line x1="63.30" y1="552.20" x2="65.90" y2="552.20" stroke="#000000" stroke-width="0.9" />
<rect x="63.35" y="549.95" width="2.50" height="2.50" fill="#000000" />
<line x1="75.20" y1="545.90" x2="75.20" y2="547.90" stroke="#000000" stroke-width="0.9" />
<line x1="73.90" y1="545.90" x2="76.50" y2="545.90" stroke="#000000" stroke-width="0.9" />
<line x1="73.90" y1="547.90" x2="76.50" y2="547.90" stroke="#000000" stroke-width="0.9" />
<rect x="73.95" y="545.65" width="2.50" height="2.50" fill="#000000" />
<line x1="81.50" y1="530.70" x2="81.50" y2="536.30" stroke="#000000" stroke-width="0.9" />
<line x1="80.20" y1="530.70" x2="82.80" y2="530.70" stroke="#000000" stroke-width="0.9" />
<line x1="80.20" y1="536.30" x2="82.80" y2="536.30" stroke="#000000" stroke-width="0.9" />
<rect x="80.25" y="532.25" width="2.50" height="2.50" fill="#000000" />
<line x1="89.60" y1="520.70" x2="89.60" y2="526.30" stroke="#000000" stroke-width="0.9" />
<line x1="88.30" y1="520.70" x2="90.90" y2="520.70" stroke="#000000" stroke-width="0.9" />
<line x1="88.30" y1="526.30" x2="90.90" y2="526.30" stroke="#000000" stroke-width="0.9" />
<rect x="88.35" y="522.25" width="2.50" height="2.50" fill="#000000" />
<line x1="96.30" y1="513.70" x2="96.30" y2="520.50" stroke="#000000" stroke-width="0.9" />
<line x1="95.00" y1="513.70" x2="97.60" y2="513.70" stroke="#000000" stroke-width="0.9" />
<line x1="95.00" y1="520.50" x2="97.60" y2="520.50" stroke="#000000" stroke-width="0.9" />
<rect x="95.05" y="515.85" width="2.50" height="2.50" fill="#000000" />
<line x1="102.70" y1="508.90" x2="102.70" y2="517.70" stroke="#000000" stroke-width="0.9" />
<line x1="101.40" y1="508.90" x2="104.00" y2="508.90" stroke="#000000" stroke-width="0.9" />
<line x1="101.40" y1="517.70" x2="104.00" y2="517.70" stroke="#000000" stroke-width="0.9" />
<rect x="101.45" y="512.05" width="2.50" height="2.50" fill="#000000" />
<text x="106.90" y="528.32" font-size="4.5" fill="#ff1a1a" color="#ff1a1a" transform="matrix(1 0 0 1.1200 0 -63.204)" style="stroke:none">27% TGI</text>
<text x="124.47" y="527.15" font-size="2.79" fill="#ff1a1a" color="#ff1a1a" transform="matrix(1 0 0 1.1200 0 -63.137)" style="stroke:none">***</text>
<text x="106.90" y="541.22" font-size="4.5" fill="#1a8c1a" color="#1a8c1a" transform="matrix(1 0 0 1.1200 0 -64.752)" style="stroke:none">57% TGI</text>
<text x="124.47" y="540.05" font-size="2.79" fill="#1a8c1a" color="#1a8c1a" transform="matrix(1 0 0 1.1200 0 -64.685)" style="stroke:none">***</text>
<text x="106.90" y="548.12" font-size="4.5" fill="#1f2fff" color="#1f2fff" transform="matrix(1 0 0 1.1200 0 -65.580)" style="stroke:none">66% TGI</text>
<text x="124.47" y="546.95" font-size="2.79" fill="#1f2fff" color="#1f2fff" transform="matrix(1 0 0 1.1200 0 -65.513)" style="stroke:none">***</text>
<text x="138.40" y="476.22" font-size="11.2" font-weight="bold" fill="#000" color="#000">K</text>
<text x="205.00" y="475.30" font-size="7.5" text-anchor="middle" font-weight="bold" fill="#000" color="#000" transform="matrix(1 0 0 1.1200 0 -56.712)">Lung PDX</text>
<text x="205.00" y="484.00" font-size="7.5" text-anchor="middle" font-weight="bold" fill="#000" color="#000" transform="matrix(1 0 0 1.1200 0 -57.756)">LU5268</text>
<line x1="160.40" y1="499.70" x2="160.40" y2="565.90" stroke="#888" stroke-width="0.6" />
<line x1="158.90" y1="565.90" x2="160.40" y2="565.90" stroke="#888" stroke-width="0.6" />
<text x="156.80" y="567.81" font-size="5.3" text-anchor="end" fill="#1a1a1a" color="#1a1a1a" transform="matrix(1 0 0 1.1200 0 -67.908)">0</text>
<line x1="158.90" y1="549.40" x2="160.40" y2="549.40" stroke="#888" stroke-width="0.6" />
<text x="156.80" y="551.31" font-size="5.3" text-anchor="end" fill="#1a1a1a" color="#1a1a1a" transform="matrix(1 0 0 1.1200 0 -65.928)">500</text>
<line x1="158.90" y1="532.90" x2="160.40" y2="532.90" stroke="#888" stroke-width="0.6" />
<text x="156.80" y="534.81" font-size="5.3" text-anchor="end" fill="#1a1a1a" color="#1a1a1a" transform="matrix(1 0 0 1.1200 0 -63.948)">1,000</text>
<line x1="158.90" y1="516.40" x2="160.40" y2="516.40" stroke="#888" stroke-width="0.6" />
<text x="156.80" y="518.31" font-size="5.3" text-anchor="end" fill="#1a1a1a" color="#1a1a1a" transform="matrix(1 0 0 1.1200 0 -61.968)">1,500</text>
<line x1="158.90" y1="499.90" x2="160.40" y2="499.90" stroke="#888" stroke-width="0.6" />
<text x="156.80" y="501.81" font-size="5.3" text-anchor="end" fill="#1a1a1a" color="#1a1a1a" transform="matrix(1 0 0 1.1200 0 -59.988)">2,000</text>
<line x1="159.50" y1="557.65" x2="160.40" y2="557.65" stroke="#888" stroke-width="0.48" />
<line x1="159.50" y1="541.15" x2="160.40" y2="541.15" stroke="#888" stroke-width="0.48" />
<line x1="159.50" y1="524.65" x2="160.40" y2="524.65" stroke="#888" stroke-width="0.48" />
<line x1="159.50" y1="508.15" x2="160.40" y2="508.15" stroke="#888" stroke-width="0.48" />
<line x1="160.40" y1="565.90" x2="233.00" y2="565.90" stroke="#888" stroke-width="0.6" />
<line x1="160.60" y1="565.90" x2="160.60" y2="567.40" stroke="#888" stroke-width="0.6" />
<text x="160.60" y="573.84" font-size="5.4" text-anchor="middle" fill="#1a1a1a" color="#1a1a1a" transform="matrix(1 0 0 1.1200 0 -68.628)">20</text>
<line x1="174.60" y1="565.90" x2="174.60" y2="567.40" stroke="#888" stroke-width="0.6" />
<text x="174.60" y="573.84" font-size="5.4" text-anchor="middle" fill="#1a1a1a" color="#1a1a1a" transform="matrix(1 0 0 1.1200 0 -68.628)">25</text>
<line x1="188.40" y1="565.90" x2="188.40" y2="567.40" stroke="#888" stroke-width="0.6" />
<text x="188.40" y="573.84" font-size="5.4" text-anchor="middle" fill="#1a1a1a" color="#1a1a1a" transform="matrix(1 0 0 1.1200 0 -68.628)">30</text>
<line x1="202.60" y1="565.90" x2="202.60" y2="567.40" stroke="#888" stroke-width="0.6" />
<text x="202.60" y="573.84" font-size="5.4" text-anchor="middle" fill="#1a1a1a" color="#1a1a1a" transform="matrix(1 0 0 1.1200 0 -68.628)">35</text>
<line x1="217.30" y1="565.90" x2="217.30" y2="567.40" stroke="#888" stroke-width="0.6" />
<text x="217.30" y="573.84" font-size="5.4" text-anchor="middle" fill="#1a1a1a" color="#1a1a1a" transform="matrix(1 0 0 1.1200 0 -68.628)">40</text>
<line x1="231.90" y1="565.90" x2="231.90" y2="567.40" stroke="#888" stroke-width="0.6" />
<text x="231.90" y="573.84" font-size="5.4" text-anchor="middle" fill="#1a1a1a" color="#1a1a1a" transform="matrix(1 0 0 1.1200 0 -68.628)">45</text>
<line x1="160.60" y1="565.90" x2="160.60" y2="566.80" stroke="#888" stroke-width="0.48" />
<line x1="163.40" y1="565.90" x2="163.40" y2="566.80" stroke="#888" stroke-width="0.48" />
<line x1="166.20" y1="565.90" x2="166.20" y2="566.80" stroke="#888" stroke-width="0.48" />
<line x1="169.00" y1="565.90" x2="169.00" y2="566.80" stroke="#888" stroke-width="0.48" />
<line x1="171.80" y1="565.90" x2="171.80" y2="566.80" stroke="#888" stroke-width="0.48" />
<line x1="174.60" y1="565.90" x2="174.60" y2="566.80" stroke="#888" stroke-width="0.48" />
<line x1="177.36" y1="565.90" x2="177.36" y2="566.80" stroke="#888" stroke-width="0.48" />
<line x1="180.12" y1="565.90" x2="180.12" y2="566.80" stroke="#888" stroke-width="0.48" />
<line x1="182.88" y1="565.90" x2="182.88" y2="566.80" stroke="#888" stroke-width="0.48" />
<line x1="185.64" y1="565.90" x2="185.64" y2="566.80" stroke="#888" stroke-width="0.48" />
<line x1="188.40" y1="565.90" x2="188.40" y2="566.80" stroke="#888" stroke-width="0.48" />
<line x1="191.24" y1="565.90" x2="191.24" y2="566.80" stroke="#888" stroke-width="0.48" />
<line x1="194.08" y1="565.90" x2="194.08" y2="566.80" stroke="#888" stroke-width="0.48" />
<line x1="196.92" y1="565.90" x2="196.92" y2="566.80" stroke="#888" stroke-width="0.48" />
<line x1="199.76" y1="565.90" x2="199.76" y2="566.80" stroke="#888" stroke-width="0.48" />
<line x1="202.60" y1="565.90" x2="202.60" y2="566.80" stroke="#888" stroke-width="0.48" />
<line x1="205.54" y1="565.90" x2="205.54" y2="566.80" stroke="#888" stroke-width="0.48" />
<line x1="208.48" y1="565.90" x2="208.48" y2="566.80" stroke="#888" stroke-width="0.48" />
<line x1="211.42" y1="565.90" x2="211.42" y2="566.80" stroke="#888" stroke-width="0.48" />
<line x1="214.36" y1="565.90" x2="214.36" y2="566.80" stroke="#888" stroke-width="0.48" />
<line x1="217.30" y1="565.90" x2="217.30" y2="566.80" stroke="#888" stroke-width="0.48" />
<line x1="220.22" y1="565.90" x2="220.22" y2="566.80" stroke="#888" stroke-width="0.48" />
<line x1="223.14" y1="565.90" x2="223.14" y2="566.80" stroke="#888" stroke-width="0.48" />
<line x1="226.06" y1="565.90" x2="226.06" y2="566.80" stroke="#888" stroke-width="0.48" />
<line x1="228.98" y1="565.90" x2="228.98" y2="566.80" stroke="#888" stroke-width="0.48" />
<line x1="231.90" y1="565.90" x2="231.90" y2="566.80" stroke="#888" stroke-width="0.48" />
<text x="138.26" y="532.80" font-size="7.1" text-anchor="middle" fill="#1a1a1a" color="#1a1a1a" transform="matrix(0.8929 0 0 1 14.539 0) rotate(-90 138.26 532.80)">Tumor volume (mm³)</text>
<text x="137.80" y="581.55" font-size="4.3" fill="#1a1a1a" color="#1a1a1a" transform="matrix(1 0 0 1.1200 0 -69.600)" style="stroke:none">Dosing (PO)</text>
<line x1="162.30" y1="579.80" x2="227.70" y2="579.80" stroke="#222" stroke-width="1.1" />
<line x1="162.30" y1="578.10" x2="162.30" y2="581.50" stroke="#222" stroke-width="0.9" />
<line x1="227.70" y1="578.10" x2="227.70" y2="581.50" stroke="#222" stroke-width="0.9" />
<text x="194.40" y="589.44" font-size="5.4" text-anchor="middle" fill="#1a1a1a" color="#1a1a1a" transform="matrix(1 0 0 1.1200 0 -70.500)">Time (days post cell implantation)</text>
<line x1="163.00" y1="501.70" x2="168.20" y2="501.70" stroke="#000000" stroke-width="1.5" />
<circle cx="165.60" cy="501.70" r="1.35" fill="#000000" />
<text x="171.10" y="503.72" font-size="5.6" fill="#1a1a1a" color="#1a1a1a" transform="matrix(1 0 0 1.1200 0 -60.204)" style="stroke:none">Vehicle</text>
<line x1="163.00" y1="508.70" x2="168.20" y2="508.70" stroke="#ff1a1a" stroke-width="1.5" />
<circle cx="165.60" cy="508.70" r="1.35" fill="#ff1a1a" />
<text x="171.10" y="510.72" font-size="5.6" fill="#1a1a1a" color="#1a1a1a" transform="matrix(1 0 0 1.1200 0 -61.044)" style="stroke:none">25 mg/kg</text>
<line x1="163.00" y1="515.70" x2="168.20" y2="515.70" stroke="#1a8c1a" stroke-width="1.5" />
<circle cx="165.60" cy="515.70" r="1.35" fill="#1a8c1a" />
<text x="171.10" y="517.72" font-size="5.6" fill="#1a1a1a" color="#1a1a1a" transform="matrix(1 0 0 1.1200 0 -61.884)" style="stroke:none">50 mg/kg</text>
<line x1="163.00" y1="523.00" x2="168.20" y2="523.00" stroke="#1f2fff" stroke-width="1.5" />
<circle cx="165.60" cy="523.00" r="1.35" fill="#1f2fff" />
<text x="171.10" y="525.02" font-size="5.6" fill="#1a1a1a" color="#1a1a1a" transform="matrix(1 0 0 1.1200 0 -62.760)" style="stroke:none">100 mg/kg</text>
<polyline points="162.70,561.00 168.50,556.50 180.00,551.50 188.70,547.90 200.80,543.50 209.40,541.50 221.30,537.70 227.10,535.80" fill="none" stroke="#1a8c1a" stroke-width="1.35" stroke-linejoin="round" />
<circle cx="162.70" cy="561.00" r="1.25" fill="#1a8c1a" />
<circle cx="168.50" cy="556.50" r="1.25" fill="#1a8c1a" />
<line x1="180.00" y1="550.70" x2="180.00" y2="552.30" stroke="#1a8c1a" stroke-width="0.9" />
<line x1="178.70" y1="550.70" x2="181.30" y2="550.70" stroke="#1a8c1a" stroke-width="0.9" />
<line x1="178.70" y1="552.30" x2="181.30" y2="552.30" stroke="#1a8c1a" stroke-width="0.9" />
<circle cx="180.00" cy="551.50" r="1.25" fill="#1a8c1a" />
<line x1="188.70" y1="546.90" x2="188.70" y2="548.90" stroke="#1a8c1a" stroke-width="0.9" />
<line x1="187.40" y1="546.90" x2="190.00" y2="546.90" stroke="#1a8c1a" stroke-width="0.9" />
<line x1="187.40" y1="548.90" x2="190.00" y2="548.90" stroke="#1a8c1a" stroke-width="0.9" />
<circle cx="188.70" cy="547.90" r="1.25" fill="#1a8c1a" />
<line x1="200.80" y1="541.50" x2="200.80" y2="545.50" stroke="#1a8c1a" stroke-width="0.9" />
<line x1="199.50" y1="541.50" x2="202.10" y2="541.50" stroke="#1a8c1a" stroke-width="0.9" />
<line x1="199.50" y1="545.50" x2="202.10" y2="545.50" stroke="#1a8c1a" stroke-width="0.9" />
<circle cx="200.80" cy="543.50" r="1.25" fill="#1a8c1a" />
<line x1="209.40" y1="539.50" x2="209.40" y2="543.50" stroke="#1a8c1a" stroke-width="0.9" />
<line x1="208.10" y1="539.50" x2="210.70" y2="539.50" stroke="#1a8c1a" stroke-width="0.9" />
<line x1="208.10" y1="543.50" x2="210.70" y2="543.50" stroke="#1a8c1a" stroke-width="0.9" />
<circle cx="209.40" cy="541.50" r="1.25" fill="#1a8c1a" />
<line x1="221.30" y1="535.50" x2="221.30" y2="539.90" stroke="#1a8c1a" stroke-width="0.9" />
<line x1="220.00" y1="535.50" x2="222.60" y2="535.50" stroke="#1a8c1a" stroke-width="0.9" />
<line x1="220.00" y1="539.90" x2="222.60" y2="539.90" stroke="#1a8c1a" stroke-width="0.9" />
<circle cx="221.30" cy="537.70" r="1.25" fill="#1a8c1a" />
<line x1="227.10" y1="533.10" x2="227.10" y2="538.50" stroke="#1a8c1a" stroke-width="0.9" />
<line x1="225.80" y1="533.10" x2="228.40" y2="533.10" stroke="#1a8c1a" stroke-width="0.9" />
<line x1="225.80" y1="538.50" x2="228.40" y2="538.50" stroke="#1a8c1a" stroke-width="0.9" />
<circle cx="227.10" cy="535.80" r="1.25" fill="#1a8c1a" />
<polyline points="162.70,561.00 168.50,556.50 180.00,551.50 188.70,549.80 200.80,546.50 209.40,546.50 221.30,544.00 227.10,541.50" fill="none" stroke="#1f2fff" stroke-width="1.35" stroke-linejoin="round" />
<circle cx="162.70" cy="561.00" r="1.25" fill="#1f2fff" />
<circle cx="168.50" cy="556.50" r="1.25" fill="#1f2fff" />
<circle cx="180.00" cy="551.50" r="1.25" fill="#1f2fff" />
<line x1="188.70" y1="548.80" x2="188.70" y2="550.80" stroke="#1f2fff" stroke-width="0.9" />
<line x1="187.40" y1="548.80" x2="190.00" y2="548.80" stroke="#1f2fff" stroke-width="0.9" />
<line x1="187.40" y1="550.80" x2="190.00" y2="550.80" stroke="#1f2fff" stroke-width="0.9" />
<circle cx="188.70" cy="549.80" r="1.25" fill="#1f2fff" />
<line x1="200.80" y1="544.50" x2="200.80" y2="548.50" stroke="#1f2fff" stroke-width="0.9" />
<line x1="199.50" y1="544.50" x2="202.10" y2="544.50" stroke="#1f2fff" stroke-width="0.9" />
<line x1="199.50" y1="548.50" x2="202.10" y2="548.50" stroke="#1f2fff" stroke-width="0.9" />
<circle cx="200.80" cy="546.50" r="1.25" fill="#1f2fff" />
<line x1="209.40" y1="545.00" x2="209.40" y2="548.00" stroke="#1f2fff" stroke-width="0.9" />
<line x1="208.10" y1="545.00" x2="210.70" y2="545.00" stroke="#1f2fff" stroke-width="0.9" />
<line x1="208.10" y1="548.00" x2="210.70" y2="548.00" stroke="#1f2fff" stroke-width="0.9" />
<circle cx="209.40" cy="546.50" r="1.25" fill="#1f2fff" />
<line x1="221.30" y1="542.00" x2="221.30" y2="546.00" stroke="#1f2fff" stroke-width="0.9" />
<line x1="220.00" y1="542.00" x2="222.60" y2="542.00" stroke="#1f2fff" stroke-width="0.9" />
<line x1="220.00" y1="546.00" x2="222.60" y2="546.00" stroke="#1f2fff" stroke-width="0.9" />
<circle cx="221.30" cy="544.00" r="1.25" fill="#1f2fff" />
<line x1="227.10" y1="539.50" x2="227.10" y2="543.50" stroke="#1f2fff" stroke-width="0.9" />
<line x1="225.80" y1="539.50" x2="228.40" y2="539.50" stroke="#1f2fff" stroke-width="0.9" />
<line x1="225.80" y1="543.50" x2="228.40" y2="543.50" stroke="#1f2fff" stroke-width="0.9" />
<circle cx="227.10" cy="541.50" r="1.25" fill="#1f2fff" />
<polyline points="162.70,561.00 168.50,556.50 180.00,550.50 188.70,547.00 200.80,538.80 209.40,537.70 221.30,531.50 227.10,526.30" fill="none" stroke="#ff1a1a" stroke-width="1.35" stroke-linejoin="round" />
<circle cx="162.70" cy="561.00" r="1.25" fill="#ff1a1a" />
<circle cx="168.50" cy="556.50" r="1.25" fill="#ff1a1a" />
<line x1="180.00" y1="549.70" x2="180.00" y2="551.30" stroke="#ff1a1a" stroke-width="0.9" />
<line x1="178.70" y1="549.70" x2="181.30" y2="549.70" stroke="#ff1a1a" stroke-width="0.9" />
<line x1="178.70" y1="551.30" x2="181.30" y2="551.30" stroke="#ff1a1a" stroke-width="0.9" />
<circle cx="180.00" cy="550.50" r="1.25" fill="#ff1a1a" />
<line x1="188.70" y1="546.00" x2="188.70" y2="548.00" stroke="#ff1a1a" stroke-width="0.9" />
<line x1="187.40" y1="546.00" x2="190.00" y2="546.00" stroke="#ff1a1a" stroke-width="0.9" />
<line x1="187.40" y1="548.00" x2="190.00" y2="548.00" stroke="#ff1a1a" stroke-width="0.9" />
<circle cx="188.70" cy="547.00" r="1.25" fill="#ff1a1a" />
<line x1="200.80" y1="535.60" x2="200.80" y2="542.00" stroke="#ff1a1a" stroke-width="0.9" />
<line x1="199.50" y1="535.60" x2="202.10" y2="535.60" stroke="#ff1a1a" stroke-width="0.9" />
<line x1="199.50" y1="542.00" x2="202.10" y2="542.00" stroke="#ff1a1a" stroke-width="0.9" />
<circle cx="200.80" cy="538.80" r="1.25" fill="#ff1a1a" />
<line x1="209.40" y1="534.30" x2="209.40" y2="541.10" stroke="#ff1a1a" stroke-width="0.9" />
<line x1="208.10" y1="534.30" x2="210.70" y2="534.30" stroke="#ff1a1a" stroke-width="0.9" />
<line x1="208.10" y1="541.10" x2="210.70" y2="541.10" stroke="#ff1a1a" stroke-width="0.9" />
<circle cx="209.40" cy="537.70" r="1.25" fill="#ff1a1a" />
<line x1="221.30" y1="528.60" x2="221.30" y2="534.40" stroke="#ff1a1a" stroke-width="0.9" />
<line x1="220.00" y1="528.60" x2="222.60" y2="528.60" stroke="#ff1a1a" stroke-width="0.9" />
<line x1="220.00" y1="534.40" x2="222.60" y2="534.40" stroke="#ff1a1a" stroke-width="0.9" />
<circle cx="221.30" cy="531.50" r="1.25" fill="#ff1a1a" />
<line x1="227.10" y1="522.00" x2="227.10" y2="530.60" stroke="#ff1a1a" stroke-width="0.9" />
<line x1="225.80" y1="522.00" x2="228.40" y2="522.00" stroke="#ff1a1a" stroke-width="0.9" />
<line x1="225.80" y1="530.60" x2="228.40" y2="530.60" stroke="#ff1a1a" stroke-width="0.9" />
<circle cx="227.10" cy="526.30" r="1.25" fill="#ff1a1a" />
<polyline points="162.70,561.00 168.50,556.50 180.00,550.80 188.70,546.50 200.80,534.40 209.40,529.60 221.30,517.10 227.10,508.50" fill="none" stroke="#000000" stroke-width="1.35" stroke-linejoin="round" />
<rect x="161.45" y="559.75" width="2.50" height="2.50" fill="#000000" />
<rect x="167.25" y="555.25" width="2.50" height="2.50" fill="#000000" />
<line x1="180.00" y1="549.80" x2="180.00" y2="551.80" stroke="#000000" stroke-width="0.9" />
<line x1="178.70" y1="549.80" x2="181.30" y2="549.80" stroke="#000000" stroke-width="0.9" />
<line x1="178.70" y1="551.80" x2="181.30" y2="551.80" stroke="#000000" stroke-width="0.9" />
<rect x="178.75" y="549.55" width="2.50" height="2.50" fill="#000000" />
<line x1="188.70" y1="545.50" x2="188.70" y2="547.50" stroke="#000000" stroke-width="0.9" />
<line x1="187.40" y1="545.50" x2="190.00" y2="545.50" stroke="#000000" stroke-width="0.9" />
<line x1="187.40" y1="547.50" x2="190.00" y2="547.50" stroke="#000000" stroke-width="0.9" />
<rect x="187.45" y="545.25" width="2.50" height="2.50" fill="#000000" />
<line x1="200.80" y1="532.50" x2="200.80" y2="536.30" stroke="#000000" stroke-width="0.9" />
<line x1="199.50" y1="532.50" x2="202.10" y2="532.50" stroke="#000000" stroke-width="0.9" />
<line x1="199.50" y1="536.30" x2="202.10" y2="536.30" stroke="#000000" stroke-width="0.9" />
<rect x="199.55" y="533.15" width="2.50" height="2.50" fill="#000000" />
<line x1="209.40" y1="527.00" x2="209.40" y2="532.20" stroke="#000000" stroke-width="0.9" />
<line x1="208.10" y1="527.00" x2="210.70" y2="527.00" stroke="#000000" stroke-width="0.9" />
<line x1="208.10" y1="532.20" x2="210.70" y2="532.20" stroke="#000000" stroke-width="0.9" />
<rect x="208.15" y="528.35" width="2.50" height="2.50" fill="#000000" />
<line x1="221.30" y1="513.50" x2="221.30" y2="520.70" stroke="#000000" stroke-width="0.9" />
<line x1="220.00" y1="513.50" x2="222.60" y2="513.50" stroke="#000000" stroke-width="0.9" />
<line x1="220.00" y1="520.70" x2="222.60" y2="520.70" stroke="#000000" stroke-width="0.9" />
<rect x="220.05" y="515.85" width="2.50" height="2.50" fill="#000000" />
<line x1="227.10" y1="504.30" x2="227.10" y2="512.70" stroke="#000000" stroke-width="0.9" />
<line x1="225.80" y1="504.30" x2="228.40" y2="504.30" stroke="#000000" stroke-width="0.9" />
<line x1="225.80" y1="512.70" x2="228.40" y2="512.70" stroke="#000000" stroke-width="0.9" />
<rect x="225.85" y="507.25" width="2.50" height="2.50" fill="#000000" />
<text x="231.50" y="527.92" font-size="4.5" fill="#ff1a1a" color="#ff1a1a" transform="matrix(1 0 0 1.1200 0 -63.156)" style="stroke:none">34% TGI</text>
<text x="249.07" y="526.75" font-size="2.79" fill="#ff1a1a" color="#ff1a1a" transform="matrix(1 0 0 1.1200 0 -63.089)" style="stroke:none">***</text>
<text x="231.50" y="537.62" font-size="4.5" fill="#1a8c1a" color="#1a8c1a" transform="matrix(1 0 0 1.1200 0 -64.320)" style="stroke:none">53% TGI</text>
<text x="249.07" y="536.45" font-size="2.79" fill="#1a8c1a" color="#1a8c1a" transform="matrix(1 0 0 1.1200 0 -64.253)" style="stroke:none">***</text>
<text x="231.50" y="543.12" font-size="4.5" fill="#1f2fff" color="#1f2fff" transform="matrix(1 0 0 1.1200 0 -64.980)" style="stroke:none">63% TGI</text>
<text x="249.07" y="541.95" font-size="2.79" fill="#1f2fff" color="#1f2fff" transform="matrix(1 0 0 1.1200 0 -64.913)" style="stroke:none">***</text>
<text x="263.30" y="476.92" font-size="11.2" font-weight="bold" fill="#000" color="#000">L</text>
<text x="327.70" y="475.30" font-size="7.5" text-anchor="middle" font-weight="bold" fill="#000" color="#000" transform="matrix(1 0 0 1.1200 0 -56.712)">Melanoma PDX</text>
<text x="327.70" y="484.00" font-size="7.5" text-anchor="middle" font-weight="bold" fill="#000" color="#000" transform="matrix(1 0 0 1.1200 0 -57.756)">ME12183</text>
<line x1="286.20" y1="499.70" x2="286.20" y2="565.90" stroke="#888" stroke-width="0.6" />
<line x1="284.70" y1="565.90" x2="286.20" y2="565.90" stroke="#888" stroke-width="0.6" />
<text x="282.60" y="567.81" font-size="5.3" text-anchor="end" fill="#1a1a1a" color="#1a1a1a" transform="matrix(1 0 0 1.1200 0 -67.908)">0</text>
<line x1="284.70" y1="554.90" x2="286.20" y2="554.90" stroke="#888" stroke-width="0.6" />
<text x="282.60" y="556.81" font-size="5.3" text-anchor="end" fill="#1a1a1a" color="#1a1a1a" transform="matrix(1 0 0 1.1200 0 -66.588)">200</text>
<line x1="284.70" y1="543.90" x2="286.20" y2="543.90" stroke="#888" stroke-width="0.6" />
<text x="282.60" y="545.81" font-size="5.3" text-anchor="end" fill="#1a1a1a" color="#1a1a1a" transform="matrix(1 0 0 1.1200 0 -65.268)">400</text>
<line x1="284.70" y1="532.90" x2="286.20" y2="532.90" stroke="#888" stroke-width="0.6" />
<text x="282.60" y="534.81" font-size="5.3" text-anchor="end" fill="#1a1a1a" color="#1a1a1a" transform="matrix(1 0 0 1.1200 0 -63.948)">600</text>
<line x1="284.70" y1="521.90" x2="286.20" y2="521.90" stroke="#888" stroke-width="0.6" />
<text x="282.60" y="523.81" font-size="5.3" text-anchor="end" fill="#1a1a1a" color="#1a1a1a" transform="matrix(1 0 0 1.1200 0 -62.628)">800</text>
<line x1="284.70" y1="510.90" x2="286.20" y2="510.90" stroke="#888" stroke-width="0.6" />
<text x="282.60" y="512.81" font-size="5.3" text-anchor="end" fill="#1a1a1a" color="#1a1a1a" transform="matrix(1 0 0 1.1200 0 -61.308)">1,000</text>
<line x1="284.70" y1="499.90" x2="286.20" y2="499.90" stroke="#888" stroke-width="0.6" />
<text x="282.60" y="501.81" font-size="5.3" text-anchor="end" fill="#1a1a1a" color="#1a1a1a" transform="matrix(1 0 0 1.1200 0 -59.988)">1,200</text>
<line x1="285.30" y1="560.40" x2="286.20" y2="560.40" stroke="#888" stroke-width="0.48" />
<line x1="285.30" y1="549.40" x2="286.20" y2="549.40" stroke="#888" stroke-width="0.48" />
<line x1="285.30" y1="538.40" x2="286.20" y2="538.40" stroke="#888" stroke-width="0.48" />
<line x1="285.30" y1="527.40" x2="286.20" y2="527.40" stroke="#888" stroke-width="0.48" />
<line x1="285.30" y1="516.40" x2="286.20" y2="516.40" stroke="#888" stroke-width="0.48" />
<line x1="285.30" y1="505.40" x2="286.20" y2="505.40" stroke="#888" stroke-width="0.48" />
<line x1="286.20" y1="565.90" x2="359.50" y2="565.90" stroke="#888" stroke-width="0.6" />
<line x1="285.90" y1="565.90" x2="285.90" y2="567.40" stroke="#888" stroke-width="0.6" />
<text x="285.90" y="573.84" font-size="5.4" text-anchor="middle" fill="#1a1a1a" color="#1a1a1a" transform="matrix(1 0 0 1.1200 0 -68.628)">30</text>
<line x1="296.20" y1="565.90" x2="296.20" y2="567.40" stroke="#888" stroke-width="0.6" />
<text x="296.20" y="573.84" font-size="5.4" text-anchor="middle" fill="#1a1a1a" color="#1a1a1a" transform="matrix(1 0 0 1.1200 0 -68.628)">35</text>
<line x1="306.50" y1="565.90" x2="306.50" y2="567.40" stroke="#888" stroke-width="0.6" />
<text x="306.50" y="573.84" font-size="5.4" text-anchor="middle" fill="#1a1a1a" color="#1a1a1a" transform="matrix(1 0 0 1.1200 0 -68.628)">40</text>
<line x1="316.80" y1="565.90" x2="316.80" y2="567.40" stroke="#888" stroke-width="0.6" />
<text x="316.80" y="573.84" font-size="5.4" text-anchor="middle" fill="#1a1a1a" color="#1a1a1a" transform="matrix(1 0 0 1.1200 0 -68.628)">45</text>
<line x1="327.10" y1="565.90" x2="327.10" y2="567.40" stroke="#888" stroke-width="0.6" />
<text x="327.10" y="573.84" font-size="5.4" text-anchor="middle" fill="#1a1a1a" color="#1a1a1a" transform="matrix(1 0 0 1.1200 0 -68.628)">50</text>
<line x1="337.40" y1="565.90" x2="337.40" y2="567.40" stroke="#888" stroke-width="0.6" />
<text x="337.40" y="573.84" font-size="5.4" text-anchor="middle" fill="#1a1a1a" color="#1a1a1a" transform="matrix(1 0 0 1.1200 0 -68.628)">55</text>
<line x1="347.70" y1="565.90" x2="347.70" y2="567.40" stroke="#888" stroke-width="0.6" />
<text x="347.70" y="573.84" font-size="5.4" text-anchor="middle" fill="#1a1a1a" color="#1a1a1a" transform="matrix(1 0 0 1.1200 0 -68.628)">60</text>
<line x1="358.00" y1="565.90" x2="358.00" y2="567.40" stroke="#888" stroke-width="0.6" />
<text x="358.00" y="573.84" font-size="5.4" text-anchor="middle" fill="#1a1a1a" color="#1a1a1a" transform="matrix(1 0 0 1.1200 0 -68.628)">65</text>
<line x1="285.90" y1="565.90" x2="285.90" y2="566.80" stroke="#888" stroke-width="0.48" />
<line x1="287.96" y1="565.90" x2="287.96" y2="566.80" stroke="#888" stroke-width="0.48" />
<line x1="290.02" y1="565.90" x2="290.02" y2="566.80" stroke="#888" stroke-width="0.48" />
<line x1="292.08" y1="565.90" x2="292.08" y2="566.80" stroke="#888" stroke-width="0.48" />
<line x1="294.14" y1="565.90" x2="294.14" y2="566.80" stroke="#888" stroke-width="0.48" />
<line x1="296.20" y1="565.90" x2="296.20" y2="566.80" stroke="#888" stroke-width="0.48" />
<line x1="298.26" y1="565.90" x2="298.26" y2="566.80" stroke="#888" stroke-width="0.48" />
<line x1="300.32" y1="565.90" x2="300.32" y2="566.80" stroke="#888" stroke-width="0.48" />
<line x1="302.38" y1="565.90" x2="302.38" y2="566.80" stroke="#888" stroke-width="0.48" />
<line x1="304.44" y1="565.90" x2="304.44" y2="566.80" stroke="#888" stroke-width="0.48" />
<line x1="306.50" y1="565.90" x2="306.50" y2="566.80" stroke="#888" stroke-width="0.48" />
<line x1="308.56" y1="565.90" x2="308.56" y2="566.80" stroke="#888" stroke-width="0.48" />
<line x1="310.62" y1="565.90" x2="310.62" y2="566.80" stroke="#888" stroke-width="0.48" />
<line x1="312.68" y1="565.90" x2="312.68" y2="566.80" stroke="#888" stroke-width="0.48" />
<line x1="314.74" y1="565.90" x2="314.74" y2="566.80" stroke="#888" stroke-width="0.48" />
<line x1="316.80" y1="565.90" x2="316.80" y2="566.80" stroke="#888" stroke-width="0.48" />
<line x1="318.86" y1="565.90" x2="318.86" y2="566.80" stroke="#888" stroke-width="0.48" />
<line x1="320.92" y1="565.90" x2="320.92" y2="566.80" stroke="#888" stroke-width="0.48" />
<line x1="322.98" y1="565.90" x2="322.98" y2="566.80" stroke="#888" stroke-width="0.48" />
<line x1="325.04" y1="565.90" x2="325.04" y2="566.80" stroke="#888" stroke-width="0.48" />
<line x1="327.10" y1="565.90" x2="327.10" y2="566.80" stroke="#888" stroke-width="0.48" />
<line x1="329.16" y1="565.90" x2="329.16" y2="566.80" stroke="#888" stroke-width="0.48" />
<line x1="331.22" y1="565.90" x2="331.22" y2="566.80" stroke="#888" stroke-width="0.48" />
<line x1="333.28" y1="565.90" x2="333.28" y2="566.80" stroke="#888" stroke-width="0.48" />
<line x1="335.34" y1="565.90" x2="335.34" y2="566.80" stroke="#888" stroke-width="0.48" />
<line x1="337.40" y1="565.90" x2="337.40" y2="566.80" stroke="#888" stroke-width="0.48" />
<line x1="339.46" y1="565.90" x2="339.46" y2="566.80" stroke="#888" stroke-width="0.48" />
<line x1="341.52" y1="565.90" x2="341.52" y2="566.80" stroke="#888" stroke-width="0.48" />
<line x1="343.58" y1="565.90" x2="343.58" y2="566.80" stroke="#888" stroke-width="0.48" />
<line x1="345.64" y1="565.90" x2="345.64" y2="566.80" stroke="#888" stroke-width="0.48" />
<line x1="347.70" y1="565.90" x2="347.70" y2="566.80" stroke="#888" stroke-width="0.48" />
<line x1="349.76" y1="565.90" x2="349.76" y2="566.80" stroke="#888" stroke-width="0.48" />
<line x1="351.82" y1="565.90" x2="351.82" y2="566.80" stroke="#888" stroke-width="0.48" />
<line x1="353.88" y1="565.90" x2="353.88" y2="566.80" stroke="#888" stroke-width="0.48" />
<line x1="355.94" y1="565.90" x2="355.94" y2="566.80" stroke="#888" stroke-width="0.48" />
<line x1="358.00" y1="565.90" x2="358.00" y2="566.80" stroke="#888" stroke-width="0.48" />
<text x="263.26" y="532.80" font-size="7.1" text-anchor="middle" fill="#1a1a1a" color="#1a1a1a" transform="matrix(0.8929 0 0 1 27.932 0) rotate(-90 263.26 532.80)">Tumor volume (mm³)</text>
<text x="267.30" y="581.55" font-size="4.3" fill="#1a1a1a" color="#1a1a1a" transform="matrix(1 0 0 1.1200 0 -69.600)" style="stroke:none">Dosing (PO)</text>
<line x1="291.90" y1="579.80" x2="351.50" y2="579.80" stroke="#222" stroke-width="1.1" />
<line x1="291.90" y1="578.10" x2="291.90" y2="581.50" stroke="#222" stroke-width="0.9" />
<line x1="351.50" y1="578.10" x2="351.50" y2="581.50" stroke="#222" stroke-width="0.9" />
<text x="324.60" y="589.44" font-size="5.4" text-anchor="middle" fill="#1a1a1a" color="#1a1a1a" transform="matrix(1 0 0 1.1200 0 -70.500)">Time (days post cell implantation)</text>
<line x1="288.60" y1="501.70" x2="293.80" y2="501.70" stroke="#000000" stroke-width="1.5" />
<circle cx="291.20" cy="501.70" r="1.35" fill="#000000" />
<text x="296.90" y="503.72" font-size="5.6" fill="#1a1a1a" color="#1a1a1a" transform="matrix(1 0 0 1.1200 0 -60.204)" style="stroke:none">Vehicle</text>
<line x1="288.60" y1="508.70" x2="293.80" y2="508.70" stroke="#ff1a1a" stroke-width="1.5" />
<circle cx="291.20" cy="508.70" r="1.35" fill="#ff1a1a" />
<text x="296.90" y="510.72" font-size="5.6" fill="#1a1a1a" color="#1a1a1a" transform="matrix(1 0 0 1.1200 0 -61.044)" style="stroke:none">25 mg/kg</text>
<line x1="288.60" y1="515.70" x2="293.80" y2="515.70" stroke="#1a8c1a" stroke-width="1.5" />
<circle cx="291.20" cy="515.70" r="1.35" fill="#1a8c1a" />
<text x="296.90" y="517.72" font-size="5.6" fill="#1a1a1a" color="#1a1a1a" transform="matrix(1 0 0 1.1200 0 -61.884)" style="stroke:none">50 mg/kg</text>
<line x1="288.60" y1="523.00" x2="293.80" y2="523.00" stroke="#1f2fff" stroke-width="1.5" />
<circle cx="291.20" cy="523.00" r="1.35" fill="#1f2fff" />
<text x="296.90" y="525.02" font-size="5.6" fill="#1a1a1a" color="#1a1a1a" transform="matrix(1 0 0 1.1200 0 -62.760)" style="stroke:none">100 mg/kg</text>
<polyline points="291.90,558.10 298.70,555.00 306.90,552.20 313.10,552.70 321.30,553.30 329.60,553.70 338.10,556.20 344.40,558.10 350.80,559.00" fill="none" stroke="#1a8c1a" stroke-width="1.35" stroke-linejoin="round" />
<circle cx="291.90" cy="558.10" r="1.25" fill="#1a8c1a" />
<circle cx="298.70" cy="555.00" r="1.25" fill="#1a8c1a" />
<line x1="306.90" y1="551.00" x2="306.90" y2="553.40" stroke="#1a8c1a" stroke-width="0.9" />
<line x1="305.60" y1="551.00" x2="308.20" y2="551.00" stroke="#1a8c1a" stroke-width="0.9" />
<line x1="305.60" y1="553.40" x2="308.20" y2="553.40" stroke="#1a8c1a" stroke-width="0.9" />
<circle cx="306.90" cy="552.20" r="1.25" fill="#1a8c1a" />
<line x1="313.10" y1="551.20" x2="313.10" y2="554.20" stroke="#1a8c1a" stroke-width="0.9" />
<line x1="311.80" y1="551.20" x2="314.40" y2="551.20" stroke="#1a8c1a" stroke-width="0.9" />
<line x1="311.80" y1="554.20" x2="314.40" y2="554.20" stroke="#1a8c1a" stroke-width="0.9" />
<circle cx="313.10" cy="552.70" r="1.25" fill="#1a8c1a" />
<line x1="321.30" y1="551.80" x2="321.30" y2="554.80" stroke="#1a8c1a" stroke-width="0.9" />
<line x1="320.00" y1="551.80" x2="322.60" y2="551.80" stroke="#1a8c1a" stroke-width="0.9" />
<line x1="320.00" y1="554.80" x2="322.60" y2="554.80" stroke="#1a8c1a" stroke-width="0.9" />
<circle cx="321.30" cy="553.30" r="1.25" fill="#1a8c1a" />
<line x1="329.60" y1="552.20" x2="329.60" y2="555.20" stroke="#1a8c1a" stroke-width="0.9" />
<line x1="328.30" y1="552.20" x2="330.90" y2="552.20" stroke="#1a8c1a" stroke-width="0.9" />
<line x1="328.30" y1="555.20" x2="330.90" y2="555.20" stroke="#1a8c1a" stroke-width="0.9" />
<circle cx="329.60" cy="553.70" r="1.25" fill="#1a8c1a" />
<line x1="338.10" y1="555.00" x2="338.10" y2="557.40" stroke="#1a8c1a" stroke-width="0.9" />
<line x1="336.80" y1="555.00" x2="339.40" y2="555.00" stroke="#1a8c1a" stroke-width="0.9" />
<line x1="336.80" y1="557.40" x2="339.40" y2="557.40" stroke="#1a8c1a" stroke-width="0.9" />
<circle cx="338.10" cy="556.20" r="1.25" fill="#1a8c1a" />
<line x1="344.40" y1="557.10" x2="344.40" y2="559.10" stroke="#1a8c1a" stroke-width="0.9" />
<line x1="343.10" y1="557.10" x2="345.70" y2="557.10" stroke="#1a8c1a" stroke-width="0.9" />
<line x1="343.10" y1="559.10" x2="345.70" y2="559.10" stroke="#1a8c1a" stroke-width="0.9" />
<circle cx="344.40" cy="558.10" r="1.25" fill="#1a8c1a" />
<line x1="350.80" y1="558.00" x2="350.80" y2="560.00" stroke="#1a8c1a" stroke-width="0.9" />
<line x1="349.50" y1="558.00" x2="352.10" y2="558.00" stroke="#1a8c1a" stroke-width="0.9" />
<line x1="349.50" y1="560.00" x2="352.10" y2="560.00" stroke="#1a8c1a" stroke-width="0.9" />
<circle cx="350.80" cy="559.00" r="1.25" fill="#1a8c1a" />
<polyline points="291.90,558.10 298.70,555.00 306.90,552.20 313.10,553.30 321.30,555.20 329.60,556.50 338.10,559.00 344.40,561.00 350.80,562.30" fill="none" stroke="#1f2fff" stroke-width="1.35" stroke-linejoin="round" />
<circle cx="291.90" cy="558.10" r="1.25" fill="#1f2fff" />
<circle cx="298.70" cy="555.00" r="1.25" fill="#1f2fff" />
<circle cx="306.90" cy="552.20" r="1.25" fill="#1f2fff" />
<line x1="313.10" y1="552.30" x2="313.10" y2="554.30" stroke="#1f2fff" stroke-width="0.9" />
<line x1="311.80" y1="552.30" x2="314.40" y2="552.30" stroke="#1f2fff" stroke-width="0.9" />
<line x1="311.80" y1="554.30" x2="314.40" y2="554.30" stroke="#1f2fff" stroke-width="0.9" />
<circle cx="313.10" cy="553.30" r="1.25" fill="#1f2fff" />
<line x1="321.30" y1="554.00" x2="321.30" y2="556.40" stroke="#1f2fff" stroke-width="0.9" />
<line x1="320.00" y1="554.00" x2="322.60" y2="554.00" stroke="#1f2fff" stroke-width="0.9" />
<line x1="320.00" y1="556.40" x2="322.60" y2="556.40" stroke="#1f2fff" stroke-width="0.9" />
<circle cx="321.30" cy="555.20" r="1.25" fill="#1f2fff" />
<line x1="329.60" y1="555.50" x2="329.60" y2="557.50" stroke="#1f2fff" stroke-width="0.9" />
<line x1="328.30" y1="555.50" x2="330.90" y2="555.50" stroke="#1f2fff" stroke-width="0.9" />
<line x1="328.30" y1="557.50" x2="330.90" y2="557.50" stroke="#1f2fff" stroke-width="0.9" />
<circle cx="329.60" cy="556.50" r="1.25" fill="#1f2fff" />
<line x1="338.10" y1="558.20" x2="338.10" y2="559.80" stroke="#1f2fff" stroke-width="0.9" />
<line x1="336.80" y1="558.20" x2="339.40" y2="558.20" stroke="#1f2fff" stroke-width="0.9" />
<line x1="336.80" y1="559.80" x2="339.40" y2="559.80" stroke="#1f2fff" stroke-width="0.9" />
<circle cx="338.10" cy="559.00" r="1.25" fill="#1f2fff" />
<line x1="344.40" y1="560.20" x2="344.40" y2="561.80" stroke="#1f2fff" stroke-width="0.9" />
<line x1="343.10" y1="560.20" x2="345.70" y2="560.20" stroke="#1f2fff" stroke-width="0.9" />
<line x1="343.10" y1="561.80" x2="345.70" y2="561.80" stroke="#1f2fff" stroke-width="0.9" />
<circle cx="344.40" cy="561.00" r="1.25" fill="#1f2fff" />
<line x1="350.80" y1="561.50" x2="350.80" y2="563.10" stroke="#1f2fff" stroke-width="0.9" />
<line x1="349.50" y1="561.50" x2="352.10" y2="561.50" stroke="#1f2fff" stroke-width="0.9" />
<line x1="349.50" y1="563.10" x2="352.10" y2="563.10" stroke="#1f2fff" stroke-width="0.9" />
<circle cx="350.80" cy="562.30" r="1.25" fill="#1f2fff" />
<polyline points="291.90,558.10 298.70,555.00 306.90,551.50 313.10,550.40 321.30,548.80 329.60,546.50 338.10,549.20 344.40,546.90 350.80,547.90" fill="none" stroke="#ff1a1a" stroke-width="1.35" stroke-linejoin="round" />
<circle cx="291.90" cy="558.10" r="1.25" fill="#ff1a1a" />
<line x1="298.70" y1="554.00" x2="298.70" y2="556.00" stroke="#ff1a1a" stroke-width="0.9" />
<line x1="297.40" y1="554.00" x2="300.00" y2="554.00" stroke="#ff1a1a" stroke-width="0.9" />
<line x1="297.40" y1="556.00" x2="300.00" y2="556.00" stroke="#ff1a1a" stroke-width="0.9" />
<circle cx="298.70" cy="555.00" r="1.25" fill="#ff1a1a" />
<line x1="306.90" y1="550.50" x2="306.90" y2="552.50" stroke="#ff1a1a" stroke-width="0.9" />
<line x1="305.60" y1="550.50" x2="308.20" y2="550.50" stroke="#ff1a1a" stroke-width="0.9" />
<line x1="305.60" y1="552.50" x2="308.20" y2="552.50" stroke="#ff1a1a" stroke-width="0.9" />
<circle cx="306.90" cy="551.50" r="1.25" fill="#ff1a1a" />
<line x1="313.10" y1="548.10" x2="313.10" y2="552.70" stroke="#ff1a1a" stroke-width="0.9" />
<line x1="311.80" y1="548.10" x2="314.40" y2="548.10" stroke="#ff1a1a" stroke-width="0.9" />
<line x1="311.80" y1="552.70" x2="314.40" y2="552.70" stroke="#ff1a1a" stroke-width="0.9" />
<circle cx="313.10" cy="550.40" r="1.25" fill="#ff1a1a" />
<line x1="321.30" y1="546.20" x2="321.30" y2="551.40" stroke="#ff1a1a" stroke-width="0.9" />
<line x1="320.00" y1="546.20" x2="322.60" y2="546.20" stroke="#ff1a1a" stroke-width="0.9" />
<line x1="320.00" y1="551.40" x2="322.60" y2="551.40" stroke="#ff1a1a" stroke-width="0.9" />
<circle cx="321.30" cy="548.80" r="1.25" fill="#ff1a1a" />
<line x1="329.60" y1="544.00" x2="329.60" y2="549.00" stroke="#ff1a1a" stroke-width="0.9" />
<line x1="328.30" y1="544.00" x2="330.90" y2="544.00" stroke="#ff1a1a" stroke-width="0.9" />
<line x1="328.30" y1="549.00" x2="330.90" y2="549.00" stroke="#ff1a1a" stroke-width="0.9" />
<circle cx="329.60" cy="546.50" r="1.25" fill="#ff1a1a" />
<line x1="338.10" y1="546.90" x2="338.10" y2="551.50" stroke="#ff1a1a" stroke-width="0.9" />
<line x1="336.80" y1="546.90" x2="339.40" y2="546.90" stroke="#ff1a1a" stroke-width="0.9" />
<line x1="336.80" y1="551.50" x2="339.40" y2="551.50" stroke="#ff1a1a" stroke-width="0.9" />
<circle cx="338.10" cy="549.20" r="1.25" fill="#ff1a1a" />
<line x1="344.40" y1="544.50" x2="344.40" y2="549.30" stroke="#ff1a1a" stroke-width="0.9" />
<line x1="343.10" y1="544.50" x2="345.70" y2="544.50" stroke="#ff1a1a" stroke-width="0.9" />
<line x1="343.10" y1="549.30" x2="345.70" y2="549.30" stroke="#ff1a1a" stroke-width="0.9" />
<circle cx="344.40" cy="546.90" r="1.25" fill="#ff1a1a" />
<line x1="350.80" y1="545.70" x2="350.80" y2="550.10" stroke="#ff1a1a" stroke-width="0.9" />
<line x1="349.50" y1="545.70" x2="352.10" y2="545.70" stroke="#ff1a1a" stroke-width="0.9" />
<line x1="349.50" y1="550.10" x2="352.10" y2="550.10" stroke="#ff1a1a" stroke-width="0.9" />
<circle cx="350.80" cy="547.90" r="1.25" fill="#ff1a1a" />
<polyline points="291.90,558.10 298.70,555.00 306.90,551.70 313.10,546.50 321.30,540.20 329.60,529.20 338.10,521.00 344.40,515.60 350.80,508.80" fill="none" stroke="#000000" stroke-width="1.35" stroke-linejoin="round" />
<rect x="290.65" y="556.85" width="2.50" height="2.50" fill="#000000" />
<rect x="297.45" y="553.75" width="2.50" height="2.50" fill="#000000" />
<line x1="306.90" y1="550.70" x2="306.90" y2="552.70" stroke="#000000" stroke-width="0.9" />
<line x1="305.60" y1="550.70" x2="308.20" y2="550.70" stroke="#000000" stroke-width="0.9" />
<line x1="305.60" y1="552.70" x2="308.20" y2="552.70" stroke="#000000" stroke-width="0.9" />
<rect x="305.65" y="550.45" width="2.50" height="2.50" fill="#000000" />
<line x1="313.10" y1="544.10" x2="313.10" y2="548.90" stroke="#000000" stroke-width="0.9" />
<line x1="311.80" y1="544.10" x2="314.40" y2="544.10" stroke="#000000" stroke-width="0.9" />
<line x1="311.80" y1="548.90" x2="314.40" y2="548.90" stroke="#000000" stroke-width="0.9" />
<rect x="311.85" y="545.25" width="2.50" height="2.50" fill="#000000" />
<line x1="321.30" y1="537.50" x2="321.30" y2="542.90" stroke="#000000" stroke-width="0.9" />
<line x1="320.00" y1="537.50" x2="322.60" y2="537.50" stroke="#000000" stroke-width="0.9" />
<line x1="320.00" y1="542.90" x2="322.60" y2="542.90" stroke="#000000" stroke-width="0.9" />
<rect x="320.05" y="538.95" width="2.50" height="2.50" fill="#000000" />
<line x1="329.60" y1="524.90" x2="329.60" y2="533.50" stroke="#000000" stroke-width="0.9" />
<line x1="328.30" y1="524.90" x2="330.90" y2="524.90" stroke="#000000" stroke-width="0.9" />
<line x1="328.30" y1="533.50" x2="330.90" y2="533.50" stroke="#000000" stroke-width="0.9" />
<rect x="328.35" y="527.95" width="2.50" height="2.50" fill="#000000" />
<line x1="338.10" y1="515.00" x2="338.10" y2="527.00" stroke="#000000" stroke-width="0.9" />
<line x1="336.80" y1="515.00" x2="339.40" y2="515.00" stroke="#000000" stroke-width="0.9" />
<line x1="336.80" y1="527.00" x2="339.40" y2="527.00" stroke="#000000" stroke-width="0.9" />
<rect x="336.85" y="519.75" width="2.50" height="2.50" fill="#000000" />
<line x1="344.40" y1="508.90" x2="344.40" y2="522.30" stroke="#000000" stroke-width="0.9" />
<line x1="343.10" y1="508.90" x2="345.70" y2="508.90" stroke="#000000" stroke-width="0.9" />
<line x1="343.10" y1="522.30" x2="345.70" y2="522.30" stroke="#000000" stroke-width="0.9" />
<rect x="343.15" y="514.35" width="2.50" height="2.50" fill="#000000" />
<line x1="350.80" y1="500.80" x2="350.80" y2="516.80" stroke="#000000" stroke-width="0.9" />
<line x1="349.50" y1="500.80" x2="352.10" y2="500.80" stroke="#000000" stroke-width="0.9" />
<line x1="349.50" y1="516.80" x2="352.10" y2="516.80" stroke="#000000" stroke-width="0.9" />
<rect x="349.55" y="507.55" width="2.50" height="2.50" fill="#000000" />
<text x="354.00" y="550.12" font-size="4.5" fill="#ff1a1a" color="#ff1a1a" transform="matrix(1 0 0 1.1200 0 -65.820)" style="stroke:none">80% TGI</text>
<text x="371.57" y="548.95" font-size="2.79" fill="#ff1a1a" color="#ff1a1a" transform="matrix(1 0 0 1.1200 0 -65.753)" style="stroke:none">***</text>
<text x="354.00" y="559.52" font-size="4.5" fill="#1a8c1a" color="#1a8c1a" transform="matrix(1 0 0 1.1200 0 -66.948)" style="stroke:none">16% TR</text>
<text x="370.07" y="558.35" font-size="2.79" fill="#1a8c1a" color="#1a8c1a" transform="matrix(1 0 0 1.1200 0 -66.881)" style="stroke:none">***</text>
<text x="354.00" y="564.32" font-size="4.5" fill="#1f2fff" color="#1f2fff" transform="matrix(1 0 0 1.1200 0 -67.524)" style="stroke:none">51% TR</text>
<text x="370.07" y="563.15" font-size="2.79" fill="#1f2fff" color="#1f2fff" transform="matrix(1 0 0 1.1200 0 -67.457)" style="stroke:none">***</text>
<text x="383.90" y="476.02" font-size="11.2" font-weight="bold" fill="#000" color="#000">M</text>
<text x="451.10" y="475.30" font-size="7.5" text-anchor="middle" font-weight="bold" fill="#000" color="#000" transform="matrix(1 0 0 1.1200 0 -56.712)">Esophageal PDX</text>
<text x="451.10" y="484.00" font-size="7.5" text-anchor="middle" font-weight="bold" fill="#000" color="#000" transform="matrix(1 0 0 1.1200 0 -57.756)">ES11082</text>
<line x1="409.80" y1="499.70" x2="409.80" y2="565.90" stroke="#888" stroke-width="0.6" />
<line x1="408.30" y1="565.90" x2="409.80" y2="565.90" stroke="#888" stroke-width="0.6" />
<text x="406.20" y="567.81" font-size="5.3" text-anchor="end" fill="#1a1a1a" color="#1a1a1a" transform="matrix(1 0 0 1.1200 0 -67.908)">0</text>
<line x1="408.30" y1="549.40" x2="409.80" y2="549.40" stroke="#888" stroke-width="0.6" />
<text x="406.20" y="551.31" font-size="5.3" text-anchor="end" fill="#1a1a1a" color="#1a1a1a" transform="matrix(1 0 0 1.1200 0 -65.928)">500</text>
<line x1="408.30" y1="532.90" x2="409.80" y2="532.90" stroke="#888" stroke-width="0.6" />
<text x="406.20" y="534.81" font-size="5.3" text-anchor="end" fill="#1a1a1a" color="#1a1a1a" transform="matrix(1 0 0 1.1200 0 -63.948)">1,000</text>
<line x1="408.30" y1="516.40" x2="409.80" y2="516.40" stroke="#888" stroke-width="0.6" />
<text x="406.20" y="518.31" font-size="5.3" text-anchor="end" fill="#1a1a1a" color="#1a1a1a" transform="matrix(1 0 0 1.1200 0 -61.968)">1,500</text>
<line x1="408.30" y1="499.90" x2="409.80" y2="499.90" stroke="#888" stroke-width="0.6" />
<text x="406.20" y="501.81" font-size="5.3" text-anchor="end" fill="#1a1a1a" color="#1a1a1a" transform="matrix(1 0 0 1.1200 0 -59.988)">2,000</text>
<line x1="408.90" y1="557.65" x2="409.80" y2="557.65" stroke="#888" stroke-width="0.48" />
<line x1="408.90" y1="541.15" x2="409.80" y2="541.15" stroke="#888" stroke-width="0.48" />
<line x1="408.90" y1="524.65" x2="409.80" y2="524.65" stroke="#888" stroke-width="0.48" />
<line x1="408.90" y1="508.15" x2="409.80" y2="508.15" stroke="#888" stroke-width="0.48" />
<line x1="409.80" y1="565.90" x2="482.50" y2="565.90" stroke="#888" stroke-width="0.6" />
<line x1="408.80" y1="565.90" x2="408.80" y2="567.40" stroke="#888" stroke-width="0.6" />
<text x="408.80" y="573.84" font-size="5.4" text-anchor="middle" fill="#1a1a1a" color="#1a1a1a" transform="matrix(1 0 0 1.1200 0 -68.628)">20</text>
<line x1="417.80" y1="565.90" x2="417.80" y2="567.40" stroke="#888" stroke-width="0.6" />
<text x="417.80" y="573.84" font-size="5.4" text-anchor="middle" fill="#1a1a1a" color="#1a1a1a" transform="matrix(1 0 0 1.1200 0 -68.628)">25</text>
<line x1="429.60" y1="565.90" x2="429.60" y2="567.40" stroke="#888" stroke-width="0.6" />
<text x="429.60" y="573.84" font-size="5.4" text-anchor="middle" fill="#1a1a1a" color="#1a1a1a" transform="matrix(1 0 0 1.1200 0 -68.628)">30</text>
<line x1="440.00" y1="565.90" x2="440.00" y2="567.40" stroke="#888" stroke-width="0.6" />
<text x="440.00" y="573.84" font-size="5.4" text-anchor="middle" fill="#1a1a1a" color="#1a1a1a" transform="matrix(1 0 0 1.1200 0 -68.628)">35</text>
<line x1="450.40" y1="565.90" x2="450.40" y2="567.40" stroke="#888" stroke-width="0.6" />
<text x="450.40" y="573.84" font-size="5.4" text-anchor="middle" fill="#1a1a1a" color="#1a1a1a" transform="matrix(1 0 0 1.1200 0 -68.628)">40</text>
<line x1="462.00" y1="565.90" x2="462.00" y2="567.40" stroke="#888" stroke-width="0.6" />
<text x="462.00" y="573.84" font-size="5.4" text-anchor="middle" fill="#1a1a1a" color="#1a1a1a" transform="matrix(1 0 0 1.1200 0 -68.628)">45</text>
<line x1="472.50" y1="565.90" x2="472.50" y2="567.40" stroke="#888" stroke-width="0.6" />
<text x="472.50" y="573.84" font-size="5.4" text-anchor="middle" fill="#1a1a1a" color="#1a1a1a" transform="matrix(1 0 0 1.1200 0 -68.628)">50</text>
<line x1="482.30" y1="565.90" x2="482.30" y2="567.40" stroke="#888" stroke-width="0.6" />
<text x="482.30" y="573.84" font-size="5.4" text-anchor="middle" fill="#1a1a1a" color="#1a1a1a" transform="matrix(1 0 0 1.1200 0 -68.628)">55</text>
<line x1="408.80" y1="565.90" x2="408.80" y2="566.80" stroke="#888" stroke-width="0.48" />
<line x1="410.60" y1="565.90" x2="410.60" y2="566.80" stroke="#888" stroke-width="0.48" />
<line x1="412.40" y1="565.90" x2="412.40" y2="566.80" stroke="#888" stroke-width="0.48" />
<line x1="414.20" y1="565.90" x2="414.20" y2="566.80" stroke="#888" stroke-width="0.48" />
<line x1="416.00" y1="565.90" x2="416.00" y2="566.80" stroke="#888" stroke-width="0.48" />
<line x1="417.80" y1="565.90" x2="417.80" y2="566.80" stroke="#888" stroke-width="0.48" />
<line x1="420.16" y1="565.90" x2="420.16" y2="566.80" stroke="#888" stroke-width="0.48" />
<line x1="422.52" y1="565.90" x2="422.52" y2="566.80" stroke="#888" stroke-width="0.48" />
<line x1="424.88" y1="565.90" x2="424.88" y2="566.80" stroke="#888" stroke-width="0.48" />
<line x1="427.24" y1="565.90" x2="427.24" y2="566.80" stroke="#888" stroke-width="0.48" />
<line x1="429.60" y1="565.90" x2="429.60" y2="566.80" stroke="#888" stroke-width="0.48" />
<line x1="431.68" y1="565.90" x2="431.68" y2="566.80" stroke="#888" stroke-width="0.48" />
<line x1="433.76" y1="565.90" x2="433.76" y2="566.80" stroke="#888" stroke-width="0.48" />
<line x1="435.84" y1="565.90" x2="435.84" y2="566.80" stroke="#888" stroke-width="0.48" />
<line x1="437.92" y1="565.90" x2="437.92" y2="566.80" stroke="#888" stroke-width="0.48" />
<line x1="440.00" y1="565.90" x2="440.00" y2="566.80" stroke="#888" stroke-width="0.48" />
<line x1="442.08" y1="565.90" x2="442.08" y2="566.80" stroke="#888" stroke-width="0.48" />
<line x1="444.16" y1="565.90" x2="444.16" y2="566.80" stroke="#888" stroke-width="0.48" />
<line x1="446.24" y1="565.90" x2="446.24" y2="566.80" stroke="#888" stroke-width="0.48" />
<line x1="448.32" y1="565.90" x2="448.32" y2="566.80" stroke="#888" stroke-width="0.48" />
<line x1="450.40" y1="565.90" x2="450.40" y2="566.80" stroke="#888" stroke-width="0.48" />
<line x1="452.72" y1="565.90" x2="452.72" y2="566.80" stroke="#888" stroke-width="0.48" />
<line x1="455.04" y1="565.90" x2="455.04" y2="566.80" stroke="#888" stroke-width="0.48" />
<line x1="457.36" y1="565.90" x2="457.36" y2="566.80" stroke="#888" stroke-width="0.48" />
<line x1="459.68" y1="565.90" x2="459.68" y2="566.80" stroke="#888" stroke-width="0.48" />
<line x1="462.00" y1="565.90" x2="462.00" y2="566.80" stroke="#888" stroke-width="0.48" />
<line x1="464.10" y1="565.90" x2="464.10" y2="566.80" stroke="#888" stroke-width="0.48" />
<line x1="466.20" y1="565.90" x2="466.20" y2="566.80" stroke="#888" stroke-width="0.48" />
<line x1="468.30" y1="565.90" x2="468.30" y2="566.80" stroke="#888" stroke-width="0.48" />
<line x1="470.40" y1="565.90" x2="470.40" y2="566.80" stroke="#888" stroke-width="0.48" />
<line x1="472.50" y1="565.90" x2="472.50" y2="566.80" stroke="#888" stroke-width="0.48" />
<line x1="474.46" y1="565.90" x2="474.46" y2="566.80" stroke="#888" stroke-width="0.48" />
<line x1="476.42" y1="565.90" x2="476.42" y2="566.80" stroke="#888" stroke-width="0.48" />
<line x1="478.38" y1="565.90" x2="478.38" y2="566.80" stroke="#888" stroke-width="0.48" />
<line x1="480.34" y1="565.90" x2="480.34" y2="566.80" stroke="#888" stroke-width="0.48" />
<line x1="482.30" y1="565.90" x2="482.30" y2="566.80" stroke="#888" stroke-width="0.48" />
<text x="386.36" y="532.80" font-size="7.1" text-anchor="middle" fill="#1a1a1a" color="#1a1a1a" transform="matrix(0.8929 0 0 1 41.121 0) rotate(-90 386.36 532.80)">Tumor volume (mm³)</text>
<text x="389.60" y="581.55" font-size="4.3" fill="#1a1a1a" color="#1a1a1a" transform="matrix(1 0 0 1.1200 0 -69.600)" style="stroke:none">Dosing (PO)</text>
<line x1="417.50" y1="579.80" x2="476.50" y2="579.80" stroke="#222" stroke-width="1.1" />
<line x1="417.50" y1="578.10" x2="417.50" y2="581.50" stroke="#222" stroke-width="0.9" />
<line x1="476.50" y1="578.10" x2="476.50" y2="581.50" stroke="#222" stroke-width="0.9" />
<text x="449.60" y="589.44" font-size="5.4" text-anchor="middle" fill="#1a1a1a" color="#1a1a1a" transform="matrix(1 0 0 1.1200 0 -70.500)">Time (days post cell implantation)</text>
<line x1="411.10" y1="501.70" x2="416.30" y2="501.70" stroke="#000000" stroke-width="1.5" />
<circle cx="413.70" cy="501.70" r="1.35" fill="#000000" />
<text x="419.40" y="503.72" font-size="5.6" fill="#1a1a1a" color="#1a1a1a" transform="matrix(1 0 0 1.1200 0 -60.204)" style="stroke:none">Vehicle</text>
<line x1="411.10" y1="508.70" x2="416.30" y2="508.70" stroke="#ff1a1a" stroke-width="1.5" />
<circle cx="413.70" cy="508.70" r="1.35" fill="#ff1a1a" />
<text x="419.40" y="510.72" font-size="5.6" fill="#1a1a1a" color="#1a1a1a" transform="matrix(1 0 0 1.1200 0 -61.044)" style="stroke:none">25 mg/kg</text>
<line x1="411.10" y1="515.70" x2="416.30" y2="515.70" stroke="#1a8c1a" stroke-width="1.5" />
<circle cx="413.70" cy="515.70" r="1.35" fill="#1a8c1a" />
<text x="419.40" y="517.72" font-size="5.6" fill="#1a1a1a" color="#1a1a1a" transform="matrix(1 0 0 1.1200 0 -61.884)" style="stroke:none">50 mg/kg</text>
<line x1="411.10" y1="523.00" x2="416.30" y2="523.00" stroke="#1f2fff" stroke-width="1.5" />
<circle cx="413.70" cy="523.00" r="1.35" fill="#1f2fff" />
<text x="419.40" y="525.02" font-size="5.6" fill="#1a1a1a" color="#1a1a1a" transform="matrix(1 0 0 1.1200 0 -62.760)" style="stroke:none">100 mg/kg</text>
<polyline points="416.90,561.90 423.30,561.00 433.80,556.00 440.20,553.70 448.80,552.30 455.00,555.00 463.10,558.50 469.80,559.00 475.80,561.00" fill="none" stroke="#1a8c1a" stroke-width="1.35" stroke-linejoin="round" />
<circle cx="416.90" cy="561.90" r="1.25" fill="#1a8c1a" />
<circle cx="423.30" cy="561.00" r="1.25" fill="#1a8c1a" />
<circle cx="433.80" cy="556.00" r="1.25" fill="#1a8c1a" />
<line x1="440.20" y1="552.50" x2="440.20" y2="554.90" stroke="#1a8c1a" stroke-width="0.9" />
<line x1="438.90" y1="552.50" x2="441.50" y2="552.50" stroke="#1a8c1a" stroke-width="0.9" />
<line x1="438.90" y1="554.90" x2="441.50" y2="554.90" stroke="#1a8c1a" stroke-width="0.9" />
<circle cx="440.20" cy="553.70" r="1.25" fill="#1a8c1a" />
<line x1="448.80" y1="551.10" x2="448.80" y2="553.50" stroke="#1a8c1a" stroke-width="0.9" />
<line x1="447.50" y1="551.10" x2="450.10" y2="551.10" stroke="#1a8c1a" stroke-width="0.9" />
<line x1="447.50" y1="553.50" x2="450.10" y2="553.50" stroke="#1a8c1a" stroke-width="0.9" />
<circle cx="448.80" cy="552.30" r="1.25" fill="#1a8c1a" />
<line x1="455.00" y1="554.00" x2="455.00" y2="556.00" stroke="#1a8c1a" stroke-width="0.9" />
<line x1="453.70" y1="554.00" x2="456.30" y2="554.00" stroke="#1a8c1a" stroke-width="0.9" />
<line x1="453.70" y1="556.00" x2="456.30" y2="556.00" stroke="#1a8c1a" stroke-width="0.9" />
<circle cx="455.00" cy="555.00" r="1.25" fill="#1a8c1a" />
<line x1="463.10" y1="557.70" x2="463.10" y2="559.30" stroke="#1a8c1a" stroke-width="0.9" />
<line x1="461.80" y1="557.70" x2="464.40" y2="557.70" stroke="#1a8c1a" stroke-width="0.9" />
<line x1="461.80" y1="559.30" x2="464.40" y2="559.30" stroke="#1a8c1a" stroke-width="0.9" />
<circle cx="463.10" cy="558.50" r="1.25" fill="#1a8c1a" />
<line x1="469.80" y1="558.20" x2="469.80" y2="559.80" stroke="#1a8c1a" stroke-width="0.9" />
<line x1="468.50" y1="558.20" x2="471.10" y2="558.20" stroke="#1a8c1a" stroke-width="0.9" />
<line x1="468.50" y1="559.80" x2="471.10" y2="559.80" stroke="#1a8c1a" stroke-width="0.9" />
<circle cx="469.80" cy="559.00" r="1.25" fill="#1a8c1a" />
<line x1="475.80" y1="560.40" x2="475.80" y2="561.60" stroke="#1a8c1a" stroke-width="0.9" />
<line x1="474.50" y1="560.40" x2="477.10" y2="560.40" stroke="#1a8c1a" stroke-width="0.9" />
<line x1="474.50" y1="561.60" x2="477.10" y2="561.60" stroke="#1a8c1a" stroke-width="0.9" />
<circle cx="475.80" cy="561.00" r="1.25" fill="#1a8c1a" />
<polyline points="416.90,561.90 423.30,561.00 433.80,558.50 440.20,556.90 448.80,555.60 455.00,560.00 463.10,563.30 469.80,563.30 475.80,564.20" fill="none" stroke="#1f2fff" stroke-width="1.35" stroke-linejoin="round" />
<circle cx="416.90" cy="561.90" r="1.25" fill="#1f2fff" />
<circle cx="423.30" cy="561.00" r="1.25" fill="#1f2fff" />
<circle cx="433.80" cy="558.50" r="1.25" fill="#1f2fff" />
<line x1="440.20" y1="555.50" x2="440.20" y2="558.30" stroke="#1f2fff" stroke-width="0.9" />
<line x1="438.90" y1="555.50" x2="441.50" y2="555.50" stroke="#1f2fff" stroke-width="0.9" />
<line x1="438.90" y1="558.30" x2="441.50" y2="558.30" stroke="#1f2fff" stroke-width="0.9" />
<circle cx="440.20" cy="556.90" r="1.25" fill="#1f2fff" />
<line x1="448.80" y1="554.40" x2="448.80" y2="556.80" stroke="#1f2fff" stroke-width="0.9" />
<line x1="447.50" y1="554.40" x2="450.10" y2="554.40" stroke="#1f2fff" stroke-width="0.9" />
<line x1="447.50" y1="556.80" x2="450.10" y2="556.80" stroke="#1f2fff" stroke-width="0.9" />
<circle cx="448.80" cy="555.60" r="1.25" fill="#1f2fff" />
<line x1="455.00" y1="559.00" x2="455.00" y2="561.00" stroke="#1f2fff" stroke-width="0.9" />
<line x1="453.70" y1="559.00" x2="456.30" y2="559.00" stroke="#1f2fff" stroke-width="0.9" />
<line x1="453.70" y1="561.00" x2="456.30" y2="561.00" stroke="#1f2fff" stroke-width="0.9" />
<circle cx="455.00" cy="560.00" r="1.25" fill="#1f2fff" />
<line x1="463.10" y1="562.70" x2="463.10" y2="563.90" stroke="#1f2fff" stroke-width="0.9" />
<line x1="461.80" y1="562.70" x2="464.40" y2="562.70" stroke="#1f2fff" stroke-width="0.9" />
<line x1="461.80" y1="563.90" x2="464.40" y2="563.90" stroke="#1f2fff" stroke-width="0.9" />
<circle cx="463.10" cy="563.30" r="1.25" fill="#1f2fff" />
<line x1="469.80" y1="562.70" x2="469.80" y2="563.90" stroke="#1f2fff" stroke-width="0.9" />
<line x1="468.50" y1="562.70" x2="471.10" y2="562.70" stroke="#1f2fff" stroke-width="0.9" />
<line x1="468.50" y1="563.90" x2="471.10" y2="563.90" stroke="#1f2fff" stroke-width="0.9" />
<circle cx="469.80" cy="563.30" r="1.25" fill="#1f2fff" />
<line x1="475.80" y1="563.60" x2="475.80" y2="564.80" stroke="#1f2fff" stroke-width="0.9" />
<line x1="474.50" y1="563.60" x2="477.10" y2="563.60" stroke="#1f2fff" stroke-width="0.9" />
<line x1="474.50" y1="564.80" x2="477.10" y2="564.80" stroke="#1f2fff" stroke-width="0.9" />
<circle cx="475.80" cy="564.20" r="1.25" fill="#1f2fff" />
<polyline points="416.90,561.90 423.30,561.00 433.80,556.20 440.20,552.30 448.80,550.80 455.00,551.20 463.10,551.70 469.80,554.20 475.80,556.50" fill="none" stroke="#ff1a1a" stroke-width="1.35" stroke-linejoin="round" />
<circle cx="416.90" cy="561.90" r="1.25" fill="#ff1a1a" />
<circle cx="423.30" cy="561.00" r="1.25" fill="#ff1a1a" />
<circle cx="433.80" cy="556.20" r="1.25" fill="#ff1a1a" />
<line x1="440.20" y1="551.10" x2="440.20" y2="553.50" stroke="#ff1a1a" stroke-width="0.9" />
<line x1="438.90" y1="551.10" x2="441.50" y2="551.10" stroke="#ff1a1a" stroke-width="0.9" />
<line x1="438.90" y1="553.50" x2="441.50" y2="553.50" stroke="#ff1a1a" stroke-width="0.9" />
<circle cx="440.20" cy="552.30" r="1.25" fill="#ff1a1a" />
<line x1="448.80" y1="549.80" x2="448.80" y2="551.80" stroke="#ff1a1a" stroke-width="0.9" />
<line x1="447.50" y1="549.80" x2="450.10" y2="549.80" stroke="#ff1a1a" stroke-width="0.9" />
<line x1="447.50" y1="551.80" x2="450.10" y2="551.80" stroke="#ff1a1a" stroke-width="0.9" />
<circle cx="448.80" cy="550.80" r="1.25" fill="#ff1a1a" />
<line x1="455.00" y1="550.20" x2="455.00" y2="552.20" stroke="#ff1a1a" stroke-width="0.9" />
<line x1="453.70" y1="550.20" x2="456.30" y2="550.20" stroke="#ff1a1a" stroke-width="0.9" />
<line x1="453.70" y1="552.20" x2="456.30" y2="552.20" stroke="#ff1a1a" stroke-width="0.9" />
<circle cx="455.00" cy="551.20" r="1.25" fill="#ff1a1a" />
<line x1="463.10" y1="550.70" x2="463.10" y2="552.70" stroke="#ff1a1a" stroke-width="0.9" />
<line x1="461.80" y1="550.70" x2="464.40" y2="550.70" stroke="#ff1a1a" stroke-width="0.9" />
<line x1="461.80" y1="552.70" x2="464.40" y2="552.70" stroke="#ff1a1a" stroke-width="0.9" />
<circle cx="463.10" cy="551.70" r="1.25" fill="#ff1a1a" />
<line x1="469.80" y1="553.40" x2="469.80" y2="555.00" stroke="#ff1a1a" stroke-width="0.9" />
<line x1="468.50" y1="553.40" x2="471.10" y2="553.40" stroke="#ff1a1a" stroke-width="0.9" />
<line x1="468.50" y1="555.00" x2="471.10" y2="555.00" stroke="#ff1a1a" stroke-width="0.9" />
<circle cx="469.80" cy="554.20" r="1.25" fill="#ff1a1a" />
<line x1="475.80" y1="555.70" x2="475.80" y2="557.30" stroke="#ff1a1a" stroke-width="0.9" />
<line x1="474.50" y1="555.70" x2="477.10" y2="555.70" stroke="#ff1a1a" stroke-width="0.9" />
<line x1="474.50" y1="557.30" x2="477.10" y2="557.30" stroke="#ff1a1a" stroke-width="0.9" />
<circle cx="475.80" cy="556.50" r="1.25" fill="#ff1a1a" />
<polyline points="416.90,561.90 423.30,561.00 433.80,554.20 440.20,546.50 448.80,542.10 455.00,534.40 463.10,526.70 469.80,519.60 475.80,511.90" fill="none" stroke="#000000" stroke-width="1.35" stroke-linejoin="round" />
<rect x="415.65" y="560.65" width="2.50" height="2.50" fill="#000000" />
<rect x="422.05" y="559.75" width="2.50" height="2.50" fill="#000000" />
<line x1="433.80" y1="553.20" x2="433.80" y2="555.20" stroke="#000000" stroke-width="0.9" />
<line x1="432.50" y1="553.20" x2="435.10" y2="553.20" stroke="#000000" stroke-width="0.9" />
<line x1="432.50" y1="555.20" x2="435.10" y2="555.20" stroke="#000000" stroke-width="0.9" />
<rect x="432.55" y="552.95" width="2.50" height="2.50" fill="#000000" />
<line x1="440.20" y1="543.30" x2="440.20" y2="549.70" stroke="#000000" stroke-width="0.9" />
<line x1="438.90" y1="543.30" x2="441.50" y2="543.30" stroke="#000000" stroke-width="0.9" />
<line x1="438.90" y1="549.70" x2="441.50" y2="549.70" stroke="#000000" stroke-width="0.9" />
<rect x="438.95" y="545.25" width="2.50" height="2.50" fill="#000000" />
<line x1="448.80" y1="539.10" x2="448.80" y2="545.10" stroke="#000000" stroke-width="0.9" />
<line x1="447.50" y1="539.10" x2="450.10" y2="539.10" stroke="#000000" stroke-width="0.9" />
<line x1="447.50" y1="545.10" x2="450.10" y2="545.10" stroke="#000000" stroke-width="0.9" />
<rect x="447.55" y="540.85" width="2.50" height="2.50" fill="#000000" />
<line x1="455.00" y1="530.50" x2="455.00" y2="538.30" stroke="#000000" stroke-width="0.9" />
<line x1="453.70" y1="530.50" x2="456.30" y2="530.50" stroke="#000000" stroke-width="0.9" />
<line x1="453.70" y1="538.30" x2="456.30" y2="538.30" stroke="#000000" stroke-width="0.9" />
<rect x="453.75" y="533.15" width="2.50" height="2.50" fill="#000000" />
<line x1="463.10" y1="522.60" x2="463.10" y2="530.80" stroke="#000000" stroke-width="0.9" />
<line x1="461.80" y1="522.60" x2="464.40" y2="522.60" stroke="#000000" stroke-width="0.9" />
<line x1="461.80" y1="530.80" x2="464.40" y2="530.80" stroke="#000000" stroke-width="0.9" />
<rect x="461.85" y="525.45" width="2.50" height="2.50" fill="#000000" />
<line x1="469.80" y1="514.80" x2="469.80" y2="524.40" stroke="#000000" stroke-width="0.9" />
<line x1="468.50" y1="514.80" x2="471.10" y2="514.80" stroke="#000000" stroke-width="0.9" />
<line x1="468.50" y1="524.40" x2="471.10" y2="524.40" stroke="#000000" stroke-width="0.9" />
<rect x="468.55" y="518.35" width="2.50" height="2.50" fill="#000000" />
<line x1="475.80" y1="506.80" x2="475.80" y2="517.00" stroke="#000000" stroke-width="0.9" />
<line x1="474.50" y1="506.80" x2="477.10" y2="506.80" stroke="#000000" stroke-width="0.9" />
<line x1="474.50" y1="517.00" x2="477.10" y2="517.00" stroke="#000000" stroke-width="0.9" />
<rect x="474.55" y="510.65" width="2.50" height="2.50" fill="#000000" />
<text x="480.40" y="555.82" font-size="4.5" fill="#ff1a1a" color="#ff1a1a" transform="matrix(1 0 0 1.1200 0 -66.504)" style="stroke:none">89% TGI</text>
<text x="497.97" y="554.65" font-size="2.79" fill="#ff1a1a" color="#ff1a1a" transform="matrix(1 0 0 1.1200 0 -66.437)" style="stroke:none">***</text>
<text x="480.40" y="560.62" font-size="4.5" fill="#1a8c1a" color="#1a8c1a" transform="matrix(1 0 0 1.1200 0 -67.080)" style="stroke:none">99% TGI</text>
<text x="497.97" y="559.45" font-size="2.79" fill="#1a8c1a" color="#1a8c1a" transform="matrix(1 0 0 1.1200 0 -67.013)" style="stroke:none">***</text>
<text x="480.40" y="564.92" font-size="4.5" fill="#1f2fff" color="#1f2fff" transform="matrix(1 0 0 1.1200 0 -67.596)" style="stroke:none">56% TR</text>
<text x="496.47" y="563.75" font-size="2.79" fill="#1f2fff" color="#1f2fff" transform="matrix(1 0 0 1.1200 0 -67.529)" style="stroke:none">***</text>
</g>
</svg>
</body></html>
